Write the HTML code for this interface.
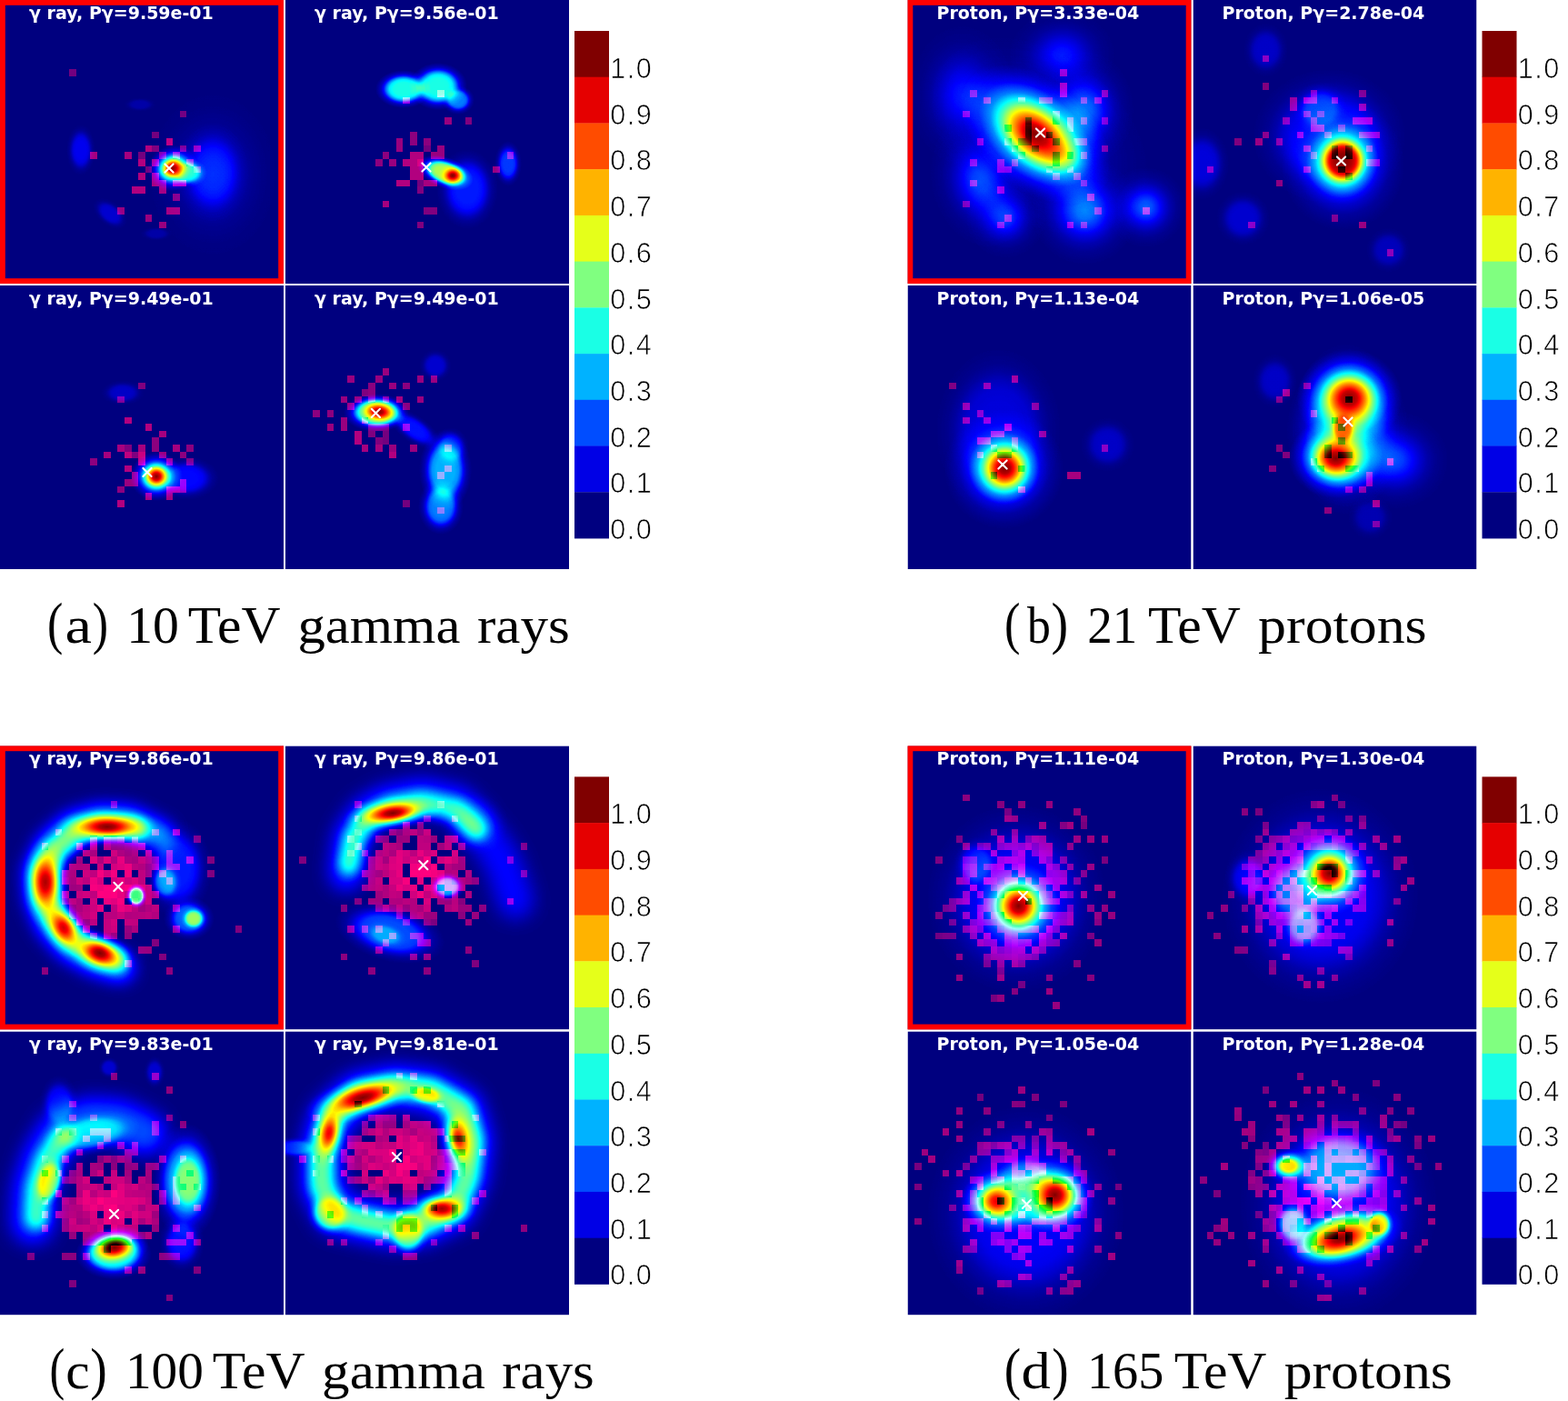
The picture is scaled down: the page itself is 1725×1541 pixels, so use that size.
<!DOCTYPE html><html><head><meta charset="utf-8"><title>figure</title><style>
html,body{margin:0;padding:0;background:#fff;}body{width:1725px;height:1541px;overflow:hidden;}
svg{display:block;}
.tt{font-family:"DejaVu Sans","Liberation Sans",sans-serif;font-weight:bold;fill:#fff;}
.cb{font-family:"Liberation Sans",sans-serif;fill:#000;stroke:#fff;stroke-width:0.7px;letter-spacing:1.5px;}
.cap{font-family:"Liberation Serif","DejaVu Serif",serif;fill:#000;}
</style></head><body>
<svg width="1725" height="1541" viewBox="0 0 1725 1541">
<defs>
<filter id="jet" filterUnits="userSpaceOnUse" x="0" y="0" width="312" height="312" color-interpolation-filters="sRGB"><feComponentTransfer><feFuncR type="table" tableValues="0 0 0 0 0 0 0 0 0 0 0 0 0 0 0 0 0 0 0 0 0 0 0 0 0 0 0 0 0 0 0 0 0 0 0 0 0 0 0 0 0 0 0 0 0 0 0 0 0 0.031 0.062 0.094 0.125 0.156 0.188 0.219 0.25 0.281 0.312 0.344 0.375 0.406 0.438 0.469 0.5 0.531 0.562 0.594 0.625 0.656 0.688 0.719 0.75 0.781 0.812 0.844 0.875 0.906 0.938 0.969 1 1 1 1 1 1 1 1 1 1 1 1 1 1 1 1 1 1 1 1 1 1 1 1 1 1 1 1 1 1 1 1 1 0.969 0.938 0.906 0.875 0.844 0.812 0.781 0.75 0.719 0.688 0.656 0.625 0.594 0.562 0.531 0.5"/><feFuncG type="table" tableValues="0 0 0 0 0 0 0 0 0 0 0 0 0 0 0 0 0 0.031 0.062 0.094 0.125 0.156 0.188 0.219 0.25 0.281 0.312 0.344 0.375 0.406 0.438 0.469 0.5 0.531 0.562 0.594 0.625 0.656 0.688 0.719 0.75 0.781 0.812 0.844 0.875 0.906 0.938 0.969 1 1 1 1 1 1 1 1 1 1 1 1 1 1 1 1 1 1 1 1 1 1 1 1 1 1 1 1 1 1 1 1 1 0.969 0.938 0.906 0.875 0.844 0.812 0.781 0.75 0.719 0.688 0.656 0.625 0.594 0.562 0.531 0.5 0.469 0.438 0.406 0.375 0.344 0.312 0.281 0.25 0.219 0.188 0.156 0.125 0.094 0.062 0.031 0 0 0 0 0 0 0 0 0 0 0 0 0 0 0 0 0"/><feFuncB type="table" tableValues="0.5 0.531 0.562 0.594 0.625 0.656 0.688 0.719 0.75 0.781 0.812 0.844 0.875 0.906 0.938 0.969 1 1 1 1 1 1 1 1 1 1 1 1 1 1 1 1 1 1 1 1 1 1 1 1 1 1 1 1 1 1 1 1 1 0.969 0.938 0.906 0.875 0.844 0.812 0.781 0.75 0.719 0.688 0.656 0.625 0.594 0.562 0.531 0.5 0.469 0.438 0.406 0.375 0.344 0.312 0.281 0.25 0.219 0.188 0.156 0.125 0.094 0.062 0.031 0 0 0 0 0 0 0 0 0 0 0 0 0 0 0 0 0 0 0 0 0 0 0 0 0 0 0 0 0 0 0 0 0 0 0 0 0 0 0 0 0 0 0 0 0 0 0 0 0"/></feComponentTransfer></filter>
<filter id="b1" filterUnits="userSpaceOnUse" x="-60" y="-60" width="432" height="432" color-interpolation-filters="sRGB"><feGaussianBlur stdDeviation="1"/></filter>
<filter id="b2" filterUnits="userSpaceOnUse" x="-60" y="-60" width="432" height="432" color-interpolation-filters="sRGB"><feGaussianBlur stdDeviation="2"/></filter>
<filter id="b3" filterUnits="userSpaceOnUse" x="-60" y="-60" width="432" height="432" color-interpolation-filters="sRGB"><feGaussianBlur stdDeviation="3"/></filter>
<filter id="b4" filterUnits="userSpaceOnUse" x="-60" y="-60" width="432" height="432" color-interpolation-filters="sRGB"><feGaussianBlur stdDeviation="4"/></filter>
<filter id="b5" filterUnits="userSpaceOnUse" x="-60" y="-60" width="432" height="432" color-interpolation-filters="sRGB"><feGaussianBlur stdDeviation="5"/></filter>
<filter id="b6" filterUnits="userSpaceOnUse" x="-60" y="-60" width="432" height="432" color-interpolation-filters="sRGB"><feGaussianBlur stdDeviation="6"/></filter>
<filter id="b7" filterUnits="userSpaceOnUse" x="-60" y="-60" width="432" height="432" color-interpolation-filters="sRGB"><feGaussianBlur stdDeviation="7"/></filter>
<filter id="b8" filterUnits="userSpaceOnUse" x="-60" y="-60" width="432" height="432" color-interpolation-filters="sRGB"><feGaussianBlur stdDeviation="8"/></filter>
<filter id="b9" filterUnits="userSpaceOnUse" x="-60" y="-60" width="432" height="432" color-interpolation-filters="sRGB"><feGaussianBlur stdDeviation="9"/></filter>
<filter id="b10" filterUnits="userSpaceOnUse" x="-60" y="-60" width="432" height="432" color-interpolation-filters="sRGB"><feGaussianBlur stdDeviation="10"/></filter>
<filter id="b11" filterUnits="userSpaceOnUse" x="-60" y="-60" width="432" height="432" color-interpolation-filters="sRGB"><feGaussianBlur stdDeviation="11"/></filter>
<filter id="b12" filterUnits="userSpaceOnUse" x="-60" y="-60" width="432" height="432" color-interpolation-filters="sRGB"><feGaussianBlur stdDeviation="12"/></filter>
<filter id="b13" filterUnits="userSpaceOnUse" x="-60" y="-60" width="432" height="432" color-interpolation-filters="sRGB"><feGaussianBlur stdDeviation="13"/></filter>
<filter id="b14" filterUnits="userSpaceOnUse" x="-60" y="-60" width="432" height="432" color-interpolation-filters="sRGB"><feGaussianBlur stdDeviation="14"/></filter>
<filter id="b15" filterUnits="userSpaceOnUse" x="-60" y="-60" width="432" height="432" color-interpolation-filters="sRGB"><feGaussianBlur stdDeviation="15"/></filter>
<filter id="b16" filterUnits="userSpaceOnUse" x="-60" y="-60" width="432" height="432" color-interpolation-filters="sRGB"><feGaussianBlur stdDeviation="16"/></filter>
<filter id="b17" filterUnits="userSpaceOnUse" x="-60" y="-60" width="432" height="432" color-interpolation-filters="sRGB"><feGaussianBlur stdDeviation="17"/></filter>
<filter id="b18" filterUnits="userSpaceOnUse" x="-60" y="-60" width="432" height="432" color-interpolation-filters="sRGB"><feGaussianBlur stdDeviation="18"/></filter>
<filter id="b19" filterUnits="userSpaceOnUse" x="-60" y="-60" width="432" height="432" color-interpolation-filters="sRGB"><feGaussianBlur stdDeviation="19"/></filter>
<filter id="b20" filterUnits="userSpaceOnUse" x="-60" y="-60" width="432" height="432" color-interpolation-filters="sRGB"><feGaussianBlur stdDeviation="20"/></filter>
<clipPath id="pc"><rect x="0" y="0" width="312" height="312"/></clipPath>
<radialGradient id="rg"><stop offset="0" stop-color="#fff" stop-opacity="1"/><stop offset="0.15" stop-color="#fff" stop-opacity="0.904"/><stop offset="0.30" stop-color="#fff" stop-opacity="0.667"/><stop offset="0.45" stop-color="#fff" stop-opacity="0.402"/><stop offset="0.60" stop-color="#fff" stop-opacity="0.198"/><stop offset="0.75" stop-color="#fff" stop-opacity="0.080"/><stop offset="0.90" stop-color="#fff" stop-opacity="0.026"/><stop offset="1" stop-color="#fff" stop-opacity="0"/></radialGradient>
<radialGradient id="rf"><stop offset="0" stop-color="#fff" stop-opacity="1"/><stop offset="0.20" stop-color="#fff" stop-opacity="1.000"/><stop offset="0.35" stop-color="#fff" stop-opacity="0.993"/><stop offset="0.50" stop-color="#fff" stop-opacity="0.891"/><stop offset="0.60" stop-color="#fff" stop-opacity="0.655"/><stop offset="0.70" stop-color="#fff" stop-opacity="0.356"/><stop offset="0.80" stop-color="#fff" stop-opacity="0.160"/><stop offset="0.90" stop-color="#fff" stop-opacity="0.069"/><stop offset="1" stop-color="#fff" stop-opacity="0"/></radialGradient>
</defs>
<g transform="translate(0 0)">
<g transform="translate(0 0)">
<g clip-path="url(#pc)"><g filter="url(#jet)"><rect width="312" height="312" fill="#000"/><ellipse cx="234" cy="190" rx="40" ry="55" fill="url(#rf)" opacity="0.09"/><ellipse cx="234" cy="192" rx="75" ry="95" fill="url(#rg)" opacity="0.09"/><ellipse cx="89" cy="165" rx="16" ry="28" fill="url(#rf)" opacity="0.11"/><ellipse cx="121" cy="235" rx="22" ry="13" fill="url(#rf)" opacity="0.08" transform="rotate(40 121 235)"/><ellipse cx="154" cy="115" rx="18" ry="8" fill="url(#rf)" opacity="0.04"/><ellipse cx="172" cy="257" rx="18" ry="8" fill="url(#rf)" opacity="0.04"/><ellipse cx="206" cy="190" rx="22" ry="16" fill="url(#rf)" opacity="0.30"/><ellipse cx="190" cy="185" rx="28" ry="25" fill="url(#rg)" opacity="1.00" transform="rotate(-20 190 185)"/></g><g style="mix-blend-mode:difference" shape-rendering="crispEdges"><rect x="76.10" y="76.10" width="7.61" height="7.61" fill="rgb(115,0,0)"/><rect x="197.85" y="121.76" width="7.61" height="7.61" fill="rgb(115,0,0)"/><rect x="167.41" y="144.59" width="7.61" height="7.61" fill="rgb(115,0,0)"/><rect x="182.63" y="152.20" width="7.61" height="7.61" fill="rgb(191,0,0)"/><rect x="159.80" y="159.80" width="7.61" height="7.61" fill="rgb(178,0,0)"/><rect x="167.41" y="159.80" width="7.61" height="7.61" fill="rgb(128,0,0)"/><rect x="197.85" y="159.80" width="7.61" height="7.61" fill="rgb(128,0,0)"/><rect x="213.07" y="159.80" width="7.61" height="7.61" fill="rgb(153,0,0)"/><rect x="98.93" y="167.41" width="7.61" height="7.61" fill="rgb(166,0,0)"/><rect x="136.98" y="167.41" width="7.61" height="7.61" fill="rgb(166,0,0)"/><rect x="152.20" y="167.41" width="7.61" height="7.61" fill="rgb(115,0,0)"/><rect x="175.02" y="167.41" width="7.61" height="7.61" fill="rgb(128,0,0)"/><rect x="190.24" y="167.41" width="7.61" height="7.61" fill="rgb(153,0,0)"/><rect x="152.20" y="175.02" width="7.61" height="7.61" fill="rgb(178,0,0)"/><rect x="167.41" y="175.02" width="7.61" height="7.61" fill="rgb(166,0,0)"/><rect x="205.46" y="175.02" width="7.61" height="7.61" fill="rgb(153,0,0)"/><rect x="159.80" y="182.63" width="7.61" height="7.61" fill="rgb(115,0,0)"/><rect x="213.07" y="182.63" width="7.61" height="7.61" fill="rgb(128,0,0)"/><rect x="152.20" y="190.24" width="7.61" height="7.61" fill="rgb(178,0,0)"/><rect x="167.41" y="190.24" width="7.61" height="7.61" fill="rgb(166,0,0)"/><rect x="167.41" y="197.85" width="7.61" height="7.61" fill="rgb(166,0,0)"/><rect x="175.02" y="197.85" width="7.61" height="7.61" fill="rgb(153,0,0)"/><rect x="190.24" y="197.85" width="7.61" height="7.61" fill="rgb(178,0,0)"/><rect x="197.85" y="197.85" width="7.61" height="7.61" fill="rgb(178,0,0)"/><rect x="144.59" y="205.46" width="7.61" height="7.61" fill="rgb(178,0,0)"/><rect x="152.20" y="205.46" width="7.61" height="7.61" fill="rgb(178,0,0)"/><rect x="175.02" y="205.46" width="7.61" height="7.61" fill="rgb(166,0,0)"/><rect x="190.24" y="213.07" width="7.61" height="7.61" fill="rgb(140,0,0)"/><rect x="129.37" y="228.29" width="7.61" height="7.61" fill="rgb(153,0,0)"/><rect x="182.63" y="228.29" width="7.61" height="7.61" fill="rgb(166,0,0)"/><rect x="190.24" y="228.29" width="7.61" height="7.61" fill="rgb(166,0,0)"/><rect x="159.80" y="235.90" width="7.61" height="7.61" fill="rgb(153,0,0)"/><rect x="175.02" y="243.51" width="7.61" height="7.61" fill="rgb(153,0,0)"/></g></g><path d="M181.4 180.4l9.2 9.2m0 -9.2l-9.2 9.2" stroke="#fff" stroke-width="2.1" stroke-linecap="round" fill="none"/><text class="tt" x="32" y="20.8" font-size="19">γ ray, Pγ=9.59e-01</text>
</g>
<g transform="translate(314 0)">
<g clip-path="url(#pc)"><g filter="url(#jet)"><rect width="312" height="312" fill="#000"/><ellipse cx="200" cy="208" rx="34" ry="44" fill="url(#rf)" opacity="0.15"/><ellipse cx="245" cy="180" rx="15" ry="25" fill="url(#rf)" opacity="0.18"/><ellipse cx="190" cy="110" rx="18" ry="16" fill="url(#rf)" opacity="0.25"/><ellipse cx="130" cy="98" rx="31" ry="21" fill="url(#rf)" opacity="0.40"/><ellipse cx="168" cy="95" rx="32" ry="26" fill="url(#rf)" opacity="0.40"/><ellipse cx="176" cy="190" rx="32" ry="17" fill="url(#rf)" opacity="0.55" transform="rotate(20 176 190)"/><ellipse cx="184" cy="193" rx="16" ry="13" fill="url(#rg)" opacity="1.00"/></g><g style="mix-blend-mode:difference" shape-rendering="crispEdges"><rect x="129.37" y="106.54" width="7.61" height="7.61" fill="rgb(153,0,0)"/><rect x="167.41" y="98.93" width="7.61" height="7.61" fill="rgb(178,0,0)"/><rect x="175.02" y="129.37" width="7.61" height="7.61" fill="rgb(153,0,0)"/><rect x="197.85" y="129.37" width="7.61" height="7.61" fill="rgb(128,0,0)"/><rect x="136.98" y="144.59" width="7.61" height="7.61" fill="rgb(140,0,0)"/><rect x="136.98" y="152.20" width="7.61" height="7.61" fill="rgb(140,0,0)"/><rect x="121.76" y="152.20" width="7.61" height="7.61" fill="rgb(153,0,0)"/><rect x="121.76" y="159.80" width="7.61" height="7.61" fill="rgb(153,0,0)"/><rect x="152.20" y="152.20" width="7.61" height="7.61" fill="rgb(140,0,0)"/><rect x="152.20" y="159.80" width="7.61" height="7.61" fill="rgb(115,0,0)"/><rect x="167.41" y="159.80" width="7.61" height="7.61" fill="rgb(153,0,0)"/><rect x="106.54" y="167.41" width="7.61" height="7.61" fill="rgb(140,0,0)"/><rect x="136.98" y="167.41" width="7.61" height="7.61" fill="rgb(178,0,0)"/><rect x="144.59" y="167.41" width="7.61" height="7.61" fill="rgb(178,0,0)"/><rect x="159.80" y="167.41" width="7.61" height="7.61" fill="rgb(153,0,0)"/><rect x="167.41" y="167.41" width="7.61" height="7.61" fill="rgb(153,0,0)"/><rect x="98.93" y="175.02" width="7.61" height="7.61" fill="rgb(140,0,0)"/><rect x="114.15" y="175.02" width="7.61" height="7.61" fill="rgb(153,0,0)"/><rect x="129.37" y="175.02" width="7.61" height="7.61" fill="rgb(178,0,0)"/><rect x="136.98" y="175.02" width="7.61" height="7.61" fill="rgb(178,0,0)"/><rect x="144.59" y="175.02" width="7.61" height="7.61" fill="rgb(217,0,0)"/><rect x="136.98" y="182.63" width="7.61" height="7.61" fill="rgb(178,0,0)"/><rect x="144.59" y="182.63" width="7.61" height="7.61" fill="rgb(178,0,0)"/><rect x="136.98" y="190.24" width="7.61" height="7.61" fill="rgb(178,0,0)"/><rect x="144.59" y="190.24" width="7.61" height="7.61" fill="rgb(178,0,0)"/><rect x="121.76" y="197.85" width="7.61" height="7.61" fill="rgb(178,0,0)"/><rect x="129.37" y="197.85" width="7.61" height="7.61" fill="rgb(178,0,0)"/><rect x="144.59" y="197.85" width="7.61" height="7.61" fill="rgb(115,0,0)"/><rect x="152.20" y="197.85" width="7.61" height="7.61" fill="rgb(166,0,0)"/><rect x="159.80" y="197.85" width="7.61" height="7.61" fill="rgb(166,0,0)"/><rect x="144.59" y="205.46" width="7.61" height="7.61" fill="rgb(128,0,0)"/><rect x="106.54" y="220.68" width="7.61" height="7.61" fill="rgb(166,0,0)"/><rect x="152.20" y="228.29" width="7.61" height="7.61" fill="rgb(128,0,0)"/><rect x="159.80" y="228.29" width="7.61" height="7.61" fill="rgb(128,0,0)"/><rect x="144.59" y="243.51" width="7.61" height="7.61" fill="rgb(128,0,0)"/><rect x="228.29" y="182.63" width="7.61" height="7.61" fill="rgb(153,0,0)"/><rect x="243.51" y="167.41" width="7.61" height="7.61" fill="rgb(140,0,0)"/></g></g><path d="M150.4 179.4l9.2 9.2m0 -9.2l-9.2 9.2" stroke="#fff" stroke-width="2.1" stroke-linecap="round" fill="none"/><text class="tt" x="32" y="20.8" font-size="19">γ ray, Pγ=9.56e-01</text>
</g>
<g transform="translate(0 314)">
<g clip-path="url(#pc)"><g filter="url(#jet)"><rect width="312" height="312" fill="#000"/><ellipse cx="135" cy="118" rx="24" ry="14" fill="url(#rf)" opacity="0.07"/><ellipse cx="205" cy="212" rx="36" ry="24" fill="url(#rf)" opacity="0.13"/><ellipse cx="172" cy="210" rx="29" ry="27" fill="url(#rg)" opacity="1.00"/></g><g style="mix-blend-mode:difference" shape-rendering="crispEdges"><rect x="152.20" y="106.54" width="7.61" height="7.61" fill="rgb(128,0,0)"/><rect x="129.37" y="121.76" width="7.61" height="7.61" fill="rgb(128,0,0)"/><rect x="136.98" y="144.59" width="7.61" height="7.61" fill="rgb(178,0,0)"/><rect x="159.80" y="152.20" width="7.61" height="7.61" fill="rgb(178,0,0)"/><rect x="175.02" y="159.80" width="7.61" height="7.61" fill="rgb(166,0,0)"/><rect x="167.41" y="167.41" width="7.61" height="7.61" fill="rgb(140,0,0)"/><rect x="167.41" y="175.02" width="7.61" height="7.61" fill="rgb(140,0,0)"/><rect x="129.37" y="175.02" width="7.61" height="7.61" fill="rgb(166,0,0)"/><rect x="136.98" y="175.02" width="7.61" height="7.61" fill="rgb(128,0,0)"/><rect x="152.20" y="175.02" width="7.61" height="7.61" fill="rgb(166,0,0)"/><rect x="190.24" y="175.02" width="7.61" height="7.61" fill="rgb(166,0,0)"/><rect x="205.46" y="175.02" width="7.61" height="7.61" fill="rgb(140,0,0)"/><rect x="114.15" y="182.63" width="7.61" height="7.61" fill="rgb(166,0,0)"/><rect x="136.98" y="182.63" width="7.61" height="7.61" fill="rgb(191,0,0)"/><rect x="144.59" y="182.63" width="7.61" height="7.61" fill="rgb(128,0,0)"/><rect x="152.20" y="182.63" width="7.61" height="7.61" fill="rgb(204,0,0)"/><rect x="175.02" y="182.63" width="7.61" height="7.61" fill="rgb(153,0,0)"/><rect x="197.85" y="182.63" width="7.61" height="7.61" fill="rgb(140,0,0)"/><rect x="98.93" y="190.24" width="7.61" height="7.61" fill="rgb(140,0,0)"/><rect x="152.20" y="190.24" width="7.61" height="7.61" fill="rgb(191,0,0)"/><rect x="182.63" y="190.24" width="7.61" height="7.61" fill="rgb(153,0,0)"/><rect x="205.46" y="190.24" width="7.61" height="7.61" fill="rgb(128,0,0)"/><rect x="136.98" y="197.85" width="7.61" height="7.61" fill="rgb(178,0,0)"/><rect x="144.59" y="205.46" width="7.61" height="7.61" fill="rgb(153,0,0)"/><rect x="136.98" y="213.07" width="7.61" height="7.61" fill="rgb(153,0,0)"/><rect x="144.59" y="213.07" width="7.61" height="7.61" fill="rgb(153,0,0)"/><rect x="197.85" y="213.07" width="7.61" height="7.61" fill="rgb(153,0,0)"/><rect x="197.85" y="220.68" width="7.61" height="7.61" fill="rgb(153,0,0)"/><rect x="182.63" y="220.68" width="7.61" height="7.61" fill="rgb(178,0,0)"/><rect x="190.24" y="220.68" width="7.61" height="7.61" fill="rgb(178,0,0)"/><rect x="129.37" y="220.68" width="7.61" height="7.61" fill="rgb(140,0,0)"/><rect x="159.80" y="228.29" width="7.61" height="7.61" fill="rgb(166,0,0)"/><rect x="182.63" y="228.29" width="7.61" height="7.61" fill="rgb(166,0,0)"/><rect x="129.37" y="235.90" width="7.61" height="7.61" fill="rgb(178,0,0)"/></g></g><path d="M157.4 200.9l9.2 9.2m0 -9.2l-9.2 9.2" stroke="#fff" stroke-width="2.1" stroke-linecap="round" fill="none"/><text class="tt" x="32" y="20.8" font-size="19">γ ray, Pγ=9.49e-01</text>
</g>
<g transform="translate(314 314)">
<g clip-path="url(#pc)"><g filter="url(#jet)"><rect width="312" height="312" fill="#000"/><ellipse cx="165" cy="88" rx="18" ry="18" fill="url(#rf)" opacity="0.08"/><ellipse cx="142" cy="158" rx="34" ry="15" fill="url(#rf)" opacity="0.14" transform="rotate(35 142 158)"/><ellipse cx="182" cy="178" rx="20" ry="22" fill="url(#rf)" opacity="0.12"/><ellipse cx="176" cy="203" rx="29" ry="45" fill="url(#rf)" opacity="0.30"/><ellipse cx="171" cy="243" rx="25" ry="31" fill="url(#rf)" opacity="0.25"/><ellipse cx="100" cy="140" rx="36" ry="21" fill="url(#rf)" opacity="0.42"/><ellipse cx="103" cy="139" rx="30" ry="18" fill="url(#rg)" opacity="1.00" transform="rotate(5 103 139)"/></g><g style="mix-blend-mode:difference" shape-rendering="crispEdges"><rect x="106.54" y="91.32" width="7.61" height="7.61" fill="rgb(153,0,0)"/><rect x="68.49" y="98.93" width="7.61" height="7.61" fill="rgb(153,0,0)"/><rect x="98.93" y="98.93" width="7.61" height="7.61" fill="rgb(153,0,0)"/><rect x="144.59" y="98.93" width="7.61" height="7.61" fill="rgb(153,0,0)"/><rect x="159.80" y="98.93" width="7.61" height="7.61" fill="rgb(153,0,0)"/><rect x="91.32" y="106.54" width="7.61" height="7.61" fill="rgb(140,0,0)"/><rect x="114.15" y="106.54" width="7.61" height="7.61" fill="rgb(153,0,0)"/><rect x="129.37" y="106.54" width="7.61" height="7.61" fill="rgb(140,0,0)"/><rect x="83.71" y="114.15" width="7.61" height="7.61" fill="rgb(128,0,0)"/><rect x="91.32" y="114.15" width="7.61" height="7.61" fill="rgb(140,0,0)"/><rect x="91.32" y="121.76" width="7.61" height="7.61" fill="rgb(140,0,0)"/><rect x="60.88" y="121.76" width="7.61" height="7.61" fill="rgb(153,0,0)"/><rect x="76.10" y="121.76" width="7.61" height="7.61" fill="rgb(153,0,0)"/><rect x="106.54" y="121.76" width="7.61" height="7.61" fill="rgb(140,0,0)"/><rect x="121.76" y="121.76" width="7.61" height="7.61" fill="rgb(166,0,0)"/><rect x="144.59" y="121.76" width="7.61" height="7.61" fill="rgb(153,0,0)"/><rect x="68.49" y="129.37" width="7.61" height="7.61" fill="rgb(153,0,0)"/><rect x="129.37" y="129.37" width="7.61" height="7.61" fill="rgb(140,0,0)"/><rect x="30.44" y="136.98" width="7.61" height="7.61" fill="rgb(140,0,0)"/><rect x="45.66" y="136.98" width="7.61" height="7.61" fill="rgb(140,0,0)"/><rect x="60.88" y="144.59" width="7.61" height="7.61" fill="rgb(153,0,0)"/><rect x="60.88" y="152.20" width="7.61" height="7.61" fill="rgb(153,0,0)"/><rect x="45.66" y="152.20" width="7.61" height="7.61" fill="rgb(153,0,0)"/><rect x="83.71" y="144.59" width="7.61" height="7.61" fill="rgb(178,0,0)"/><rect x="91.32" y="152.20" width="7.61" height="7.61" fill="rgb(128,0,0)"/><rect x="98.93" y="152.20" width="7.61" height="7.61" fill="rgb(128,0,0)"/><rect x="106.54" y="152.20" width="7.61" height="7.61" fill="rgb(128,0,0)"/><rect x="129.37" y="152.20" width="7.61" height="7.61" fill="rgb(153,0,0)"/><rect x="76.10" y="159.80" width="7.61" height="7.61" fill="rgb(178,0,0)"/><rect x="76.10" y="167.41" width="7.61" height="7.61" fill="rgb(178,0,0)"/><rect x="91.32" y="159.80" width="7.61" height="7.61" fill="rgb(128,0,0)"/><rect x="106.54" y="159.80" width="7.61" height="7.61" fill="rgb(115,0,0)"/><rect x="106.54" y="167.41" width="7.61" height="7.61" fill="rgb(115,0,0)"/><rect x="98.93" y="167.41" width="7.61" height="7.61" fill="rgb(128,0,0)"/><rect x="83.71" y="175.02" width="7.61" height="7.61" fill="rgb(166,0,0)"/><rect x="98.93" y="175.02" width="7.61" height="7.61" fill="rgb(166,0,0)"/><rect x="114.15" y="175.02" width="7.61" height="7.61" fill="rgb(153,0,0)"/><rect x="114.15" y="182.63" width="7.61" height="7.61" fill="rgb(178,0,0)"/><rect x="136.98" y="175.02" width="7.61" height="7.61" fill="rgb(153,0,0)"/><rect x="175.02" y="175.02" width="7.61" height="7.61" fill="rgb(140,0,0)"/><rect x="175.02" y="197.85" width="7.61" height="7.61" fill="rgb(153,0,0)"/><rect x="167.41" y="205.46" width="7.61" height="7.61" fill="rgb(153,0,0)"/><rect x="129.37" y="235.90" width="7.61" height="7.61" fill="rgb(115,0,0)"/><rect x="167.41" y="243.51" width="7.61" height="7.61" fill="rgb(140,0,0)"/></g></g><path d="M94.8 135.8l9.2 9.2m0 -9.2l-9.2 9.2" stroke="#fff" stroke-width="2.1" stroke-linecap="round" fill="none"/><text class="tt" x="32" y="20.8" font-size="19">γ ray, Pγ=9.49e-01</text>
</g>
<rect x="2.9" y="2.9" width="306.2" height="306.2" fill="none" stroke="#f00" stroke-width="5.8"/>
<rect x="632" y="34" width="38" height="51.1" fill="rgb(128,0,0)"/>
<rect x="632" y="84.7" width="38" height="51.1" fill="rgb(229,0,0)"/>
<rect x="632" y="135.5" width="38" height="51.1" fill="rgb(255,76,0)"/>
<rect x="632" y="186.2" width="38" height="51.1" fill="rgb(255,179,0)"/>
<rect x="632" y="236.9" width="38" height="51.1" fill="rgb(229,255,26)"/>
<rect x="632" y="287.6" width="38" height="51.1" fill="rgb(128,255,128)"/>
<rect x="632" y="338.4" width="38" height="51.1" fill="rgb(26,255,229)"/>
<rect x="632" y="389.1" width="38" height="51.1" fill="rgb(0,178,255)"/>
<rect x="632" y="439.8" width="38" height="51.1" fill="rgb(0,77,255)"/>
<rect x="632" y="490.5" width="38" height="51.1" fill="rgb(0,0,230)"/>
<rect x="632" y="541.3" width="38" height="51.1" fill="rgb(0,0,128)"/>
<text class="cb" x="671.2" y="85.8" font-size="30.6">1.0</text>
<text class="cb" x="671.2" y="136.6" font-size="30.6">0.9</text>
<text class="cb" x="671.2" y="187.3" font-size="30.6">0.8</text>
<text class="cb" x="671.2" y="238" font-size="30.6">0.7</text>
<text class="cb" x="671.2" y="288.7" font-size="30.6">0.6</text>
<text class="cb" x="671.2" y="339.5" font-size="30.6">0.5</text>
<text class="cb" x="671.2" y="390.2" font-size="30.6">0.4</text>
<text class="cb" x="671.2" y="440.9" font-size="30.6">0.3</text>
<text class="cb" x="671.2" y="491.6" font-size="30.6">0.2</text>
<text class="cb" x="671.2" y="542.4" font-size="30.6">0.1</text>
<text class="cb" x="671.2" y="593.1" font-size="30.6">0.0</text>
</g>
<text class="cap" font-size="56" transform="translate(52.01 707.40) scale(0.9286 1.12)">(</text>
<text class="cap" font-size="56" transform="translate(71.53 707.40) scale(1.1864 1.00)">a</text>
<text class="cap" font-size="56" transform="translate(101.64 707.40) scale(0.9286 1.12)">)</text>
<text class="cap" font-size="56" transform="translate(139.15 707.40) scale(1.0306 1.00)">10</text>
<text class="cap" font-size="56" transform="translate(206.74 707.40) scale(1.0638 1.00)">TeV</text>
<text class="cap" font-size="56" transform="translate(327.43 707.40) scale(1.0858 1.00)">gamma</text>
<text class="cap" font-size="56" transform="translate(524.91 707.40) scale(1.0922 1.00)">rays</text>
<g transform="translate(998.5 0)">
<g transform="translate(0 0)">
<g clip-path="url(#pc)"><g filter="url(#jet)"><rect width="312" height="312" fill="#000"/><ellipse cx="60" cy="105" rx="60" ry="80" fill="url(#rg)" opacity="0.14"/><ellipse cx="170" cy="60" rx="60" ry="50" fill="url(#rg)" opacity="0.15"/><ellipse cx="195" cy="120" rx="55" ry="65" fill="url(#rg)" opacity="0.22"/><ellipse cx="80" cy="200" rx="55" ry="75" fill="url(#rg)" opacity="0.20" transform="rotate(-15 80 200)"/><ellipse cx="108" cy="240" rx="45" ry="45" fill="url(#rg)" opacity="0.17"/><ellipse cx="195" cy="232" rx="60" ry="60" fill="url(#rg)" opacity="0.25"/><ellipse cx="262" cy="228" rx="45" ry="45" fill="url(#rg)" opacity="0.22"/><ellipse cx="145" cy="150" rx="140" ry="95" fill="url(#rg)" opacity="0.14" transform="rotate(38 145 150)"/><ellipse cx="141" cy="148" rx="96" ry="60" fill="url(#rg)" opacity="1.00" transform="rotate(40 141 148)"/><ellipse cx="168" cy="170" rx="44" ry="32" fill="url(#rg)" opacity="0.30" transform="rotate(30 168 170)"/></g><g style="mix-blend-mode:difference" shape-rendering="crispEdges"><rect x="167.41" y="76.10" width="7.61" height="7.61" fill="rgb(153,0,0)"/><rect x="167.41" y="91.32" width="7.61" height="7.61" fill="rgb(166,0,0)"/><rect x="167.41" y="98.93" width="7.61" height="7.61" fill="rgb(166,0,0)"/><rect x="68.49" y="98.93" width="7.61" height="7.61" fill="rgb(140,0,0)"/><rect x="213.07" y="98.93" width="7.61" height="7.61" fill="rgb(140,0,0)"/><rect x="83.71" y="106.54" width="7.61" height="7.61" fill="rgb(153,0,0)"/><rect x="121.76" y="106.54" width="7.61" height="7.61" fill="rgb(153,0,0)"/><rect x="144.59" y="106.54" width="7.61" height="7.61" fill="rgb(140,0,0)"/><rect x="152.20" y="106.54" width="7.61" height="7.61" fill="rgb(140,0,0)"/><rect x="190.24" y="106.54" width="7.61" height="7.61" fill="rgb(140,0,0)"/><rect x="205.46" y="106.54" width="7.61" height="7.61" fill="rgb(140,0,0)"/><rect x="60.88" y="121.76" width="7.61" height="7.61" fill="rgb(140,0,0)"/><rect x="159.80" y="121.76" width="7.61" height="7.61" fill="rgb(153,0,0)"/><rect x="159.80" y="129.37" width="7.61" height="7.61" fill="rgb(153,0,0)"/><rect x="175.02" y="129.37" width="7.61" height="7.61" fill="rgb(153,0,0)"/><rect x="175.02" y="136.98" width="7.61" height="7.61" fill="rgb(153,0,0)"/><rect x="190.24" y="129.37" width="7.61" height="7.61" fill="rgb(140,0,0)"/><rect x="213.07" y="129.37" width="7.61" height="7.61" fill="rgb(128,0,0)"/><rect x="129.37" y="129.37" width="7.61" height="7.61" fill="rgb(153,0,0)"/><rect x="106.54" y="136.98" width="7.61" height="7.61" fill="rgb(153,0,0)"/><rect x="129.37" y="136.98" width="7.61" height="7.61" fill="rgb(128,0,0)"/><rect x="129.37" y="144.59" width="7.61" height="7.61" fill="rgb(128,0,0)"/><rect x="152.20" y="144.59" width="7.61" height="7.61" fill="rgb(153,0,0)"/><rect x="76.10" y="152.20" width="7.61" height="7.61" fill="rgb(140,0,0)"/><rect x="121.76" y="152.20" width="7.61" height="7.61" fill="rgb(128,0,0)"/><rect x="129.37" y="152.20" width="7.61" height="7.61" fill="rgb(128,0,0)"/><rect x="159.80" y="152.20" width="7.61" height="7.61" fill="rgb(153,0,0)"/><rect x="106.54" y="152.20" width="7.61" height="7.61" fill="rgb(153,0,0)"/><rect x="182.63" y="152.20" width="7.61" height="7.61" fill="rgb(140,0,0)"/><rect x="190.24" y="152.20" width="7.61" height="7.61" fill="rgb(140,0,0)"/><rect x="136.98" y="159.80" width="7.61" height="7.61" fill="rgb(128,0,0)"/><rect x="114.15" y="159.80" width="7.61" height="7.61" fill="rgb(153,0,0)"/><rect x="213.07" y="159.80" width="7.61" height="7.61" fill="rgb(128,0,0)"/><rect x="159.80" y="167.41" width="7.61" height="7.61" fill="rgb(153,0,0)"/><rect x="159.80" y="175.02" width="7.61" height="7.61" fill="rgb(153,0,0)"/><rect x="175.02" y="167.41" width="7.61" height="7.61" fill="rgb(153,0,0)"/><rect x="190.24" y="167.41" width="7.61" height="7.61" fill="rgb(140,0,0)"/><rect x="121.76" y="167.41" width="7.61" height="7.61" fill="rgb(140,0,0)"/><rect x="68.49" y="175.02" width="7.61" height="7.61" fill="rgb(140,0,0)"/><rect x="98.93" y="175.02" width="7.61" height="7.61" fill="rgb(140,0,0)"/><rect x="98.93" y="182.63" width="7.61" height="7.61" fill="rgb(140,0,0)"/><rect x="114.15" y="175.02" width="7.61" height="7.61" fill="rgb(140,0,0)"/><rect x="106.54" y="182.63" width="7.61" height="7.61" fill="rgb(128,0,0)"/><rect x="152.20" y="182.63" width="7.61" height="7.61" fill="rgb(140,0,0)"/><rect x="175.02" y="182.63" width="7.61" height="7.61" fill="rgb(140,0,0)"/><rect x="159.80" y="190.24" width="7.61" height="7.61" fill="rgb(140,0,0)"/><rect x="182.63" y="190.24" width="7.61" height="7.61" fill="rgb(140,0,0)"/><rect x="190.24" y="197.85" width="7.61" height="7.61" fill="rgb(128,0,0)"/><rect x="68.49" y="197.85" width="7.61" height="7.61" fill="rgb(153,0,0)"/><rect x="98.93" y="205.46" width="7.61" height="7.61" fill="rgb(153,0,0)"/><rect x="197.85" y="213.07" width="7.61" height="7.61" fill="rgb(166,0,0)"/><rect x="60.88" y="220.68" width="7.61" height="7.61" fill="rgb(128,0,0)"/><rect x="205.46" y="228.29" width="7.61" height="7.61" fill="rgb(153,0,0)"/><rect x="258.73" y="228.29" width="7.61" height="7.61" fill="rgb(178,0,0)"/><rect x="106.54" y="235.90" width="7.61" height="7.61" fill="rgb(153,0,0)"/><rect x="98.93" y="243.51" width="7.61" height="7.61" fill="rgb(140,0,0)"/><rect x="175.02" y="243.51" width="7.61" height="7.61" fill="rgb(153,0,0)"/><rect x="190.24" y="243.51" width="7.61" height="7.61" fill="rgb(140,0,0)"/></g></g><path d="M141.4 141.4l9.2 9.2m0 -9.2l-9.2 9.2" stroke="#fff" stroke-width="2.1" stroke-linecap="round" fill="none"/><text class="tt" x="32" y="20.8" font-size="19">Proton, Pγ=3.33e-04</text>
</g>
<g transform="translate(314 0)">
<g clip-path="url(#pc)"><g filter="url(#jet)"><rect width="312" height="312" fill="#000"/><ellipse cx="150" cy="150" rx="85" ry="75" fill="url(#rf)" opacity="0.12"/><ellipse cx="10" cy="180" rx="30" ry="40" fill="url(#rf)" opacity="0.09"/><ellipse cx="80" cy="55" rx="25" ry="30" fill="url(#rf)" opacity="0.07"/><ellipse cx="55" cy="240" rx="30" ry="30" fill="url(#rf)" opacity="0.08"/><ellipse cx="215" cy="275" rx="25" ry="25" fill="url(#rf)" opacity="0.06"/><ellipse cx="140" cy="120" rx="30" ry="30" fill="url(#rf)" opacity="0.10"/><ellipse cx="165" cy="182" rx="68" ry="72" fill="url(#rg)" opacity="0.38"/><ellipse cx="165" cy="177" rx="27" ry="27" fill="url(#rf)" opacity="0.72"/><ellipse cx="164" cy="176" rx="40" ry="42" fill="url(#rg)" opacity="1.00"/></g><g style="mix-blend-mode:difference" shape-rendering="crispEdges"><rect x="76.10" y="60.88" width="7.61" height="7.61" fill="rgb(140,0,0)"/><rect x="76.10" y="91.32" width="7.61" height="7.61" fill="rgb(128,0,0)"/><rect x="129.37" y="98.93" width="7.61" height="7.61" fill="rgb(128,0,0)"/><rect x="182.63" y="98.93" width="7.61" height="7.61" fill="rgb(128,0,0)"/><rect x="106.54" y="106.54" width="7.61" height="7.61" fill="rgb(153,0,0)"/><rect x="106.54" y="114.15" width="7.61" height="7.61" fill="rgb(153,0,0)"/><rect x="121.76" y="106.54" width="7.61" height="7.61" fill="rgb(166,0,0)"/><rect x="129.37" y="106.54" width="7.61" height="7.61" fill="rgb(166,0,0)"/><rect x="152.20" y="106.54" width="7.61" height="7.61" fill="rgb(140,0,0)"/><rect x="182.63" y="114.15" width="7.61" height="7.61" fill="rgb(153,0,0)"/><rect x="121.76" y="121.76" width="7.61" height="7.61" fill="rgb(140,0,0)"/><rect x="136.98" y="121.76" width="7.61" height="7.61" fill="rgb(128,0,0)"/><rect x="98.93" y="129.37" width="7.61" height="7.61" fill="rgb(140,0,0)"/><rect x="129.37" y="129.37" width="7.61" height="7.61" fill="rgb(140,0,0)"/><rect x="175.02" y="129.37" width="7.61" height="7.61" fill="rgb(166,0,0)"/><rect x="182.63" y="129.37" width="7.61" height="7.61" fill="rgb(166,0,0)"/><rect x="190.24" y="129.37" width="7.61" height="7.61" fill="rgb(166,0,0)"/><rect x="129.37" y="136.98" width="7.61" height="7.61" fill="rgb(166,0,0)"/><rect x="136.98" y="136.98" width="7.61" height="7.61" fill="rgb(166,0,0)"/><rect x="159.80" y="136.98" width="7.61" height="7.61" fill="rgb(128,0,0)"/><rect x="76.10" y="144.59" width="7.61" height="7.61" fill="rgb(140,0,0)"/><rect x="114.15" y="144.59" width="7.61" height="7.61" fill="rgb(153,0,0)"/><rect x="144.59" y="144.59" width="7.61" height="7.61" fill="rgb(140,0,0)"/><rect x="182.63" y="144.59" width="7.61" height="7.61" fill="rgb(153,0,0)"/><rect x="190.24" y="144.59" width="7.61" height="7.61" fill="rgb(153,0,0)"/><rect x="197.85" y="144.59" width="7.61" height="7.61" fill="rgb(153,0,0)"/><rect x="45.66" y="152.20" width="7.61" height="7.61" fill="rgb(128,0,0)"/><rect x="68.49" y="152.20" width="7.61" height="7.61" fill="rgb(153,0,0)"/><rect x="91.32" y="152.20" width="7.61" height="7.61" fill="rgb(140,0,0)"/><rect x="121.76" y="159.80" width="7.61" height="7.61" fill="rgb(153,0,0)"/><rect x="190.24" y="159.80" width="7.61" height="7.61" fill="rgb(140,0,0)"/><rect x="152.20" y="159.80" width="7.61" height="7.61" fill="rgb(128,0,0)"/><rect x="152.20" y="167.41" width="7.61" height="7.61" fill="rgb(128,0,0)"/><rect x="167.41" y="159.80" width="7.61" height="7.61" fill="rgb(128,0,0)"/><rect x="167.41" y="167.41" width="7.61" height="7.61" fill="rgb(128,0,0)"/><rect x="129.37" y="167.41" width="7.61" height="7.61" fill="rgb(128,0,0)"/><rect x="190.24" y="175.02" width="7.61" height="7.61" fill="rgb(140,0,0)"/><rect x="197.85" y="175.02" width="7.61" height="7.61" fill="rgb(140,0,0)"/><rect x="15.22" y="182.63" width="7.61" height="7.61" fill="rgb(140,0,0)"/><rect x="121.76" y="182.63" width="7.61" height="7.61" fill="rgb(153,0,0)"/><rect x="159.80" y="182.63" width="7.61" height="7.61" fill="rgb(128,0,0)"/><rect x="167.41" y="190.24" width="7.61" height="7.61" fill="rgb(128,0,0)"/><rect x="91.32" y="197.85" width="7.61" height="7.61" fill="rgb(140,0,0)"/><rect x="152.20" y="235.90" width="7.61" height="7.61" fill="rgb(128,0,0)"/><rect x="182.63" y="243.51" width="7.61" height="7.61" fill="rgb(153,0,0)"/><rect x="60.88" y="243.51" width="7.61" height="7.61" fill="rgb(140,0,0)"/><rect x="213.07" y="273.95" width="7.61" height="7.61" fill="rgb(140,0,0)"/></g></g><path d="M158.4 172.4l9.2 9.2m0 -9.2l-9.2 9.2" stroke="#fff" stroke-width="2.1" stroke-linecap="round" fill="none"/><text class="tt" x="32" y="20.8" font-size="19">Proton, Pγ=2.78e-04</text>
</g>
<g transform="translate(0 314)">
<g clip-path="url(#pc)"><g filter="url(#jet)"><rect width="312" height="312" fill="#000"/><ellipse cx="100" cy="160" rx="70" ry="92" fill="url(#rf)" opacity="0.09"/><ellipse cx="220" cy="175" rx="30" ry="30" fill="url(#rf)" opacity="0.07"/><ellipse cx="106" cy="202" rx="66" ry="66" fill="url(#rg)" opacity="0.45"/><ellipse cx="107" cy="201" rx="40" ry="40" fill="url(#rg)" opacity="1.00"/></g><g style="mix-blend-mode:difference" shape-rendering="crispEdges"><rect x="114.15" y="98.93" width="7.61" height="7.61" fill="rgb(166,0,0)"/><rect x="45.66" y="106.54" width="7.61" height="7.61" fill="rgb(128,0,0)"/><rect x="83.71" y="106.54" width="7.61" height="7.61" fill="rgb(153,0,0)"/><rect x="60.88" y="129.37" width="7.61" height="7.61" fill="rgb(153,0,0)"/><rect x="136.98" y="129.37" width="7.61" height="7.61" fill="rgb(140,0,0)"/><rect x="76.10" y="136.98" width="7.61" height="7.61" fill="rgb(140,0,0)"/><rect x="60.88" y="144.59" width="7.61" height="7.61" fill="rgb(153,0,0)"/><rect x="83.71" y="144.59" width="7.61" height="7.61" fill="rgb(153,0,0)"/><rect x="106.54" y="152.20" width="7.61" height="7.61" fill="rgb(178,0,0)"/><rect x="91.32" y="159.80" width="7.61" height="7.61" fill="rgb(166,0,0)"/><rect x="98.93" y="159.80" width="7.61" height="7.61" fill="rgb(166,0,0)"/><rect x="144.59" y="159.80" width="7.61" height="7.61" fill="rgb(153,0,0)"/><rect x="76.10" y="167.41" width="7.61" height="7.61" fill="rgb(166,0,0)"/><rect x="83.71" y="167.41" width="7.61" height="7.61" fill="rgb(166,0,0)"/><rect x="114.15" y="167.41" width="7.61" height="7.61" fill="rgb(153,0,0)"/><rect x="91.32" y="175.02" width="7.61" height="7.61" fill="rgb(153,0,0)"/><rect x="114.15" y="175.02" width="7.61" height="7.61" fill="rgb(153,0,0)"/><rect x="76.10" y="182.63" width="7.61" height="7.61" fill="rgb(153,0,0)"/><rect x="98.93" y="182.63" width="7.61" height="7.61" fill="rgb(153,0,0)"/><rect x="106.54" y="182.63" width="7.61" height="7.61" fill="rgb(153,0,0)"/><rect x="121.76" y="197.85" width="7.61" height="7.61" fill="rgb(153,0,0)"/><rect x="91.32" y="205.46" width="7.61" height="7.61" fill="rgb(153,0,0)"/><rect x="121.76" y="220.68" width="7.61" height="7.61" fill="rgb(178,0,0)"/><rect x="175.02" y="205.46" width="7.61" height="7.61" fill="rgb(166,0,0)"/><rect x="182.63" y="205.46" width="7.61" height="7.61" fill="rgb(166,0,0)"/><rect x="213.07" y="175.02" width="7.61" height="7.61" fill="rgb(140,0,0)"/></g></g><path d="M99.9 192.4l9.2 9.2m0 -9.2l-9.2 9.2" stroke="#fff" stroke-width="2.1" stroke-linecap="round" fill="none"/><text class="tt" x="32" y="20.8" font-size="19">Proton, Pγ=1.13e-04</text>
</g>
<g transform="translate(314 314)">
<g clip-path="url(#pc)"><g filter="url(#jet)"><rect width="312" height="312" fill="#000"/><ellipse cx="170" cy="160" rx="68" ry="85" fill="url(#rf)" opacity="0.12"/><ellipse cx="90" cy="105" rx="25" ry="30" fill="url(#rf)" opacity="0.07"/><ellipse cx="195" cy="255" rx="25" ry="25" fill="url(#rf)" opacity="0.05"/><ellipse cx="222" cy="192" rx="60" ry="55" fill="url(#rg)" opacity="0.20"/><ellipse cx="168" cy="158" rx="60" ry="95" fill="url(#rg)" opacity="0.35"/><ellipse cx="165" cy="157" rx="16" ry="22" fill="url(#rf)" opacity="0.50"/><ellipse cx="172" cy="124" rx="58" ry="54" fill="url(#rg)" opacity="1.00"/><ellipse cx="157" cy="190" rx="52" ry="44" fill="url(#rg)" opacity="1.00"/></g><g style="mix-blend-mode:difference" shape-rendering="crispEdges"><rect x="121.76" y="106.54" width="7.61" height="7.61" fill="rgb(140,0,0)"/><rect x="98.93" y="114.15" width="7.61" height="7.61" fill="rgb(166,0,0)"/><rect x="91.32" y="121.76" width="7.61" height="7.61" fill="rgb(128,0,0)"/><rect x="167.41" y="121.76" width="7.61" height="7.61" fill="rgb(128,0,0)"/><rect x="129.37" y="136.98" width="7.61" height="7.61" fill="rgb(153,0,0)"/><rect x="152.20" y="144.59" width="7.61" height="7.61" fill="rgb(153,0,0)"/><rect x="159.80" y="152.20" width="7.61" height="7.61" fill="rgb(153,0,0)"/><rect x="159.80" y="167.41" width="7.61" height="7.61" fill="rgb(153,0,0)"/><rect x="91.32" y="175.02" width="7.61" height="7.61" fill="rgb(128,0,0)"/><rect x="98.93" y="182.63" width="7.61" height="7.61" fill="rgb(128,0,0)"/><rect x="144.59" y="175.02" width="7.61" height="7.61" fill="rgb(153,0,0)"/><rect x="159.80" y="182.63" width="7.61" height="7.61" fill="rgb(153,0,0)"/><rect x="167.41" y="182.63" width="7.61" height="7.61" fill="rgb(153,0,0)"/><rect x="144.59" y="182.63" width="7.61" height="7.61" fill="rgb(153,0,0)"/><rect x="129.37" y="190.24" width="7.61" height="7.61" fill="rgb(153,0,0)"/><rect x="83.71" y="197.85" width="7.61" height="7.61" fill="rgb(128,0,0)"/><rect x="136.98" y="197.85" width="7.61" height="7.61" fill="rgb(153,0,0)"/><rect x="167.41" y="197.85" width="7.61" height="7.61" fill="rgb(153,0,0)"/><rect x="175.02" y="197.85" width="7.61" height="7.61" fill="rgb(153,0,0)"/><rect x="213.07" y="190.24" width="7.61" height="7.61" fill="rgb(191,0,0)"/><rect x="190.24" y="205.46" width="7.61" height="7.61" fill="rgb(153,0,0)"/><rect x="190.24" y="213.07" width="7.61" height="7.61" fill="rgb(153,0,0)"/><rect x="167.41" y="220.68" width="7.61" height="7.61" fill="rgb(140,0,0)"/><rect x="182.63" y="220.68" width="7.61" height="7.61" fill="rgb(140,0,0)"/><rect x="197.85" y="235.90" width="7.61" height="7.61" fill="rgb(166,0,0)"/><rect x="144.59" y="243.51" width="7.61" height="7.61" fill="rgb(140,0,0)"/><rect x="197.85" y="258.73" width="7.61" height="7.61" fill="rgb(128,0,0)"/></g></g><path d="M165.9 145.4l9.2 9.2m0 -9.2l-9.2 9.2" stroke="#fff" stroke-width="2.1" stroke-linecap="round" fill="none"/><text class="tt" x="32" y="20.8" font-size="19">Proton, Pγ=1.06e-05</text>
</g>
<rect x="2.9" y="2.9" width="306.2" height="306.2" fill="none" stroke="#f00" stroke-width="5.8"/>
<rect x="632" y="34" width="38" height="51.1" fill="rgb(128,0,0)"/>
<rect x="632" y="84.7" width="38" height="51.1" fill="rgb(229,0,0)"/>
<rect x="632" y="135.5" width="38" height="51.1" fill="rgb(255,76,0)"/>
<rect x="632" y="186.2" width="38" height="51.1" fill="rgb(255,179,0)"/>
<rect x="632" y="236.9" width="38" height="51.1" fill="rgb(229,255,26)"/>
<rect x="632" y="287.6" width="38" height="51.1" fill="rgb(128,255,128)"/>
<rect x="632" y="338.4" width="38" height="51.1" fill="rgb(26,255,229)"/>
<rect x="632" y="389.1" width="38" height="51.1" fill="rgb(0,178,255)"/>
<rect x="632" y="439.8" width="38" height="51.1" fill="rgb(0,77,255)"/>
<rect x="632" y="490.5" width="38" height="51.1" fill="rgb(0,0,230)"/>
<rect x="632" y="541.3" width="38" height="51.1" fill="rgb(0,0,128)"/>
<text class="cb" x="671.2" y="85.8" font-size="30.6">1.0</text>
<text class="cb" x="671.2" y="136.6" font-size="30.6">0.9</text>
<text class="cb" x="671.2" y="187.3" font-size="30.6">0.8</text>
<text class="cb" x="671.2" y="238" font-size="30.6">0.7</text>
<text class="cb" x="671.2" y="288.7" font-size="30.6">0.6</text>
<text class="cb" x="671.2" y="339.5" font-size="30.6">0.5</text>
<text class="cb" x="671.2" y="390.2" font-size="30.6">0.4</text>
<text class="cb" x="671.2" y="440.9" font-size="30.6">0.3</text>
<text class="cb" x="671.2" y="491.6" font-size="30.6">0.2</text>
<text class="cb" x="671.2" y="542.4" font-size="30.6">0.1</text>
<text class="cb" x="671.2" y="593.1" font-size="30.6">0.0</text>
</g>
<text class="cap" font-size="56" transform="translate(1104.99 707.00) scale(0.9357 1.12)">(</text>
<text class="cap" font-size="56" transform="translate(1130.00 707.00) scale(0.9231 1.00)">b</text>
<text class="cap" font-size="56" transform="translate(1156.60 707.00) scale(1.0000 1.12)">)</text>
<text class="cap" font-size="56" transform="translate(1196.24 707.00) scale(0.9824 1.00)">21</text>
<text class="cap" font-size="56" transform="translate(1263.03 707.00) scale(1.0660 1.00)">TeV</text>
<text class="cap" font-size="56" transform="translate(1384.10 707.00) scale(1.1048 1.00)">protons</text>
<g transform="translate(0 820.4)">
<g transform="translate(0 0)">
<g clip-path="url(#pc)"><g filter="url(#jet)"><rect width="312" height="312" fill="#000"/><path d="M175,98 L142,82 L110,80 L80,88 L55,110 L42,138 L44,168 L55,196 L76,220 L104,236 L132,244" fill="none" stroke="#fff" stroke-opacity="0.30" stroke-width="30" stroke-linecap="round" stroke-linejoin="round" filter="url(#b9)"/><ellipse cx="195" cy="135" rx="38" ry="55" fill="url(#rf)" opacity="0.15"/><ellipse cx="182" cy="150" rx="18" ry="22" fill="url(#rf)" opacity="0.18"/><ellipse cx="208" cy="190" rx="28" ry="24" fill="url(#rf)" opacity="0.22"/><path d="M150,92 L142,90 L110,88 L85,96 L62,115 L50,140 L52,165 L62,190 L80,212 L105,226 L128,234" fill="none" stroke="#fff" stroke-opacity="0.34" stroke-width="24" stroke-linecap="round" stroke-linejoin="round" filter="url(#b6)"/><ellipse cx="118" cy="89" rx="58" ry="20" fill="url(#rg)" opacity="1.00"/><ellipse cx="50" cy="150" rx="28" ry="52" fill="url(#rg)" opacity="0.92"/><ellipse cx="70" cy="200" rx="24" ry="36" fill="url(#rg)" opacity="0.85" transform="rotate(-30 70 200)"/><ellipse cx="110" cy="228" rx="38" ry="24" fill="url(#rg)" opacity="1.00" transform="rotate(20 110 228)"/><ellipse cx="150" cy="165" rx="12" ry="14" fill="url(#rf)" opacity="0.50"/><ellipse cx="213" cy="190" rx="14" ry="13" fill="url(#rf)" opacity="0.40"/></g><g style="mix-blend-mode:difference" shape-rendering="crispEdges"><rect x="98.93" y="98.93" width="7.61" height="7.61" fill="rgb(166,0,0)"/><rect x="114.15" y="98.93" width="7.61" height="7.61" fill="rgb(168,0,0)"/><rect x="121.76" y="98.93" width="7.61" height="7.61" fill="rgb(148,0,0)"/><rect x="129.37" y="98.93" width="7.61" height="7.61" fill="rgb(173,0,0)"/><rect x="144.59" y="98.93" width="7.61" height="7.61" fill="rgb(148,0,0)"/><rect x="83.71" y="106.54" width="7.61" height="7.61" fill="rgb(178,0,0)"/><rect x="98.93" y="106.54" width="7.61" height="7.61" fill="rgb(201,0,0)"/><rect x="114.15" y="106.54" width="7.61" height="7.61" fill="rgb(186,0,0)"/><rect x="121.76" y="106.54" width="7.61" height="7.61" fill="rgb(150,0,0)"/><rect x="129.37" y="106.54" width="7.61" height="7.61" fill="rgb(153,0,0)"/><rect x="136.98" y="106.54" width="7.61" height="7.61" fill="rgb(161,0,0)"/><rect x="144.59" y="106.54" width="7.61" height="7.61" fill="rgb(168,0,0)"/><rect x="152.20" y="106.54" width="7.61" height="7.61" fill="rgb(184,0,0)"/><rect x="91.32" y="114.15" width="7.61" height="7.61" fill="rgb(186,0,0)"/><rect x="98.93" y="114.15" width="7.61" height="7.61" fill="rgb(171,0,0)"/><rect x="121.76" y="114.15" width="7.61" height="7.61" fill="rgb(207,0,0)"/><rect x="129.37" y="114.15" width="7.61" height="7.61" fill="rgb(173,0,0)"/><rect x="136.98" y="114.15" width="7.61" height="7.61" fill="rgb(161,0,0)"/><rect x="144.59" y="114.15" width="7.61" height="7.61" fill="rgb(173,0,0)"/><rect x="159.80" y="114.15" width="7.61" height="7.61" fill="rgb(191,0,0)"/><rect x="83.71" y="121.76" width="7.61" height="7.61" fill="rgb(158,0,0)"/><rect x="98.93" y="121.76" width="7.61" height="7.61" fill="rgb(224,0,0)"/><rect x="106.54" y="121.76" width="7.61" height="7.61" fill="rgb(173,0,0)"/><rect x="114.15" y="121.76" width="7.61" height="7.61" fill="rgb(222,0,0)"/><rect x="121.76" y="121.76" width="7.61" height="7.61" fill="rgb(181,0,0)"/><rect x="129.37" y="121.76" width="7.61" height="7.61" fill="rgb(232,0,0)"/><rect x="136.98" y="121.76" width="7.61" height="7.61" fill="rgb(173,0,0)"/><rect x="144.59" y="121.76" width="7.61" height="7.61" fill="rgb(166,0,0)"/><rect x="152.20" y="121.76" width="7.61" height="7.61" fill="rgb(199,0,0)"/><rect x="159.80" y="121.76" width="7.61" height="7.61" fill="rgb(176,0,0)"/><rect x="167.41" y="121.76" width="7.61" height="7.61" fill="rgb(143,0,0)"/><rect x="76.10" y="129.37" width="7.61" height="7.61" fill="rgb(181,0,0)"/><rect x="83.71" y="129.37" width="7.61" height="7.61" fill="rgb(178,0,0)"/><rect x="91.32" y="129.37" width="7.61" height="7.61" fill="rgb(181,0,0)"/><rect x="106.54" y="129.37" width="7.61" height="7.61" fill="rgb(199,0,0)"/><rect x="121.76" y="129.37" width="7.61" height="7.61" fill="rgb(212,0,0)"/><rect x="129.37" y="129.37" width="7.61" height="7.61" fill="rgb(224,0,0)"/><rect x="136.98" y="129.37" width="7.61" height="7.61" fill="rgb(237,0,0)"/><rect x="144.59" y="129.37" width="7.61" height="7.61" fill="rgb(186,0,0)"/><rect x="152.20" y="129.37" width="7.61" height="7.61" fill="rgb(178,0,0)"/><rect x="159.80" y="129.37" width="7.61" height="7.61" fill="rgb(153,0,0)"/><rect x="167.41" y="129.37" width="7.61" height="7.61" fill="rgb(173,0,0)"/><rect x="68.49" y="136.98" width="7.61" height="7.61" fill="rgb(171,0,0)"/><rect x="76.10" y="136.98" width="7.61" height="7.61" fill="rgb(173,0,0)"/><rect x="91.32" y="136.98" width="7.61" height="7.61" fill="rgb(204,0,0)"/><rect x="98.93" y="136.98" width="7.61" height="7.61" fill="rgb(191,0,0)"/><rect x="106.54" y="136.98" width="7.61" height="7.61" fill="rgb(247,0,0)"/><rect x="114.15" y="136.98" width="7.61" height="7.61" fill="rgb(212,0,0)"/><rect x="121.76" y="136.98" width="7.61" height="7.61" fill="rgb(245,0,0)"/><rect x="136.98" y="136.98" width="7.61" height="7.61" fill="rgb(245,0,0)"/><rect x="152.20" y="136.98" width="7.61" height="7.61" fill="rgb(191,0,0)"/><rect x="159.80" y="136.98" width="7.61" height="7.61" fill="rgb(156,0,0)"/><rect x="175.02" y="136.98" width="7.61" height="7.61" fill="rgb(173,0,0)"/><rect x="68.49" y="144.59" width="7.61" height="7.61" fill="rgb(186,0,0)"/><rect x="76.10" y="144.59" width="7.61" height="7.61" fill="rgb(168,0,0)"/><rect x="83.71" y="144.59" width="7.61" height="7.61" fill="rgb(207,0,0)"/><rect x="91.32" y="144.59" width="7.61" height="7.61" fill="rgb(189,0,0)"/><rect x="98.93" y="144.59" width="7.61" height="7.61" fill="rgb(240,0,0)"/><rect x="106.54" y="144.59" width="7.61" height="7.61" fill="rgb(214,0,0)"/><rect x="121.76" y="144.59" width="7.61" height="7.61" fill="rgb(212,0,0)"/><rect x="129.37" y="144.59" width="7.61" height="7.61" fill="rgb(232,0,0)"/><rect x="136.98" y="144.59" width="7.61" height="7.61" fill="rgb(204,0,0)"/><rect x="144.59" y="144.59" width="7.61" height="7.61" fill="rgb(217,0,0)"/><rect x="152.20" y="144.59" width="7.61" height="7.61" fill="rgb(191,0,0)"/><rect x="76.10" y="152.20" width="7.61" height="7.61" fill="rgb(158,0,0)"/><rect x="83.71" y="152.20" width="7.61" height="7.61" fill="rgb(163,0,0)"/><rect x="98.93" y="152.20" width="7.61" height="7.61" fill="rgb(247,0,0)"/><rect x="106.54" y="152.20" width="7.61" height="7.61" fill="rgb(240,0,0)"/><rect x="114.15" y="152.20" width="7.61" height="7.61" fill="rgb(255,0,0)"/><rect x="121.76" y="152.20" width="7.61" height="7.61" fill="rgb(255,0,0)"/><rect x="129.37" y="152.20" width="7.61" height="7.61" fill="rgb(242,0,0)"/><rect x="136.98" y="152.20" width="7.61" height="7.61" fill="rgb(252,0,0)"/><rect x="144.59" y="152.20" width="7.61" height="7.61" fill="rgb(227,0,0)"/><rect x="152.20" y="152.20" width="7.61" height="7.61" fill="rgb(227,0,0)"/><rect x="159.80" y="152.20" width="7.61" height="7.61" fill="rgb(199,0,0)"/><rect x="68.49" y="159.80" width="7.61" height="7.61" fill="rgb(186,0,0)"/><rect x="83.71" y="159.80" width="7.61" height="7.61" fill="rgb(201,0,0)"/><rect x="91.32" y="159.80" width="7.61" height="7.61" fill="rgb(209,0,0)"/><rect x="98.93" y="159.80" width="7.61" height="7.61" fill="rgb(191,0,0)"/><rect x="106.54" y="159.80" width="7.61" height="7.61" fill="rgb(255,0,0)"/><rect x="114.15" y="159.80" width="7.61" height="7.61" fill="rgb(252,0,0)"/><rect x="121.76" y="159.80" width="7.61" height="7.61" fill="rgb(255,0,0)"/><rect x="129.37" y="159.80" width="7.61" height="7.61" fill="rgb(232,0,0)"/><rect x="136.98" y="159.80" width="7.61" height="7.61" fill="rgb(199,0,0)"/><rect x="144.59" y="159.80" width="7.61" height="7.61" fill="rgb(184,0,0)"/><rect x="152.20" y="159.80" width="7.61" height="7.61" fill="rgb(199,0,0)"/><rect x="159.80" y="159.80" width="7.61" height="7.61" fill="rgb(199,0,0)"/><rect x="167.41" y="159.80" width="7.61" height="7.61" fill="rgb(181,0,0)"/><rect x="68.49" y="167.41" width="7.61" height="7.61" fill="rgb(135,0,0)"/><rect x="76.10" y="167.41" width="7.61" height="7.61" fill="rgb(189,0,0)"/><rect x="83.71" y="167.41" width="7.61" height="7.61" fill="rgb(168,0,0)"/><rect x="98.93" y="167.41" width="7.61" height="7.61" fill="rgb(209,0,0)"/><rect x="114.15" y="167.41" width="7.61" height="7.61" fill="rgb(237,0,0)"/><rect x="121.76" y="167.41" width="7.61" height="7.61" fill="rgb(227,0,0)"/><rect x="129.37" y="167.41" width="7.61" height="7.61" fill="rgb(250,0,0)"/><rect x="144.59" y="167.41" width="7.61" height="7.61" fill="rgb(212,0,0)"/><rect x="152.20" y="167.41" width="7.61" height="7.61" fill="rgb(173,0,0)"/><rect x="159.80" y="167.41" width="7.61" height="7.61" fill="rgb(204,0,0)"/><rect x="76.10" y="175.02" width="7.61" height="7.61" fill="rgb(153,0,0)"/><rect x="83.71" y="175.02" width="7.61" height="7.61" fill="rgb(171,0,0)"/><rect x="91.32" y="175.02" width="7.61" height="7.61" fill="rgb(189,0,0)"/><rect x="98.93" y="175.02" width="7.61" height="7.61" fill="rgb(204,0,0)"/><rect x="106.54" y="175.02" width="7.61" height="7.61" fill="rgb(232,0,0)"/><rect x="121.76" y="175.02" width="7.61" height="7.61" fill="rgb(191,0,0)"/><rect x="129.37" y="175.02" width="7.61" height="7.61" fill="rgb(237,0,0)"/><rect x="136.98" y="175.02" width="7.61" height="7.61" fill="rgb(222,0,0)"/><rect x="144.59" y="175.02" width="7.61" height="7.61" fill="rgb(189,0,0)"/><rect x="152.20" y="175.02" width="7.61" height="7.61" fill="rgb(161,0,0)"/><rect x="159.80" y="175.02" width="7.61" height="7.61" fill="rgb(176,0,0)"/><rect x="167.41" y="175.02" width="7.61" height="7.61" fill="rgb(189,0,0)"/><rect x="76.10" y="182.63" width="7.61" height="7.61" fill="rgb(143,0,0)"/><rect x="83.71" y="182.63" width="7.61" height="7.61" fill="rgb(184,0,0)"/><rect x="91.32" y="182.63" width="7.61" height="7.61" fill="rgb(194,0,0)"/><rect x="98.93" y="182.63" width="7.61" height="7.61" fill="rgb(212,0,0)"/><rect x="114.15" y="182.63" width="7.61" height="7.61" fill="rgb(186,0,0)"/><rect x="121.76" y="182.63" width="7.61" height="7.61" fill="rgb(186,0,0)"/><rect x="129.37" y="182.63" width="7.61" height="7.61" fill="rgb(201,0,0)"/><rect x="136.98" y="182.63" width="7.61" height="7.61" fill="rgb(178,0,0)"/><rect x="144.59" y="182.63" width="7.61" height="7.61" fill="rgb(181,0,0)"/><rect x="152.20" y="182.63" width="7.61" height="7.61" fill="rgb(184,0,0)"/><rect x="159.80" y="182.63" width="7.61" height="7.61" fill="rgb(189,0,0)"/><rect x="167.41" y="182.63" width="7.61" height="7.61" fill="rgb(178,0,0)"/><rect x="83.71" y="190.24" width="7.61" height="7.61" fill="rgb(194,0,0)"/><rect x="91.32" y="190.24" width="7.61" height="7.61" fill="rgb(153,0,0)"/><rect x="98.93" y="190.24" width="7.61" height="7.61" fill="rgb(191,0,0)"/><rect x="114.15" y="190.24" width="7.61" height="7.61" fill="rgb(196,0,0)"/><rect x="121.76" y="190.24" width="7.61" height="7.61" fill="rgb(212,0,0)"/><rect x="136.98" y="190.24" width="7.61" height="7.61" fill="rgb(196,0,0)"/><rect x="144.59" y="190.24" width="7.61" height="7.61" fill="rgb(194,0,0)"/><rect x="91.32" y="197.85" width="7.61" height="7.61" fill="rgb(191,0,0)"/><rect x="114.15" y="197.85" width="7.61" height="7.61" fill="rgb(196,0,0)"/><rect x="121.76" y="197.85" width="7.61" height="7.61" fill="rgb(207,0,0)"/><rect x="136.98" y="197.85" width="7.61" height="7.61" fill="rgb(150,0,0)"/><rect x="144.59" y="197.85" width="7.61" height="7.61" fill="rgb(173,0,0)"/><rect x="98.93" y="205.46" width="7.61" height="7.61" fill="rgb(133,0,0)"/><rect x="114.15" y="205.46" width="7.61" height="7.61" fill="rgb(186,0,0)"/><rect x="121.76" y="205.46" width="7.61" height="7.61" fill="rgb(158,0,0)"/><rect x="136.98" y="205.46" width="7.61" height="7.61" fill="rgb(143,0,0)"/><rect x="121.76" y="60.88" width="7.61" height="7.61" fill="rgb(128,0,0)"/><rect x="60.88" y="91.32" width="7.61" height="7.61" fill="rgb(153,0,0)"/><rect x="45.66" y="106.54" width="7.61" height="7.61" fill="rgb(153,0,0)"/><rect x="167.41" y="91.32" width="7.61" height="7.61" fill="rgb(153,0,0)"/><rect x="190.24" y="91.32" width="7.61" height="7.61" fill="rgb(166,0,0)"/><rect x="213.07" y="98.93" width="7.61" height="7.61" fill="rgb(128,0,0)"/><rect x="205.46" y="121.76" width="7.61" height="7.61" fill="rgb(166,0,0)"/><rect x="228.29" y="121.76" width="7.61" height="7.61" fill="rgb(128,0,0)"/><rect x="228.29" y="136.98" width="7.61" height="7.61" fill="rgb(128,0,0)"/><rect x="182.63" y="114.15" width="7.61" height="7.61" fill="rgb(153,0,0)"/><rect x="182.63" y="121.76" width="7.61" height="7.61" fill="rgb(153,0,0)"/><rect x="182.63" y="129.37" width="7.61" height="7.61" fill="rgb(153,0,0)"/><rect x="190.24" y="129.37" width="7.61" height="7.61" fill="rgb(153,0,0)"/><rect x="182.63" y="144.59" width="7.61" height="7.61" fill="rgb(153,0,0)"/><rect x="258.73" y="197.85" width="7.61" height="7.61" fill="rgb(128,0,0)"/><rect x="190.24" y="175.02" width="7.61" height="7.61" fill="rgb(153,0,0)"/><rect x="190.24" y="197.85" width="7.61" height="7.61" fill="rgb(153,0,0)"/><rect x="167.41" y="213.07" width="7.61" height="7.61" fill="rgb(128,0,0)"/><rect x="152.20" y="220.68" width="7.61" height="7.61" fill="rgb(153,0,0)"/><rect x="159.80" y="220.68" width="7.61" height="7.61" fill="rgb(153,0,0)"/><rect x="175.02" y="228.29" width="7.61" height="7.61" fill="rgb(128,0,0)"/><rect x="136.98" y="235.90" width="7.61" height="7.61" fill="rgb(153,0,0)"/><rect x="182.63" y="243.51" width="7.61" height="7.61" fill="rgb(140,0,0)"/><rect x="45.66" y="243.51" width="7.61" height="7.61" fill="rgb(140,0,0)"/></g></g><path d="M125.4 150.4l9.2 9.2m0 -9.2l-9.2 9.2" stroke="#fff" stroke-width="2.1" stroke-linecap="round" fill="none"/><text class="tt" x="32" y="20.8" font-size="19">γ ray, Pγ=9.86e-01</text>
</g>
<g transform="translate(314 0)">
<g clip-path="url(#pc)"><g filter="url(#jet)"><rect width="312" height="312" fill="#000"/><path d="M67,140 L72,100 L88,76 L112,62 L150,55 L190,64 L210,85" fill="none" stroke="#fff" stroke-opacity="0.20" stroke-width="36" stroke-linecap="round" stroke-linejoin="round" filter="url(#b10)"/><path d="M205,85 L225,105 L240,130 L253,170" fill="none" stroke="#fff" stroke-opacity="0.13" stroke-width="40" stroke-linecap="round" stroke-linejoin="round" filter="url(#b10)"/><ellipse cx="115" cy="205" rx="62" ry="32" fill="url(#rf)" opacity="0.20" transform="rotate(15 115 205)"/><ellipse cx="110" cy="208" rx="24" ry="14" fill="url(#rf)" opacity="0.12" transform="rotate(15 110 208)"/><ellipse cx="178" cy="155" rx="20" ry="16" fill="url(#rf)" opacity="0.30"/><path d="M70,130 L76,100 L92,80 L115,68 L150,62 L188,70 L210,92" fill="none" stroke="#fff" stroke-opacity="0.30" stroke-width="22" stroke-linecap="round" stroke-linejoin="round" filter="url(#b6)"/><ellipse cx="118" cy="74" rx="56" ry="20" fill="url(#rg)" opacity="1.00" transform="rotate(-8 118 74)"/></g><g style="mix-blend-mode:difference" shape-rendering="crispEdges"><rect x="129.37" y="83.71" width="7.61" height="7.61" fill="rgb(166,0,0)"/><rect x="144.59" y="83.71" width="7.61" height="7.61" fill="rgb(140,0,0)"/><rect x="114.15" y="91.32" width="7.61" height="7.61" fill="rgb(158,0,0)"/><rect x="121.76" y="91.32" width="7.61" height="7.61" fill="rgb(133,0,0)"/><rect x="129.37" y="91.32" width="7.61" height="7.61" fill="rgb(173,0,0)"/><rect x="136.98" y="91.32" width="7.61" height="7.61" fill="rgb(189,0,0)"/><rect x="144.59" y="91.32" width="7.61" height="7.61" fill="rgb(156,0,0)"/><rect x="152.20" y="91.32" width="7.61" height="7.61" fill="rgb(201,0,0)"/><rect x="98.93" y="98.93" width="7.61" height="7.61" fill="rgb(145,0,0)"/><rect x="106.54" y="98.93" width="7.61" height="7.61" fill="rgb(140,0,0)"/><rect x="121.76" y="98.93" width="7.61" height="7.61" fill="rgb(156,0,0)"/><rect x="129.37" y="98.93" width="7.61" height="7.61" fill="rgb(158,0,0)"/><rect x="144.59" y="98.93" width="7.61" height="7.61" fill="rgb(189,0,0)"/><rect x="152.20" y="98.93" width="7.61" height="7.61" fill="rgb(184,0,0)"/><rect x="159.80" y="98.93" width="7.61" height="7.61" fill="rgb(153,0,0)"/><rect x="175.02" y="98.93" width="7.61" height="7.61" fill="rgb(189,0,0)"/><rect x="182.63" y="98.93" width="7.61" height="7.61" fill="rgb(191,0,0)"/><rect x="106.54" y="106.54" width="7.61" height="7.61" fill="rgb(189,0,0)"/><rect x="114.15" y="106.54" width="7.61" height="7.61" fill="rgb(181,0,0)"/><rect x="121.76" y="106.54" width="7.61" height="7.61" fill="rgb(171,0,0)"/><rect x="144.59" y="106.54" width="7.61" height="7.61" fill="rgb(191,0,0)"/><rect x="152.20" y="106.54" width="7.61" height="7.61" fill="rgb(191,0,0)"/><rect x="167.41" y="106.54" width="7.61" height="7.61" fill="rgb(161,0,0)"/><rect x="175.02" y="106.54" width="7.61" height="7.61" fill="rgb(194,0,0)"/><rect x="190.24" y="106.54" width="7.61" height="7.61" fill="rgb(163,0,0)"/><rect x="98.93" y="114.15" width="7.61" height="7.61" fill="rgb(178,0,0)"/><rect x="106.54" y="114.15" width="7.61" height="7.61" fill="rgb(189,0,0)"/><rect x="114.15" y="114.15" width="7.61" height="7.61" fill="rgb(171,0,0)"/><rect x="121.76" y="114.15" width="7.61" height="7.61" fill="rgb(227,0,0)"/><rect x="129.37" y="114.15" width="7.61" height="7.61" fill="rgb(212,0,0)"/><rect x="136.98" y="114.15" width="7.61" height="7.61" fill="rgb(186,0,0)"/><rect x="144.59" y="114.15" width="7.61" height="7.61" fill="rgb(232,0,0)"/><rect x="152.20" y="114.15" width="7.61" height="7.61" fill="rgb(204,0,0)"/><rect x="159.80" y="114.15" width="7.61" height="7.61" fill="rgb(217,0,0)"/><rect x="182.63" y="114.15" width="7.61" height="7.61" fill="rgb(212,0,0)"/><rect x="91.32" y="121.76" width="7.61" height="7.61" fill="rgb(161,0,0)"/><rect x="98.93" y="121.76" width="7.61" height="7.61" fill="rgb(201,0,0)"/><rect x="106.54" y="121.76" width="7.61" height="7.61" fill="rgb(163,0,0)"/><rect x="114.15" y="121.76" width="7.61" height="7.61" fill="rgb(217,0,0)"/><rect x="121.76" y="121.76" width="7.61" height="7.61" fill="rgb(230,0,0)"/><rect x="129.37" y="121.76" width="7.61" height="7.61" fill="rgb(204,0,0)"/><rect x="136.98" y="121.76" width="7.61" height="7.61" fill="rgb(219,0,0)"/><rect x="144.59" y="121.76" width="7.61" height="7.61" fill="rgb(201,0,0)"/><rect x="152.20" y="121.76" width="7.61" height="7.61" fill="rgb(250,0,0)"/><rect x="167.41" y="121.76" width="7.61" height="7.61" fill="rgb(209,0,0)"/><rect x="175.02" y="121.76" width="7.61" height="7.61" fill="rgb(227,0,0)"/><rect x="182.63" y="121.76" width="7.61" height="7.61" fill="rgb(204,0,0)"/><rect x="190.24" y="121.76" width="7.61" height="7.61" fill="rgb(161,0,0)"/><rect x="91.32" y="129.37" width="7.61" height="7.61" fill="rgb(166,0,0)"/><rect x="98.93" y="129.37" width="7.61" height="7.61" fill="rgb(204,0,0)"/><rect x="106.54" y="129.37" width="7.61" height="7.61" fill="rgb(196,0,0)"/><rect x="114.15" y="129.37" width="7.61" height="7.61" fill="rgb(222,0,0)"/><rect x="121.76" y="129.37" width="7.61" height="7.61" fill="rgb(227,0,0)"/><rect x="136.98" y="129.37" width="7.61" height="7.61" fill="rgb(242,0,0)"/><rect x="144.59" y="129.37" width="7.61" height="7.61" fill="rgb(255,0,0)"/><rect x="152.20" y="129.37" width="7.61" height="7.61" fill="rgb(222,0,0)"/><rect x="159.80" y="129.37" width="7.61" height="7.61" fill="rgb(255,0,0)"/><rect x="175.02" y="129.37" width="7.61" height="7.61" fill="rgb(181,0,0)"/><rect x="182.63" y="129.37" width="7.61" height="7.61" fill="rgb(166,0,0)"/><rect x="190.24" y="129.37" width="7.61" height="7.61" fill="rgb(161,0,0)"/><rect x="83.71" y="136.98" width="7.61" height="7.61" fill="rgb(163,0,0)"/><rect x="91.32" y="136.98" width="7.61" height="7.61" fill="rgb(171,0,0)"/><rect x="98.93" y="136.98" width="7.61" height="7.61" fill="rgb(163,0,0)"/><rect x="106.54" y="136.98" width="7.61" height="7.61" fill="rgb(189,0,0)"/><rect x="114.15" y="136.98" width="7.61" height="7.61" fill="rgb(212,0,0)"/><rect x="121.76" y="136.98" width="7.61" height="7.61" fill="rgb(232,0,0)"/><rect x="136.98" y="136.98" width="7.61" height="7.61" fill="rgb(255,0,0)"/><rect x="144.59" y="136.98" width="7.61" height="7.61" fill="rgb(252,0,0)"/><rect x="152.20" y="136.98" width="7.61" height="7.61" fill="rgb(255,0,0)"/><rect x="159.80" y="136.98" width="7.61" height="7.61" fill="rgb(245,0,0)"/><rect x="167.41" y="136.98" width="7.61" height="7.61" fill="rgb(232,0,0)"/><rect x="175.02" y="136.98" width="7.61" height="7.61" fill="rgb(178,0,0)"/><rect x="182.63" y="136.98" width="7.61" height="7.61" fill="rgb(184,0,0)"/><rect x="197.85" y="136.98" width="7.61" height="7.61" fill="rgb(173,0,0)"/><rect x="91.32" y="144.59" width="7.61" height="7.61" fill="rgb(176,0,0)"/><rect x="98.93" y="144.59" width="7.61" height="7.61" fill="rgb(196,0,0)"/><rect x="114.15" y="144.59" width="7.61" height="7.61" fill="rgb(217,0,0)"/><rect x="121.76" y="144.59" width="7.61" height="7.61" fill="rgb(219,0,0)"/><rect x="129.37" y="144.59" width="7.61" height="7.61" fill="rgb(247,0,0)"/><rect x="144.59" y="144.59" width="7.61" height="7.61" fill="rgb(230,0,0)"/><rect x="159.80" y="144.59" width="7.61" height="7.61" fill="rgb(201,0,0)"/><rect x="167.41" y="144.59" width="7.61" height="7.61" fill="rgb(237,0,0)"/><rect x="175.02" y="144.59" width="7.61" height="7.61" fill="rgb(201,0,0)"/><rect x="182.63" y="144.59" width="7.61" height="7.61" fill="rgb(166,0,0)"/><rect x="190.24" y="144.59" width="7.61" height="7.61" fill="rgb(178,0,0)"/><rect x="197.85" y="144.59" width="7.61" height="7.61" fill="rgb(163,0,0)"/><rect x="205.46" y="144.59" width="7.61" height="7.61" fill="rgb(143,0,0)"/><rect x="83.71" y="152.20" width="7.61" height="7.61" fill="rgb(153,0,0)"/><rect x="91.32" y="152.20" width="7.61" height="7.61" fill="rgb(181,0,0)"/><rect x="98.93" y="152.20" width="7.61" height="7.61" fill="rgb(191,0,0)"/><rect x="106.54" y="152.20" width="7.61" height="7.61" fill="rgb(173,0,0)"/><rect x="114.15" y="152.20" width="7.61" height="7.61" fill="rgb(199,0,0)"/><rect x="121.76" y="152.20" width="7.61" height="7.61" fill="rgb(237,0,0)"/><rect x="129.37" y="152.20" width="7.61" height="7.61" fill="rgb(217,0,0)"/><rect x="136.98" y="152.20" width="7.61" height="7.61" fill="rgb(237,0,0)"/><rect x="152.20" y="152.20" width="7.61" height="7.61" fill="rgb(232,0,0)"/><rect x="159.80" y="152.20" width="7.61" height="7.61" fill="rgb(230,0,0)"/><rect x="175.02" y="152.20" width="7.61" height="7.61" fill="rgb(212,0,0)"/><rect x="182.63" y="152.20" width="7.61" height="7.61" fill="rgb(214,0,0)"/><rect x="190.24" y="152.20" width="7.61" height="7.61" fill="rgb(186,0,0)"/><rect x="98.93" y="159.80" width="7.61" height="7.61" fill="rgb(161,0,0)"/><rect x="106.54" y="159.80" width="7.61" height="7.61" fill="rgb(176,0,0)"/><rect x="114.15" y="159.80" width="7.61" height="7.61" fill="rgb(194,0,0)"/><rect x="121.76" y="159.80" width="7.61" height="7.61" fill="rgb(189,0,0)"/><rect x="136.98" y="159.80" width="7.61" height="7.61" fill="rgb(209,0,0)"/><rect x="144.59" y="159.80" width="7.61" height="7.61" fill="rgb(242,0,0)"/><rect x="152.20" y="159.80" width="7.61" height="7.61" fill="rgb(194,0,0)"/><rect x="159.80" y="159.80" width="7.61" height="7.61" fill="rgb(217,0,0)"/><rect x="167.41" y="159.80" width="7.61" height="7.61" fill="rgb(186,0,0)"/><rect x="182.63" y="159.80" width="7.61" height="7.61" fill="rgb(168,0,0)"/><rect x="197.85" y="159.80" width="7.61" height="7.61" fill="rgb(173,0,0)"/><rect x="91.32" y="167.41" width="7.61" height="7.61" fill="rgb(161,0,0)"/><rect x="98.93" y="167.41" width="7.61" height="7.61" fill="rgb(158,0,0)"/><rect x="114.15" y="167.41" width="7.61" height="7.61" fill="rgb(178,0,0)"/><rect x="121.76" y="167.41" width="7.61" height="7.61" fill="rgb(176,0,0)"/><rect x="129.37" y="167.41" width="7.61" height="7.61" fill="rgb(186,0,0)"/><rect x="136.98" y="167.41" width="7.61" height="7.61" fill="rgb(178,0,0)"/><rect x="152.20" y="167.41" width="7.61" height="7.61" fill="rgb(217,0,0)"/><rect x="167.41" y="167.41" width="7.61" height="7.61" fill="rgb(158,0,0)"/><rect x="175.02" y="167.41" width="7.61" height="7.61" fill="rgb(153,0,0)"/><rect x="182.63" y="167.41" width="7.61" height="7.61" fill="rgb(186,0,0)"/><rect x="190.24" y="167.41" width="7.61" height="7.61" fill="rgb(135,0,0)"/><rect x="98.93" y="175.02" width="7.61" height="7.61" fill="rgb(143,0,0)"/><rect x="106.54" y="175.02" width="7.61" height="7.61" fill="rgb(189,0,0)"/><rect x="114.15" y="175.02" width="7.61" height="7.61" fill="rgb(148,0,0)"/><rect x="121.76" y="175.02" width="7.61" height="7.61" fill="rgb(196,0,0)"/><rect x="129.37" y="175.02" width="7.61" height="7.61" fill="rgb(153,0,0)"/><rect x="136.98" y="175.02" width="7.61" height="7.61" fill="rgb(178,0,0)"/><rect x="144.59" y="175.02" width="7.61" height="7.61" fill="rgb(168,0,0)"/><rect x="152.20" y="175.02" width="7.61" height="7.61" fill="rgb(204,0,0)"/><rect x="175.02" y="175.02" width="7.61" height="7.61" fill="rgb(176,0,0)"/><rect x="182.63" y="175.02" width="7.61" height="7.61" fill="rgb(189,0,0)"/><rect x="121.76" y="182.63" width="7.61" height="7.61" fill="rgb(138,0,0)"/><rect x="136.98" y="182.63" width="7.61" height="7.61" fill="rgb(178,0,0)"/><rect x="144.59" y="182.63" width="7.61" height="7.61" fill="rgb(189,0,0)"/><rect x="152.20" y="182.63" width="7.61" height="7.61" fill="rgb(156,0,0)"/><rect x="159.80" y="182.63" width="7.61" height="7.61" fill="rgb(156,0,0)"/><rect x="129.37" y="190.24" width="7.61" height="7.61" fill="rgb(128,0,0)"/><rect x="152.20" y="190.24" width="7.61" height="7.61" fill="rgb(143,0,0)"/><rect x="159.80" y="190.24" width="7.61" height="7.61" fill="rgb(125,0,0)"/><rect x="76.10" y="60.88" width="7.61" height="7.61" fill="rgb(140,0,0)"/><rect x="76.10" y="76.10" width="7.61" height="7.61" fill="rgb(140,0,0)"/><rect x="76.10" y="91.32" width="7.61" height="7.61" fill="rgb(140,0,0)"/><rect x="68.49" y="98.93" width="7.61" height="7.61" fill="rgb(153,0,0)"/><rect x="76.10" y="106.54" width="7.61" height="7.61" fill="rgb(153,0,0)"/><rect x="68.49" y="114.15" width="7.61" height="7.61" fill="rgb(153,0,0)"/><rect x="83.71" y="114.15" width="7.61" height="7.61" fill="rgb(140,0,0)"/><rect x="167.41" y="60.88" width="7.61" height="7.61" fill="rgb(153,0,0)"/><rect x="182.63" y="76.10" width="7.61" height="7.61" fill="rgb(153,0,0)"/><rect x="152.20" y="76.10" width="7.61" height="7.61" fill="rgb(128,0,0)"/><rect x="15.22" y="121.76" width="7.61" height="7.61" fill="rgb(128,0,0)"/><rect x="258.73" y="106.54" width="7.61" height="7.61" fill="rgb(128,0,0)"/><rect x="243.51" y="121.76" width="7.61" height="7.61" fill="rgb(128,0,0)"/><rect x="258.73" y="136.98" width="7.61" height="7.61" fill="rgb(128,0,0)"/><rect x="243.51" y="167.41" width="7.61" height="7.61" fill="rgb(153,0,0)"/><rect x="76.10" y="167.41" width="7.61" height="7.61" fill="rgb(128,0,0)"/><rect x="60.88" y="175.02" width="7.61" height="7.61" fill="rgb(128,0,0)"/><rect x="68.49" y="197.85" width="7.61" height="7.61" fill="rgb(153,0,0)"/><rect x="83.71" y="197.85" width="7.61" height="7.61" fill="rgb(153,0,0)"/><rect x="98.93" y="197.85" width="7.61" height="7.61" fill="rgb(153,0,0)"/><rect x="114.15" y="205.46" width="7.61" height="7.61" fill="rgb(153,0,0)"/><rect x="106.54" y="213.07" width="7.61" height="7.61" fill="rgb(153,0,0)"/><rect x="98.93" y="220.68" width="7.61" height="7.61" fill="rgb(153,0,0)"/><rect x="136.98" y="205.46" width="7.61" height="7.61" fill="rgb(153,0,0)"/><rect x="144.59" y="205.46" width="7.61" height="7.61" fill="rgb(153,0,0)"/><rect x="144.59" y="213.07" width="7.61" height="7.61" fill="rgb(153,0,0)"/><rect x="152.20" y="213.07" width="7.61" height="7.61" fill="rgb(153,0,0)"/><rect x="60.88" y="228.29" width="7.61" height="7.61" fill="rgb(140,0,0)"/><rect x="136.98" y="228.29" width="7.61" height="7.61" fill="rgb(153,0,0)"/><rect x="152.20" y="228.29" width="7.61" height="7.61" fill="rgb(153,0,0)"/><rect x="91.32" y="243.51" width="7.61" height="7.61" fill="rgb(140,0,0)"/><rect x="152.20" y="243.51" width="7.61" height="7.61" fill="rgb(140,0,0)"/><rect x="197.85" y="220.68" width="7.61" height="7.61" fill="rgb(140,0,0)"/><rect x="205.46" y="235.90" width="7.61" height="7.61" fill="rgb(128,0,0)"/><rect x="190.24" y="175.02" width="7.61" height="7.61" fill="rgb(153,0,0)"/><rect x="197.85" y="175.02" width="7.61" height="7.61" fill="rgb(153,0,0)"/><rect x="205.46" y="182.63" width="7.61" height="7.61" fill="rgb(153,0,0)"/><rect x="213.07" y="175.02" width="7.61" height="7.61" fill="rgb(140,0,0)"/><rect x="197.85" y="190.24" width="7.61" height="7.61" fill="rgb(153,0,0)"/><rect x="190.24" y="182.63" width="7.61" height="7.61" fill="rgb(140,0,0)"/></g></g><path d="M147.2 126.6l9.2 9.2m0 -9.2l-9.2 9.2" stroke="#fff" stroke-width="2.1" stroke-linecap="round" fill="none"/><text class="tt" x="32" y="20.8" font-size="19">γ ray, Pγ=9.86e-01</text>
</g>
<g transform="translate(0 314)">
<g clip-path="url(#pc)"><g filter="url(#jet)"><rect width="312" height="312" fill="#000"/><ellipse cx="120" cy="40" rx="12" ry="12" fill="url(#rf)" opacity="0.08"/><ellipse cx="170" cy="45" rx="12" ry="18" fill="url(#rf)" opacity="0.08"/><path d="M36,210 L38,172 L48,140 L66,110 L98,96 L130,98 L160,112" fill="none" stroke="#fff" stroke-opacity="0.20" stroke-width="46" stroke-linecap="round" stroke-linejoin="round" filter="url(#b10)"/><ellipse cx="65" cy="80" rx="22" ry="32" fill="url(#rf)" opacity="0.12"/><ellipse cx="100" cy="112" rx="55" ry="24" fill="url(#rf)" opacity="0.22" transform="rotate(-10 100 112)"/><ellipse cx="205" cy="165" rx="38" ry="64" fill="url(#rf)" opacity="0.28"/><ellipse cx="200" cy="232" rx="25" ry="32" fill="url(#rf)" opacity="0.14"/><path d="M40,205 L42,172 L52,142 L70,115" fill="none" stroke="#fff" stroke-opacity="0.30" stroke-width="24" stroke-linecap="round" stroke-linejoin="round" filter="url(#b6)"/><ellipse cx="54" cy="165" rx="18" ry="30" fill="url(#rf)" opacity="0.38" transform="rotate(15 54 165)"/><ellipse cx="207" cy="165" rx="22" ry="38" fill="url(#rf)" opacity="0.32"/><ellipse cx="125" cy="245" rx="42" ry="28" fill="url(#rf)" opacity="0.35"/><ellipse cx="126" cy="238" rx="38" ry="24" fill="url(#rg)" opacity="1.00" transform="rotate(-10 126 238)"/></g><g style="mix-blend-mode:difference" shape-rendering="crispEdges"><rect x="106.54" y="136.98" width="7.61" height="7.61" fill="rgb(130,0,0)"/><rect x="114.15" y="136.98" width="7.61" height="7.61" fill="rgb(166,0,0)"/><rect x="121.76" y="136.98" width="7.61" height="7.61" fill="rgb(133,0,0)"/><rect x="129.37" y="136.98" width="7.61" height="7.61" fill="rgb(171,0,0)"/><rect x="83.71" y="144.59" width="7.61" height="7.61" fill="rgb(168,0,0)"/><rect x="98.93" y="144.59" width="7.61" height="7.61" fill="rgb(168,0,0)"/><rect x="106.54" y="144.59" width="7.61" height="7.61" fill="rgb(163,0,0)"/><rect x="121.76" y="144.59" width="7.61" height="7.61" fill="rgb(140,0,0)"/><rect x="136.98" y="144.59" width="7.61" height="7.61" fill="rgb(145,0,0)"/><rect x="144.59" y="144.59" width="7.61" height="7.61" fill="rgb(150,0,0)"/><rect x="76.10" y="152.20" width="7.61" height="7.61" fill="rgb(138,0,0)"/><rect x="83.71" y="152.20" width="7.61" height="7.61" fill="rgb(168,0,0)"/><rect x="98.93" y="152.20" width="7.61" height="7.61" fill="rgb(171,0,0)"/><rect x="106.54" y="152.20" width="7.61" height="7.61" fill="rgb(204,0,0)"/><rect x="121.76" y="152.20" width="7.61" height="7.61" fill="rgb(199,0,0)"/><rect x="136.98" y="152.20" width="7.61" height="7.61" fill="rgb(161,0,0)"/><rect x="159.80" y="152.20" width="7.61" height="7.61" fill="rgb(166,0,0)"/><rect x="68.49" y="159.80" width="7.61" height="7.61" fill="rgb(128,0,0)"/><rect x="76.10" y="159.80" width="7.61" height="7.61" fill="rgb(156,0,0)"/><rect x="83.71" y="159.80" width="7.61" height="7.61" fill="rgb(184,0,0)"/><rect x="91.32" y="159.80" width="7.61" height="7.61" fill="rgb(212,0,0)"/><rect x="114.15" y="159.80" width="7.61" height="7.61" fill="rgb(189,0,0)"/><rect x="121.76" y="159.80" width="7.61" height="7.61" fill="rgb(207,0,0)"/><rect x="129.37" y="159.80" width="7.61" height="7.61" fill="rgb(207,0,0)"/><rect x="136.98" y="159.80" width="7.61" height="7.61" fill="rgb(173,0,0)"/><rect x="152.20" y="159.80" width="7.61" height="7.61" fill="rgb(189,0,0)"/><rect x="159.80" y="159.80" width="7.61" height="7.61" fill="rgb(161,0,0)"/><rect x="83.71" y="167.41" width="7.61" height="7.61" fill="rgb(184,0,0)"/><rect x="91.32" y="167.41" width="7.61" height="7.61" fill="rgb(191,0,0)"/><rect x="98.93" y="167.41" width="7.61" height="7.61" fill="rgb(207,0,0)"/><rect x="106.54" y="167.41" width="7.61" height="7.61" fill="rgb(186,0,0)"/><rect x="121.76" y="167.41" width="7.61" height="7.61" fill="rgb(196,0,0)"/><rect x="129.37" y="167.41" width="7.61" height="7.61" fill="rgb(224,0,0)"/><rect x="136.98" y="167.41" width="7.61" height="7.61" fill="rgb(201,0,0)"/><rect x="144.59" y="167.41" width="7.61" height="7.61" fill="rgb(212,0,0)"/><rect x="152.20" y="167.41" width="7.61" height="7.61" fill="rgb(178,0,0)"/><rect x="159.80" y="167.41" width="7.61" height="7.61" fill="rgb(184,0,0)"/><rect x="167.41" y="167.41" width="7.61" height="7.61" fill="rgb(140,0,0)"/><rect x="60.88" y="175.02" width="7.61" height="7.61" fill="rgb(171,0,0)"/><rect x="83.71" y="175.02" width="7.61" height="7.61" fill="rgb(178,0,0)"/><rect x="91.32" y="175.02" width="7.61" height="7.61" fill="rgb(235,0,0)"/><rect x="98.93" y="175.02" width="7.61" height="7.61" fill="rgb(184,0,0)"/><rect x="106.54" y="175.02" width="7.61" height="7.61" fill="rgb(209,0,0)"/><rect x="114.15" y="175.02" width="7.61" height="7.61" fill="rgb(201,0,0)"/><rect x="121.76" y="175.02" width="7.61" height="7.61" fill="rgb(252,0,0)"/><rect x="129.37" y="175.02" width="7.61" height="7.61" fill="rgb(230,0,0)"/><rect x="136.98" y="175.02" width="7.61" height="7.61" fill="rgb(196,0,0)"/><rect x="144.59" y="175.02" width="7.61" height="7.61" fill="rgb(191,0,0)"/><rect x="152.20" y="175.02" width="7.61" height="7.61" fill="rgb(189,0,0)"/><rect x="159.80" y="175.02" width="7.61" height="7.61" fill="rgb(181,0,0)"/><rect x="175.02" y="175.02" width="7.61" height="7.61" fill="rgb(158,0,0)"/><rect x="68.49" y="182.63" width="7.61" height="7.61" fill="rgb(184,0,0)"/><rect x="76.10" y="182.63" width="7.61" height="7.61" fill="rgb(161,0,0)"/><rect x="83.71" y="182.63" width="7.61" height="7.61" fill="rgb(214,0,0)"/><rect x="91.32" y="182.63" width="7.61" height="7.61" fill="rgb(237,0,0)"/><rect x="98.93" y="182.63" width="7.61" height="7.61" fill="rgb(227,0,0)"/><rect x="106.54" y="182.63" width="7.61" height="7.61" fill="rgb(255,0,0)"/><rect x="114.15" y="182.63" width="7.61" height="7.61" fill="rgb(237,0,0)"/><rect x="121.76" y="182.63" width="7.61" height="7.61" fill="rgb(235,0,0)"/><rect x="129.37" y="182.63" width="7.61" height="7.61" fill="rgb(230,0,0)"/><rect x="136.98" y="182.63" width="7.61" height="7.61" fill="rgb(224,0,0)"/><rect x="144.59" y="182.63" width="7.61" height="7.61" fill="rgb(227,0,0)"/><rect x="152.20" y="182.63" width="7.61" height="7.61" fill="rgb(217,0,0)"/><rect x="159.80" y="182.63" width="7.61" height="7.61" fill="rgb(191,0,0)"/><rect x="175.02" y="182.63" width="7.61" height="7.61" fill="rgb(140,0,0)"/><rect x="68.49" y="190.24" width="7.61" height="7.61" fill="rgb(166,0,0)"/><rect x="76.10" y="190.24" width="7.61" height="7.61" fill="rgb(178,0,0)"/><rect x="83.71" y="190.24" width="7.61" height="7.61" fill="rgb(181,0,0)"/><rect x="91.32" y="190.24" width="7.61" height="7.61" fill="rgb(222,0,0)"/><rect x="98.93" y="190.24" width="7.61" height="7.61" fill="rgb(240,0,0)"/><rect x="106.54" y="190.24" width="7.61" height="7.61" fill="rgb(219,0,0)"/><rect x="114.15" y="190.24" width="7.61" height="7.61" fill="rgb(245,0,0)"/><rect x="121.76" y="190.24" width="7.61" height="7.61" fill="rgb(255,0,0)"/><rect x="129.37" y="190.24" width="7.61" height="7.61" fill="rgb(217,0,0)"/><rect x="136.98" y="190.24" width="7.61" height="7.61" fill="rgb(222,0,0)"/><rect x="144.59" y="190.24" width="7.61" height="7.61" fill="rgb(209,0,0)"/><rect x="152.20" y="190.24" width="7.61" height="7.61" fill="rgb(166,0,0)"/><rect x="159.80" y="190.24" width="7.61" height="7.61" fill="rgb(201,0,0)"/><rect x="167.41" y="190.24" width="7.61" height="7.61" fill="rgb(196,0,0)"/><rect x="60.88" y="197.85" width="7.61" height="7.61" fill="rgb(173,0,0)"/><rect x="68.49" y="197.85" width="7.61" height="7.61" fill="rgb(176,0,0)"/><rect x="76.10" y="197.85" width="7.61" height="7.61" fill="rgb(184,0,0)"/><rect x="83.71" y="197.85" width="7.61" height="7.61" fill="rgb(171,0,0)"/><rect x="91.32" y="197.85" width="7.61" height="7.61" fill="rgb(186,0,0)"/><rect x="98.93" y="197.85" width="7.61" height="7.61" fill="rgb(219,0,0)"/><rect x="114.15" y="197.85" width="7.61" height="7.61" fill="rgb(237,0,0)"/><rect x="121.76" y="197.85" width="7.61" height="7.61" fill="rgb(222,0,0)"/><rect x="129.37" y="197.85" width="7.61" height="7.61" fill="rgb(240,0,0)"/><rect x="136.98" y="197.85" width="7.61" height="7.61" fill="rgb(201,0,0)"/><rect x="144.59" y="197.85" width="7.61" height="7.61" fill="rgb(227,0,0)"/><rect x="152.20" y="197.85" width="7.61" height="7.61" fill="rgb(207,0,0)"/><rect x="159.80" y="197.85" width="7.61" height="7.61" fill="rgb(209,0,0)"/><rect x="167.41" y="197.85" width="7.61" height="7.61" fill="rgb(158,0,0)"/><rect x="68.49" y="205.46" width="7.61" height="7.61" fill="rgb(150,0,0)"/><rect x="76.10" y="205.46" width="7.61" height="7.61" fill="rgb(207,0,0)"/><rect x="83.71" y="205.46" width="7.61" height="7.61" fill="rgb(161,0,0)"/><rect x="91.32" y="205.46" width="7.61" height="7.61" fill="rgb(171,0,0)"/><rect x="98.93" y="205.46" width="7.61" height="7.61" fill="rgb(212,0,0)"/><rect x="106.54" y="205.46" width="7.61" height="7.61" fill="rgb(194,0,0)"/><rect x="114.15" y="205.46" width="7.61" height="7.61" fill="rgb(240,0,0)"/><rect x="121.76" y="205.46" width="7.61" height="7.61" fill="rgb(219,0,0)"/><rect x="129.37" y="205.46" width="7.61" height="7.61" fill="rgb(227,0,0)"/><rect x="144.59" y="205.46" width="7.61" height="7.61" fill="rgb(212,0,0)"/><rect x="152.20" y="205.46" width="7.61" height="7.61" fill="rgb(168,0,0)"/><rect x="159.80" y="205.46" width="7.61" height="7.61" fill="rgb(199,0,0)"/><rect x="167.41" y="205.46" width="7.61" height="7.61" fill="rgb(171,0,0)"/><rect x="68.49" y="213.07" width="7.61" height="7.61" fill="rgb(153,0,0)"/><rect x="76.10" y="213.07" width="7.61" height="7.61" fill="rgb(196,0,0)"/><rect x="83.71" y="213.07" width="7.61" height="7.61" fill="rgb(201,0,0)"/><rect x="91.32" y="213.07" width="7.61" height="7.61" fill="rgb(204,0,0)"/><rect x="98.93" y="213.07" width="7.61" height="7.61" fill="rgb(191,0,0)"/><rect x="106.54" y="213.07" width="7.61" height="7.61" fill="rgb(217,0,0)"/><rect x="121.76" y="213.07" width="7.61" height="7.61" fill="rgb(232,0,0)"/><rect x="129.37" y="213.07" width="7.61" height="7.61" fill="rgb(207,0,0)"/><rect x="136.98" y="213.07" width="7.61" height="7.61" fill="rgb(194,0,0)"/><rect x="144.59" y="213.07" width="7.61" height="7.61" fill="rgb(194,0,0)"/><rect x="167.41" y="213.07" width="7.61" height="7.61" fill="rgb(150,0,0)"/><rect x="76.10" y="220.68" width="7.61" height="7.61" fill="rgb(150,0,0)"/><rect x="91.32" y="220.68" width="7.61" height="7.61" fill="rgb(166,0,0)"/><rect x="98.93" y="220.68" width="7.61" height="7.61" fill="rgb(181,0,0)"/><rect x="106.54" y="220.68" width="7.61" height="7.61" fill="rgb(178,0,0)"/><rect x="114.15" y="220.68" width="7.61" height="7.61" fill="rgb(173,0,0)"/><rect x="121.76" y="220.68" width="7.61" height="7.61" fill="rgb(217,0,0)"/><rect x="129.37" y="220.68" width="7.61" height="7.61" fill="rgb(204,0,0)"/><rect x="136.98" y="220.68" width="7.61" height="7.61" fill="rgb(201,0,0)"/><rect x="144.59" y="220.68" width="7.61" height="7.61" fill="rgb(194,0,0)"/><rect x="152.20" y="220.68" width="7.61" height="7.61" fill="rgb(143,0,0)"/><rect x="159.80" y="220.68" width="7.61" height="7.61" fill="rgb(178,0,0)"/><rect x="91.32" y="228.29" width="7.61" height="7.61" fill="rgb(156,0,0)"/><rect x="98.93" y="228.29" width="7.61" height="7.61" fill="rgb(168,0,0)"/><rect x="106.54" y="228.29" width="7.61" height="7.61" fill="rgb(181,0,0)"/><rect x="114.15" y="228.29" width="7.61" height="7.61" fill="rgb(196,0,0)"/><rect x="121.76" y="228.29" width="7.61" height="7.61" fill="rgb(194,0,0)"/><rect x="129.37" y="228.29" width="7.61" height="7.61" fill="rgb(186,0,0)"/><rect x="136.98" y="228.29" width="7.61" height="7.61" fill="rgb(191,0,0)"/><rect x="114.15" y="235.90" width="7.61" height="7.61" fill="rgb(163,0,0)"/><rect x="121.76" y="45.66" width="7.61" height="7.61" fill="rgb(140,0,0)"/><rect x="167.41" y="45.66" width="7.61" height="7.61" fill="rgb(153,0,0)"/><rect x="182.63" y="60.88" width="7.61" height="7.61" fill="rgb(140,0,0)"/><rect x="76.10" y="76.10" width="7.61" height="7.61" fill="rgb(140,0,0)"/><rect x="76.10" y="91.32" width="7.61" height="7.61" fill="rgb(140,0,0)"/><rect x="98.93" y="91.32" width="7.61" height="7.61" fill="rgb(128,0,0)"/><rect x="182.63" y="91.32" width="7.61" height="7.61" fill="rgb(128,0,0)"/><rect x="197.85" y="98.93" width="7.61" height="7.61" fill="rgb(140,0,0)"/><rect x="167.41" y="98.93" width="7.61" height="7.61" fill="rgb(153,0,0)"/><rect x="167.41" y="106.54" width="7.61" height="7.61" fill="rgb(153,0,0)"/><rect x="60.88" y="106.54" width="7.61" height="7.61" fill="rgb(153,0,0)"/><rect x="76.10" y="106.54" width="7.61" height="7.61" fill="rgb(153,0,0)"/><rect x="98.93" y="106.54" width="7.61" height="7.61" fill="rgb(153,0,0)"/><rect x="106.54" y="106.54" width="7.61" height="7.61" fill="rgb(153,0,0)"/><rect x="114.15" y="106.54" width="7.61" height="7.61" fill="rgb(153,0,0)"/><rect x="91.32" y="114.15" width="7.61" height="7.61" fill="rgb(153,0,0)"/><rect x="114.15" y="114.15" width="7.61" height="7.61" fill="rgb(153,0,0)"/><rect x="106.54" y="121.76" width="7.61" height="7.61" fill="rgb(153,0,0)"/><rect x="129.37" y="121.76" width="7.61" height="7.61" fill="rgb(153,0,0)"/><rect x="144.59" y="121.76" width="7.61" height="7.61" fill="rgb(153,0,0)"/><rect x="144.59" y="129.37" width="7.61" height="7.61" fill="rgb(153,0,0)"/><rect x="83.71" y="129.37" width="7.61" height="7.61" fill="rgb(153,0,0)"/><rect x="136.98" y="129.37" width="7.61" height="7.61" fill="rgb(153,0,0)"/><rect x="136.98" y="136.98" width="7.61" height="7.61" fill="rgb(153,0,0)"/><rect x="45.66" y="136.98" width="7.61" height="7.61" fill="rgb(153,0,0)"/><rect x="68.49" y="136.98" width="7.61" height="7.61" fill="rgb(153,0,0)"/><rect x="175.02" y="136.98" width="7.61" height="7.61" fill="rgb(153,0,0)"/><rect x="197.85" y="136.98" width="7.61" height="7.61" fill="rgb(153,0,0)"/><rect x="159.80" y="144.59" width="7.61" height="7.61" fill="rgb(153,0,0)"/><rect x="167.41" y="144.59" width="7.61" height="7.61" fill="rgb(153,0,0)"/><rect x="45.66" y="152.20" width="7.61" height="7.61" fill="rgb(153,0,0)"/><rect x="60.88" y="152.20" width="7.61" height="7.61" fill="rgb(153,0,0)"/><rect x="205.46" y="152.20" width="7.61" height="7.61" fill="rgb(153,0,0)"/><rect x="197.85" y="167.41" width="7.61" height="7.61" fill="rgb(153,0,0)"/><rect x="213.07" y="167.41" width="7.61" height="7.61" fill="rgb(153,0,0)"/><rect x="190.24" y="159.80" width="7.61" height="7.61" fill="rgb(153,0,0)"/><rect x="190.24" y="167.41" width="7.61" height="7.61" fill="rgb(153,0,0)"/><rect x="190.24" y="175.02" width="7.61" height="7.61" fill="rgb(153,0,0)"/><rect x="190.24" y="182.63" width="7.61" height="7.61" fill="rgb(153,0,0)"/><rect x="45.66" y="182.63" width="7.61" height="7.61" fill="rgb(153,0,0)"/><rect x="45.66" y="197.85" width="7.61" height="7.61" fill="rgb(153,0,0)"/><rect x="213.07" y="190.24" width="7.61" height="7.61" fill="rgb(153,0,0)"/><rect x="45.66" y="213.07" width="7.61" height="7.61" fill="rgb(153,0,0)"/><rect x="190.24" y="213.07" width="7.61" height="7.61" fill="rgb(153,0,0)"/><rect x="205.46" y="220.68" width="7.61" height="7.61" fill="rgb(153,0,0)"/><rect x="182.63" y="228.29" width="7.61" height="7.61" fill="rgb(153,0,0)"/><rect x="190.24" y="228.29" width="7.61" height="7.61" fill="rgb(153,0,0)"/><rect x="197.85" y="228.29" width="7.61" height="7.61" fill="rgb(153,0,0)"/><rect x="213.07" y="228.29" width="7.61" height="7.61" fill="rgb(153,0,0)"/><rect x="175.02" y="243.51" width="7.61" height="7.61" fill="rgb(140,0,0)"/><rect x="182.63" y="243.51" width="7.61" height="7.61" fill="rgb(140,0,0)"/><rect x="190.24" y="243.51" width="7.61" height="7.61" fill="rgb(140,0,0)"/><rect x="30.44" y="243.51" width="7.61" height="7.61" fill="rgb(128,0,0)"/><rect x="68.49" y="243.51" width="7.61" height="7.61" fill="rgb(140,0,0)"/><rect x="76.10" y="243.51" width="7.61" height="7.61" fill="rgb(140,0,0)"/><rect x="91.32" y="243.51" width="7.61" height="7.61" fill="rgb(153,0,0)"/><rect x="136.98" y="258.73" width="7.61" height="7.61" fill="rgb(153,0,0)"/><rect x="152.20" y="258.73" width="7.61" height="7.61" fill="rgb(153,0,0)"/><rect x="213.07" y="258.73" width="7.61" height="7.61" fill="rgb(128,0,0)"/><rect x="76.10" y="273.95" width="7.61" height="7.61" fill="rgb(128,0,0)"/><rect x="182.63" y="289.17" width="7.61" height="7.61" fill="rgb(128,0,0)"/></g></g><path d="M120.9 196.4l9.2 9.2m0 -9.2l-9.2 9.2" stroke="#fff" stroke-width="2.1" stroke-linecap="round" fill="none"/><text class="tt" x="32" y="20.8" font-size="19">γ ray, Pγ=9.83e-01</text>
</g>
<g transform="translate(314 314)">
<g clip-path="url(#pc)"><g filter="url(#jet)"><rect width="312" height="312" fill="#000"/><path d="M120,60 L160,65 L195,85 L205,120 L200,160 L185,195 L150,212 L120,215 L85,208 L55,200 L40,170 L40,130 L50,95 L80,68 Z" fill="none" stroke="#fff" stroke-opacity="0.22" stroke-width="44" stroke-linecap="round" stroke-linejoin="round" filter="url(#b10)"/><ellipse cx="10" cy="128" rx="30" ry="12" fill="url(#rf)" opacity="0.15"/><path d="M120,60 L160,65 L195,85 L205,120 L200,160 L185,195 L150,212 L120,215 L85,208 L55,200 L40,170 L40,130 L50,95 L80,68 Z" fill="none" stroke="#fff" stroke-opacity="0.33" stroke-width="24" stroke-linecap="round" stroke-linejoin="round" filter="url(#b6)"/><ellipse cx="85" cy="73" rx="66" ry="24" fill="url(#rg)" opacity="1.00" transform="rotate(-15 85 73)"/><ellipse cx="48" cy="112" rx="20" ry="40" fill="url(#rg)" opacity="0.80" transform="rotate(10 48 112)"/><ellipse cx="49" cy="200" rx="26" ry="26" fill="url(#rf)" opacity="0.35"/><ellipse cx="135" cy="220" rx="24" ry="30" fill="url(#rf)" opacity="0.38"/><ellipse cx="172" cy="195" rx="40" ry="22" fill="url(#rg)" opacity="0.95"/><ellipse cx="190" cy="118" rx="24" ry="46" fill="url(#rg)" opacity="0.82" transform="rotate(-10 190 118)"/><ellipse cx="155" cy="70" rx="22" ry="12" fill="url(#rf)" opacity="0.35" transform="rotate(10 155 70)"/></g><g style="mix-blend-mode:difference" shape-rendering="crispEdges"><rect x="91.32" y="91.32" width="7.61" height="7.61" fill="rgb(138,0,0)"/><rect x="98.93" y="91.32" width="7.61" height="7.61" fill="rgb(184,0,0)"/><rect x="106.54" y="91.32" width="7.61" height="7.61" fill="rgb(173,0,0)"/><rect x="114.15" y="91.32" width="7.61" height="7.61" fill="rgb(158,0,0)"/><rect x="129.37" y="91.32" width="7.61" height="7.61" fill="rgb(181,0,0)"/><rect x="83.71" y="98.93" width="7.61" height="7.61" fill="rgb(138,0,0)"/><rect x="98.93" y="98.93" width="7.61" height="7.61" fill="rgb(181,0,0)"/><rect x="106.54" y="98.93" width="7.61" height="7.61" fill="rgb(150,0,0)"/><rect x="114.15" y="98.93" width="7.61" height="7.61" fill="rgb(150,0,0)"/><rect x="129.37" y="98.93" width="7.61" height="7.61" fill="rgb(163,0,0)"/><rect x="136.98" y="98.93" width="7.61" height="7.61" fill="rgb(191,0,0)"/><rect x="144.59" y="98.93" width="7.61" height="7.61" fill="rgb(184,0,0)"/><rect x="152.20" y="98.93" width="7.61" height="7.61" fill="rgb(191,0,0)"/><rect x="83.71" y="106.54" width="7.61" height="7.61" fill="rgb(161,0,0)"/><rect x="91.32" y="106.54" width="7.61" height="7.61" fill="rgb(186,0,0)"/><rect x="98.93" y="106.54" width="7.61" height="7.61" fill="rgb(209,0,0)"/><rect x="106.54" y="106.54" width="7.61" height="7.61" fill="rgb(178,0,0)"/><rect x="114.15" y="106.54" width="7.61" height="7.61" fill="rgb(204,0,0)"/><rect x="121.76" y="106.54" width="7.61" height="7.61" fill="rgb(207,0,0)"/><rect x="129.37" y="106.54" width="7.61" height="7.61" fill="rgb(189,0,0)"/><rect x="136.98" y="106.54" width="7.61" height="7.61" fill="rgb(168,0,0)"/><rect x="144.59" y="106.54" width="7.61" height="7.61" fill="rgb(199,0,0)"/><rect x="152.20" y="106.54" width="7.61" height="7.61" fill="rgb(194,0,0)"/><rect x="159.80" y="106.54" width="7.61" height="7.61" fill="rgb(194,0,0)"/><rect x="68.49" y="114.15" width="7.61" height="7.61" fill="rgb(138,0,0)"/><rect x="76.10" y="114.15" width="7.61" height="7.61" fill="rgb(143,0,0)"/><rect x="98.93" y="114.15" width="7.61" height="7.61" fill="rgb(173,0,0)"/><rect x="106.54" y="114.15" width="7.61" height="7.61" fill="rgb(181,0,0)"/><rect x="121.76" y="114.15" width="7.61" height="7.61" fill="rgb(227,0,0)"/><rect x="129.37" y="114.15" width="7.61" height="7.61" fill="rgb(204,0,0)"/><rect x="136.98" y="114.15" width="7.61" height="7.61" fill="rgb(232,0,0)"/><rect x="144.59" y="114.15" width="7.61" height="7.61" fill="rgb(194,0,0)"/><rect x="152.20" y="114.15" width="7.61" height="7.61" fill="rgb(201,0,0)"/><rect x="159.80" y="114.15" width="7.61" height="7.61" fill="rgb(178,0,0)"/><rect x="175.02" y="114.15" width="7.61" height="7.61" fill="rgb(143,0,0)"/><rect x="68.49" y="121.76" width="7.61" height="7.61" fill="rgb(191,0,0)"/><rect x="76.10" y="121.76" width="7.61" height="7.61" fill="rgb(204,0,0)"/><rect x="83.71" y="121.76" width="7.61" height="7.61" fill="rgb(212,0,0)"/><rect x="91.32" y="121.76" width="7.61" height="7.61" fill="rgb(214,0,0)"/><rect x="98.93" y="121.76" width="7.61" height="7.61" fill="rgb(189,0,0)"/><rect x="106.54" y="121.76" width="7.61" height="7.61" fill="rgb(199,0,0)"/><rect x="114.15" y="121.76" width="7.61" height="7.61" fill="rgb(196,0,0)"/><rect x="121.76" y="121.76" width="7.61" height="7.61" fill="rgb(230,0,0)"/><rect x="129.37" y="121.76" width="7.61" height="7.61" fill="rgb(214,0,0)"/><rect x="136.98" y="121.76" width="7.61" height="7.61" fill="rgb(227,0,0)"/><rect x="144.59" y="121.76" width="7.61" height="7.61" fill="rgb(240,0,0)"/><rect x="152.20" y="121.76" width="7.61" height="7.61" fill="rgb(212,0,0)"/><rect x="159.80" y="121.76" width="7.61" height="7.61" fill="rgb(189,0,0)"/><rect x="60.88" y="129.37" width="7.61" height="7.61" fill="rgb(163,0,0)"/><rect x="76.10" y="129.37" width="7.61" height="7.61" fill="rgb(184,0,0)"/><rect x="83.71" y="129.37" width="7.61" height="7.61" fill="rgb(173,0,0)"/><rect x="91.32" y="129.37" width="7.61" height="7.61" fill="rgb(222,0,0)"/><rect x="98.93" y="129.37" width="7.61" height="7.61" fill="rgb(217,0,0)"/><rect x="106.54" y="129.37" width="7.61" height="7.61" fill="rgb(219,0,0)"/><rect x="114.15" y="129.37" width="7.61" height="7.61" fill="rgb(255,0,0)"/><rect x="129.37" y="129.37" width="7.61" height="7.61" fill="rgb(214,0,0)"/><rect x="136.98" y="129.37" width="7.61" height="7.61" fill="rgb(235,0,0)"/><rect x="144.59" y="129.37" width="7.61" height="7.61" fill="rgb(240,0,0)"/><rect x="152.20" y="129.37" width="7.61" height="7.61" fill="rgb(212,0,0)"/><rect x="159.80" y="129.37" width="7.61" height="7.61" fill="rgb(212,0,0)"/><rect x="167.41" y="129.37" width="7.61" height="7.61" fill="rgb(166,0,0)"/><rect x="175.02" y="129.37" width="7.61" height="7.61" fill="rgb(176,0,0)"/><rect x="182.63" y="129.37" width="7.61" height="7.61" fill="rgb(138,0,0)"/><rect x="60.88" y="136.98" width="7.61" height="7.61" fill="rgb(133,0,0)"/><rect x="68.49" y="136.98" width="7.61" height="7.61" fill="rgb(199,0,0)"/><rect x="76.10" y="136.98" width="7.61" height="7.61" fill="rgb(156,0,0)"/><rect x="83.71" y="136.98" width="7.61" height="7.61" fill="rgb(209,0,0)"/><rect x="91.32" y="136.98" width="7.61" height="7.61" fill="rgb(178,0,0)"/><rect x="98.93" y="136.98" width="7.61" height="7.61" fill="rgb(201,0,0)"/><rect x="106.54" y="136.98" width="7.61" height="7.61" fill="rgb(219,0,0)"/><rect x="114.15" y="136.98" width="7.61" height="7.61" fill="rgb(222,0,0)"/><rect x="129.37" y="136.98" width="7.61" height="7.61" fill="rgb(255,0,0)"/><rect x="136.98" y="136.98" width="7.61" height="7.61" fill="rgb(209,0,0)"/><rect x="144.59" y="136.98" width="7.61" height="7.61" fill="rgb(222,0,0)"/><rect x="152.20" y="136.98" width="7.61" height="7.61" fill="rgb(227,0,0)"/><rect x="159.80" y="136.98" width="7.61" height="7.61" fill="rgb(166,0,0)"/><rect x="167.41" y="136.98" width="7.61" height="7.61" fill="rgb(196,0,0)"/><rect x="175.02" y="136.98" width="7.61" height="7.61" fill="rgb(153,0,0)"/><rect x="182.63" y="136.98" width="7.61" height="7.61" fill="rgb(163,0,0)"/><rect x="68.49" y="144.59" width="7.61" height="7.61" fill="rgb(173,0,0)"/><rect x="76.10" y="144.59" width="7.61" height="7.61" fill="rgb(163,0,0)"/><rect x="83.71" y="144.59" width="7.61" height="7.61" fill="rgb(191,0,0)"/><rect x="91.32" y="144.59" width="7.61" height="7.61" fill="rgb(222,0,0)"/><rect x="98.93" y="144.59" width="7.61" height="7.61" fill="rgb(212,0,0)"/><rect x="106.54" y="144.59" width="7.61" height="7.61" fill="rgb(201,0,0)"/><rect x="114.15" y="144.59" width="7.61" height="7.61" fill="rgb(209,0,0)"/><rect x="121.76" y="144.59" width="7.61" height="7.61" fill="rgb(255,0,0)"/><rect x="129.37" y="144.59" width="7.61" height="7.61" fill="rgb(250,0,0)"/><rect x="136.98" y="144.59" width="7.61" height="7.61" fill="rgb(245,0,0)"/><rect x="144.59" y="144.59" width="7.61" height="7.61" fill="rgb(207,0,0)"/><rect x="152.20" y="144.59" width="7.61" height="7.61" fill="rgb(227,0,0)"/><rect x="159.80" y="144.59" width="7.61" height="7.61" fill="rgb(171,0,0)"/><rect x="167.41" y="144.59" width="7.61" height="7.61" fill="rgb(201,0,0)"/><rect x="175.02" y="144.59" width="7.61" height="7.61" fill="rgb(194,0,0)"/><rect x="182.63" y="144.59" width="7.61" height="7.61" fill="rgb(178,0,0)"/><rect x="60.88" y="152.20" width="7.61" height="7.61" fill="rgb(178,0,0)"/><rect x="83.71" y="152.20" width="7.61" height="7.61" fill="rgb(212,0,0)"/><rect x="106.54" y="152.20" width="7.61" height="7.61" fill="rgb(237,0,0)"/><rect x="114.15" y="152.20" width="7.61" height="7.61" fill="rgb(212,0,0)"/><rect x="121.76" y="152.20" width="7.61" height="7.61" fill="rgb(247,0,0)"/><rect x="129.37" y="152.20" width="7.61" height="7.61" fill="rgb(222,0,0)"/><rect x="144.59" y="152.20" width="7.61" height="7.61" fill="rgb(191,0,0)"/><rect x="152.20" y="152.20" width="7.61" height="7.61" fill="rgb(199,0,0)"/><rect x="159.80" y="152.20" width="7.61" height="7.61" fill="rgb(199,0,0)"/><rect x="175.02" y="152.20" width="7.61" height="7.61" fill="rgb(184,0,0)"/><rect x="68.49" y="159.80" width="7.61" height="7.61" fill="rgb(140,0,0)"/><rect x="76.10" y="159.80" width="7.61" height="7.61" fill="rgb(156,0,0)"/><rect x="83.71" y="159.80" width="7.61" height="7.61" fill="rgb(201,0,0)"/><rect x="91.32" y="159.80" width="7.61" height="7.61" fill="rgb(163,0,0)"/><rect x="98.93" y="159.80" width="7.61" height="7.61" fill="rgb(227,0,0)"/><rect x="106.54" y="159.80" width="7.61" height="7.61" fill="rgb(196,0,0)"/><rect x="114.15" y="159.80" width="7.61" height="7.61" fill="rgb(222,0,0)"/><rect x="121.76" y="159.80" width="7.61" height="7.61" fill="rgb(217,0,0)"/><rect x="129.37" y="159.80" width="7.61" height="7.61" fill="rgb(232,0,0)"/><rect x="136.98" y="159.80" width="7.61" height="7.61" fill="rgb(230,0,0)"/><rect x="144.59" y="159.80" width="7.61" height="7.61" fill="rgb(204,0,0)"/><rect x="152.20" y="159.80" width="7.61" height="7.61" fill="rgb(168,0,0)"/><rect x="159.80" y="159.80" width="7.61" height="7.61" fill="rgb(171,0,0)"/><rect x="167.41" y="159.80" width="7.61" height="7.61" fill="rgb(163,0,0)"/><rect x="175.02" y="159.80" width="7.61" height="7.61" fill="rgb(163,0,0)"/><rect x="91.32" y="167.41" width="7.61" height="7.61" fill="rgb(207,0,0)"/><rect x="98.93" y="167.41" width="7.61" height="7.61" fill="rgb(191,0,0)"/><rect x="106.54" y="167.41" width="7.61" height="7.61" fill="rgb(163,0,0)"/><rect x="129.37" y="167.41" width="7.61" height="7.61" fill="rgb(204,0,0)"/><rect x="136.98" y="167.41" width="7.61" height="7.61" fill="rgb(217,0,0)"/><rect x="152.20" y="167.41" width="7.61" height="7.61" fill="rgb(148,0,0)"/><rect x="83.71" y="175.02" width="7.61" height="7.61" fill="rgb(153,0,0)"/><rect x="91.32" y="175.02" width="7.61" height="7.61" fill="rgb(135,0,0)"/><rect x="98.93" y="175.02" width="7.61" height="7.61" fill="rgb(176,0,0)"/><rect x="106.54" y="175.02" width="7.61" height="7.61" fill="rgb(199,0,0)"/><rect x="129.37" y="175.02" width="7.61" height="7.61" fill="rgb(168,0,0)"/><rect x="136.98" y="175.02" width="7.61" height="7.61" fill="rgb(166,0,0)"/><rect x="106.54" y="182.63" width="7.61" height="7.61" fill="rgb(171,0,0)"/><rect x="114.15" y="182.63" width="7.61" height="7.61" fill="rgb(143,0,0)"/><rect x="129.37" y="182.63" width="7.61" height="7.61" fill="rgb(148,0,0)"/><rect x="136.98" y="182.63" width="7.61" height="7.61" fill="rgb(135,0,0)"/><rect x="121.76" y="45.66" width="7.61" height="7.61" fill="rgb(153,0,0)"/><rect x="136.98" y="45.66" width="7.61" height="7.61" fill="rgb(153,0,0)"/><rect x="136.98" y="60.88" width="7.61" height="7.61" fill="rgb(153,0,0)"/><rect x="152.20" y="60.88" width="7.61" height="7.61" fill="rgb(153,0,0)"/><rect x="106.54" y="60.88" width="7.61" height="7.61" fill="rgb(153,0,0)"/><rect x="167.41" y="76.10" width="7.61" height="7.61" fill="rgb(153,0,0)"/><rect x="76.10" y="76.10" width="7.61" height="7.61" fill="rgb(140,0,0)"/><rect x="30.44" y="91.32" width="7.61" height="7.61" fill="rgb(140,0,0)"/><rect x="30.44" y="106.54" width="7.61" height="7.61" fill="rgb(153,0,0)"/><rect x="205.46" y="91.32" width="7.61" height="7.61" fill="rgb(153,0,0)"/><rect x="182.63" y="98.93" width="7.61" height="7.61" fill="rgb(153,0,0)"/><rect x="167.41" y="106.54" width="7.61" height="7.61" fill="rgb(153,0,0)"/><rect x="182.63" y="114.15" width="7.61" height="7.61" fill="rgb(153,0,0)"/><rect x="190.24" y="114.15" width="7.61" height="7.61" fill="rgb(153,0,0)"/><rect x="190.24" y="129.37" width="7.61" height="7.61" fill="rgb(153,0,0)"/><rect x="213.07" y="129.37" width="7.61" height="7.61" fill="rgb(153,0,0)"/><rect x="15.22" y="136.98" width="7.61" height="7.61" fill="rgb(153,0,0)"/><rect x="30.44" y="136.98" width="7.61" height="7.61" fill="rgb(153,0,0)"/><rect x="45.66" y="136.98" width="7.61" height="7.61" fill="rgb(153,0,0)"/><rect x="30.44" y="152.20" width="7.61" height="7.61" fill="rgb(153,0,0)"/><rect x="190.24" y="144.59" width="7.61" height="7.61" fill="rgb(153,0,0)"/><rect x="190.24" y="152.20" width="7.61" height="7.61" fill="rgb(153,0,0)"/><rect x="175.02" y="167.41" width="7.61" height="7.61" fill="rgb(153,0,0)"/><rect x="175.02" y="175.02" width="7.61" height="7.61" fill="rgb(153,0,0)"/><rect x="213.07" y="175.02" width="7.61" height="7.61" fill="rgb(153,0,0)"/><rect x="205.46" y="182.63" width="7.61" height="7.61" fill="rgb(153,0,0)"/><rect x="60.88" y="182.63" width="7.61" height="7.61" fill="rgb(153,0,0)"/><rect x="76.10" y="182.63" width="7.61" height="7.61" fill="rgb(153,0,0)"/><rect x="83.71" y="190.24" width="7.61" height="7.61" fill="rgb(153,0,0)"/><rect x="83.71" y="197.85" width="7.61" height="7.61" fill="rgb(153,0,0)"/><rect x="98.93" y="197.85" width="7.61" height="7.61" fill="rgb(153,0,0)"/><rect x="45.66" y="197.85" width="7.61" height="7.61" fill="rgb(153,0,0)"/><rect x="182.63" y="190.24" width="7.61" height="7.61" fill="rgb(153,0,0)"/><rect x="182.63" y="197.85" width="7.61" height="7.61" fill="rgb(153,0,0)"/><rect x="159.80" y="190.24" width="7.61" height="7.61" fill="rgb(153,0,0)"/><rect x="121.76" y="197.85" width="7.61" height="7.61" fill="rgb(153,0,0)"/><rect x="121.76" y="205.46" width="7.61" height="7.61" fill="rgb(153,0,0)"/><rect x="129.37" y="205.46" width="7.61" height="7.61" fill="rgb(153,0,0)"/><rect x="136.98" y="205.46" width="7.61" height="7.61" fill="rgb(153,0,0)"/><rect x="121.76" y="213.07" width="7.61" height="7.61" fill="rgb(153,0,0)"/><rect x="136.98" y="213.07" width="7.61" height="7.61" fill="rgb(153,0,0)"/><rect x="106.54" y="213.07" width="7.61" height="7.61" fill="rgb(153,0,0)"/><rect x="106.54" y="220.68" width="7.61" height="7.61" fill="rgb(153,0,0)"/><rect x="175.02" y="213.07" width="7.61" height="7.61" fill="rgb(153,0,0)"/><rect x="190.24" y="213.07" width="7.61" height="7.61" fill="rgb(153,0,0)"/><rect x="205.46" y="220.68" width="7.61" height="7.61" fill="rgb(140,0,0)"/><rect x="258.73" y="213.07" width="7.61" height="7.61" fill="rgb(140,0,0)"/><rect x="45.66" y="228.29" width="7.61" height="7.61" fill="rgb(140,0,0)"/><rect x="60.88" y="228.29" width="7.61" height="7.61" fill="rgb(140,0,0)"/><rect x="98.93" y="228.29" width="7.61" height="7.61" fill="rgb(140,0,0)"/><rect x="159.80" y="228.29" width="7.61" height="7.61" fill="rgb(128,0,0)"/><rect x="114.15" y="235.90" width="7.61" height="7.61" fill="rgb(140,0,0)"/><rect x="129.37" y="243.51" width="7.61" height="7.61" fill="rgb(153,0,0)"/><rect x="136.98" y="243.51" width="7.61" height="7.61" fill="rgb(153,0,0)"/></g></g><path d="M117.9 133.7l9.2 9.2m0 -9.2l-9.2 9.2" stroke="#fff" stroke-width="2.1" stroke-linecap="round" fill="none"/><text class="tt" x="32" y="20.8" font-size="19">γ ray, Pγ=9.81e-01</text>
</g>
<rect x="2.9" y="2.9" width="306.2" height="306.2" fill="none" stroke="#f00" stroke-width="5.8"/>
<rect x="632" y="34" width="38" height="51.1" fill="rgb(128,0,0)"/>
<rect x="632" y="84.7" width="38" height="51.1" fill="rgb(229,0,0)"/>
<rect x="632" y="135.5" width="38" height="51.1" fill="rgb(255,76,0)"/>
<rect x="632" y="186.2" width="38" height="51.1" fill="rgb(255,179,0)"/>
<rect x="632" y="236.9" width="38" height="51.1" fill="rgb(229,255,26)"/>
<rect x="632" y="287.6" width="38" height="51.1" fill="rgb(128,255,128)"/>
<rect x="632" y="338.4" width="38" height="51.1" fill="rgb(26,255,229)"/>
<rect x="632" y="389.1" width="38" height="51.1" fill="rgb(0,178,255)"/>
<rect x="632" y="439.8" width="38" height="51.1" fill="rgb(0,77,255)"/>
<rect x="632" y="490.5" width="38" height="51.1" fill="rgb(0,0,230)"/>
<rect x="632" y="541.3" width="38" height="51.1" fill="rgb(0,0,128)"/>
<text class="cb" x="671.2" y="85.8" font-size="30.6">1.0</text>
<text class="cb" x="671.2" y="136.6" font-size="30.6">0.9</text>
<text class="cb" x="671.2" y="187.3" font-size="30.6">0.8</text>
<text class="cb" x="671.2" y="238" font-size="30.6">0.7</text>
<text class="cb" x="671.2" y="288.7" font-size="30.6">0.6</text>
<text class="cb" x="671.2" y="339.5" font-size="30.6">0.5</text>
<text class="cb" x="671.2" y="390.2" font-size="30.6">0.4</text>
<text class="cb" x="671.2" y="440.9" font-size="30.6">0.3</text>
<text class="cb" x="671.2" y="491.6" font-size="30.6">0.2</text>
<text class="cb" x="671.2" y="542.4" font-size="30.6">0.1</text>
<text class="cb" x="671.2" y="593.1" font-size="30.6">0.0</text>
</g>
<text class="cap" font-size="56" transform="translate(54.40 1527.10) scale(0.9000 1.12)">(</text>
<text class="cap" font-size="56" transform="translate(72.18 1527.10) scale(1.0619 1.00)">c</text>
<text class="cap" font-size="56" transform="translate(99.21 1527.10) scale(0.9929 1.12)">)</text>
<text class="cap" font-size="56" transform="translate(137.88 1527.10) scale(1.0234 1.00)">100</text>
<text class="cap" font-size="56" transform="translate(233.73 1527.10) scale(1.0660 1.00)">TeV</text>
<text class="cap" font-size="56" transform="translate(354.12 1527.10) scale(1.0907 1.00)">gamma</text>
<text class="cap" font-size="56" transform="translate(552.31 1527.10) scale(1.0878 1.00)">rays</text>
<g transform="translate(998.5 820.4)">
<g transform="translate(0 0)">
<g clip-path="url(#pc)"><g filter="url(#jet)"><rect width="312" height="312" fill="#000"/><ellipse cx="120" cy="168" rx="100" ry="105" fill="url(#rf)" opacity="0.12"/><ellipse cx="75" cy="130" rx="25" ry="30" fill="url(#rf)" opacity="0.10"/><ellipse cx="122" cy="176" rx="48" ry="48" fill="url(#rg)" opacity="1.00"/></g><g style="mix-blend-mode:difference" shape-rendering="crispEdges"><rect x="60.88" y="53.27" width="7.61" height="7.61" fill="rgb(140,0,0)"/><rect x="98.93" y="60.88" width="7.61" height="7.61" fill="rgb(135,0,0)"/><rect x="121.76" y="60.88" width="7.61" height="7.61" fill="rgb(143,0,0)"/><rect x="152.20" y="60.88" width="7.61" height="7.61" fill="rgb(148,0,0)"/><rect x="106.54" y="68.49" width="7.61" height="7.61" fill="rgb(120,0,0)"/><rect x="182.63" y="68.49" width="7.61" height="7.61" fill="rgb(143,0,0)"/><rect x="106.54" y="76.10" width="7.61" height="7.61" fill="rgb(163,0,0)"/><rect x="114.15" y="76.10" width="7.61" height="7.61" fill="rgb(150,0,0)"/><rect x="190.24" y="76.10" width="7.61" height="7.61" fill="rgb(130,0,0)"/><rect x="144.59" y="83.71" width="7.61" height="7.61" fill="rgb(158,0,0)"/><rect x="167.41" y="83.71" width="7.61" height="7.61" fill="rgb(133,0,0)"/><rect x="175.02" y="83.71" width="7.61" height="7.61" fill="rgb(163,0,0)"/><rect x="190.24" y="83.71" width="7.61" height="7.61" fill="rgb(117,0,0)"/><rect x="91.32" y="91.32" width="7.61" height="7.61" fill="rgb(138,0,0)"/><rect x="114.15" y="91.32" width="7.61" height="7.61" fill="rgb(145,0,0)"/><rect x="53.27" y="98.93" width="7.61" height="7.61" fill="rgb(120,0,0)"/><rect x="98.93" y="98.93" width="7.61" height="7.61" fill="rgb(171,0,0)"/><rect x="114.15" y="98.93" width="7.61" height="7.61" fill="rgb(163,0,0)"/><rect x="129.37" y="98.93" width="7.61" height="7.61" fill="rgb(122,0,0)"/><rect x="136.98" y="98.93" width="7.61" height="7.61" fill="rgb(171,0,0)"/><rect x="144.59" y="98.93" width="7.61" height="7.61" fill="rgb(158,0,0)"/><rect x="182.63" y="98.93" width="7.61" height="7.61" fill="rgb(156,0,0)"/><rect x="197.85" y="98.93" width="7.61" height="7.61" fill="rgb(158,0,0)"/><rect x="213.07" y="98.93" width="7.61" height="7.61" fill="rgb(156,0,0)"/><rect x="60.88" y="106.54" width="7.61" height="7.61" fill="rgb(150,0,0)"/><rect x="76.10" y="106.54" width="7.61" height="7.61" fill="rgb(112,0,0)"/><rect x="83.71" y="106.54" width="7.61" height="7.61" fill="rgb(138,0,0)"/><rect x="98.93" y="106.54" width="7.61" height="7.61" fill="rgb(133,0,0)"/><rect x="106.54" y="106.54" width="7.61" height="7.61" fill="rgb(150,0,0)"/><rect x="114.15" y="106.54" width="7.61" height="7.61" fill="rgb(156,0,0)"/><rect x="121.76" y="106.54" width="7.61" height="7.61" fill="rgb(143,0,0)"/><rect x="129.37" y="106.54" width="7.61" height="7.61" fill="rgb(176,0,0)"/><rect x="136.98" y="106.54" width="7.61" height="7.61" fill="rgb(128,0,0)"/><rect x="144.59" y="106.54" width="7.61" height="7.61" fill="rgb(161,0,0)"/><rect x="152.20" y="106.54" width="7.61" height="7.61" fill="rgb(166,0,0)"/><rect x="175.02" y="106.54" width="7.61" height="7.61" fill="rgb(140,0,0)"/><rect x="91.32" y="114.15" width="7.61" height="7.61" fill="rgb(168,0,0)"/><rect x="114.15" y="114.15" width="7.61" height="7.61" fill="rgb(135,0,0)"/><rect x="121.76" y="114.15" width="7.61" height="7.61" fill="rgb(176,0,0)"/><rect x="136.98" y="114.15" width="7.61" height="7.61" fill="rgb(130,0,0)"/><rect x="144.59" y="114.15" width="7.61" height="7.61" fill="rgb(176,0,0)"/><rect x="152.20" y="114.15" width="7.61" height="7.61" fill="rgb(173,0,0)"/><rect x="30.44" y="121.76" width="7.61" height="7.61" fill="rgb(125,0,0)"/><rect x="60.88" y="121.76" width="7.61" height="7.61" fill="rgb(115,0,0)"/><rect x="68.49" y="121.76" width="7.61" height="7.61" fill="rgb(122,0,0)"/><rect x="98.93" y="121.76" width="7.61" height="7.61" fill="rgb(156,0,0)"/><rect x="106.54" y="121.76" width="7.61" height="7.61" fill="rgb(173,0,0)"/><rect x="114.15" y="121.76" width="7.61" height="7.61" fill="rgb(181,0,0)"/><rect x="121.76" y="121.76" width="7.61" height="7.61" fill="rgb(168,0,0)"/><rect x="144.59" y="121.76" width="7.61" height="7.61" fill="rgb(171,0,0)"/><rect x="152.20" y="121.76" width="7.61" height="7.61" fill="rgb(125,0,0)"/><rect x="167.41" y="121.76" width="7.61" height="7.61" fill="rgb(130,0,0)"/><rect x="213.07" y="121.76" width="7.61" height="7.61" fill="rgb(122,0,0)"/><rect x="60.88" y="129.37" width="7.61" height="7.61" fill="rgb(148,0,0)"/><rect x="68.49" y="129.37" width="7.61" height="7.61" fill="rgb(168,0,0)"/><rect x="83.71" y="129.37" width="7.61" height="7.61" fill="rgb(133,0,0)"/><rect x="91.32" y="129.37" width="7.61" height="7.61" fill="rgb(163,0,0)"/><rect x="98.93" y="129.37" width="7.61" height="7.61" fill="rgb(181,0,0)"/><rect x="114.15" y="129.37" width="7.61" height="7.61" fill="rgb(161,0,0)"/><rect x="121.76" y="129.37" width="7.61" height="7.61" fill="rgb(196,0,0)"/><rect x="152.20" y="129.37" width="7.61" height="7.61" fill="rgb(171,0,0)"/><rect x="159.80" y="129.37" width="7.61" height="7.61" fill="rgb(130,0,0)"/><rect x="175.02" y="129.37" width="7.61" height="7.61" fill="rgb(140,0,0)"/><rect x="197.85" y="129.37" width="7.61" height="7.61" fill="rgb(153,0,0)"/><rect x="60.88" y="136.98" width="7.61" height="7.61" fill="rgb(125,0,0)"/><rect x="68.49" y="136.98" width="7.61" height="7.61" fill="rgb(168,0,0)"/><rect x="91.32" y="136.98" width="7.61" height="7.61" fill="rgb(156,0,0)"/><rect x="98.93" y="136.98" width="7.61" height="7.61" fill="rgb(158,0,0)"/><rect x="106.54" y="136.98" width="7.61" height="7.61" fill="rgb(158,0,0)"/><rect x="121.76" y="136.98" width="7.61" height="7.61" fill="rgb(207,0,0)"/><rect x="152.20" y="136.98" width="7.61" height="7.61" fill="rgb(145,0,0)"/><rect x="159.80" y="136.98" width="7.61" height="7.61" fill="rgb(150,0,0)"/><rect x="167.41" y="136.98" width="7.61" height="7.61" fill="rgb(150,0,0)"/><rect x="190.24" y="136.98" width="7.61" height="7.61" fill="rgb(133,0,0)"/><rect x="53.27" y="144.59" width="7.61" height="7.61" fill="rgb(156,0,0)"/><rect x="60.88" y="144.59" width="7.61" height="7.61" fill="rgb(145,0,0)"/><rect x="83.71" y="144.59" width="7.61" height="7.61" fill="rgb(189,0,0)"/><rect x="91.32" y="144.59" width="7.61" height="7.61" fill="rgb(184,0,0)"/><rect x="98.93" y="144.59" width="7.61" height="7.61" fill="rgb(150,0,0)"/><rect x="106.54" y="144.59" width="7.61" height="7.61" fill="rgb(209,0,0)"/><rect x="114.15" y="144.59" width="7.61" height="7.61" fill="rgb(212,0,0)"/><rect x="129.37" y="144.59" width="7.61" height="7.61" fill="rgb(178,0,0)"/><rect x="144.59" y="144.59" width="7.61" height="7.61" fill="rgb(176,0,0)"/><rect x="152.20" y="144.59" width="7.61" height="7.61" fill="rgb(178,0,0)"/><rect x="159.80" y="144.59" width="7.61" height="7.61" fill="rgb(163,0,0)"/><rect x="167.41" y="144.59" width="7.61" height="7.61" fill="rgb(171,0,0)"/><rect x="182.63" y="144.59" width="7.61" height="7.61" fill="rgb(125,0,0)"/><rect x="68.49" y="152.20" width="7.61" height="7.61" fill="rgb(176,0,0)"/><rect x="91.32" y="152.20" width="7.61" height="7.61" fill="rgb(145,0,0)"/><rect x="98.93" y="152.20" width="7.61" height="7.61" fill="rgb(194,0,0)"/><rect x="106.54" y="152.20" width="7.61" height="7.61" fill="rgb(176,0,0)"/><rect x="114.15" y="152.20" width="7.61" height="7.61" fill="rgb(186,0,0)"/><rect x="121.76" y="152.20" width="7.61" height="7.61" fill="rgb(168,0,0)"/><rect x="129.37" y="152.20" width="7.61" height="7.61" fill="rgb(163,0,0)"/><rect x="136.98" y="152.20" width="7.61" height="7.61" fill="rgb(168,0,0)"/><rect x="144.59" y="152.20" width="7.61" height="7.61" fill="rgb(150,0,0)"/><rect x="159.80" y="152.20" width="7.61" height="7.61" fill="rgb(158,0,0)"/><rect x="205.46" y="152.20" width="7.61" height="7.61" fill="rgb(156,0,0)"/><rect x="60.88" y="159.80" width="7.61" height="7.61" fill="rgb(150,0,0)"/><rect x="76.10" y="159.80" width="7.61" height="7.61" fill="rgb(148,0,0)"/><rect x="98.93" y="159.80" width="7.61" height="7.61" fill="rgb(161,0,0)"/><rect x="144.59" y="159.80" width="7.61" height="7.61" fill="rgb(186,0,0)"/><rect x="152.20" y="159.80" width="7.61" height="7.61" fill="rgb(145,0,0)"/><rect x="167.41" y="159.80" width="7.61" height="7.61" fill="rgb(173,0,0)"/><rect x="175.02" y="159.80" width="7.61" height="7.61" fill="rgb(125,0,0)"/><rect x="190.24" y="159.80" width="7.61" height="7.61" fill="rgb(163,0,0)"/><rect x="220.68" y="159.80" width="7.61" height="7.61" fill="rgb(153,0,0)"/><rect x="45.66" y="167.41" width="7.61" height="7.61" fill="rgb(122,0,0)"/><rect x="53.27" y="167.41" width="7.61" height="7.61" fill="rgb(150,0,0)"/><rect x="60.88" y="167.41" width="7.61" height="7.61" fill="rgb(163,0,0)"/><rect x="83.71" y="167.41" width="7.61" height="7.61" fill="rgb(161,0,0)"/><rect x="91.32" y="167.41" width="7.61" height="7.61" fill="rgb(150,0,0)"/><rect x="129.37" y="167.41" width="7.61" height="7.61" fill="rgb(176,0,0)"/><rect x="144.59" y="167.41" width="7.61" height="7.61" fill="rgb(181,0,0)"/><rect x="152.20" y="167.41" width="7.61" height="7.61" fill="rgb(178,0,0)"/><rect x="159.80" y="167.41" width="7.61" height="7.61" fill="rgb(156,0,0)"/><rect x="38.05" y="175.02" width="7.61" height="7.61" fill="rgb(117,0,0)"/><rect x="45.66" y="175.02" width="7.61" height="7.61" fill="rgb(128,0,0)"/><rect x="76.10" y="175.02" width="7.61" height="7.61" fill="rgb(143,0,0)"/><rect x="83.71" y="175.02" width="7.61" height="7.61" fill="rgb(171,0,0)"/><rect x="91.32" y="175.02" width="7.61" height="7.61" fill="rgb(145,0,0)"/><rect x="175.02" y="175.02" width="7.61" height="7.61" fill="rgb(120,0,0)"/><rect x="197.85" y="175.02" width="7.61" height="7.61" fill="rgb(143,0,0)"/><rect x="213.07" y="175.02" width="7.61" height="7.61" fill="rgb(145,0,0)"/><rect x="30.44" y="182.63" width="7.61" height="7.61" fill="rgb(125,0,0)"/><rect x="60.88" y="182.63" width="7.61" height="7.61" fill="rgb(153,0,0)"/><rect x="76.10" y="182.63" width="7.61" height="7.61" fill="rgb(161,0,0)"/><rect x="91.32" y="182.63" width="7.61" height="7.61" fill="rgb(184,0,0)"/><rect x="98.93" y="182.63" width="7.61" height="7.61" fill="rgb(171,0,0)"/><rect x="144.59" y="182.63" width="7.61" height="7.61" fill="rgb(186,0,0)"/><rect x="152.20" y="182.63" width="7.61" height="7.61" fill="rgb(181,0,0)"/><rect x="159.80" y="182.63" width="7.61" height="7.61" fill="rgb(138,0,0)"/><rect x="167.41" y="182.63" width="7.61" height="7.61" fill="rgb(135,0,0)"/><rect x="175.02" y="182.63" width="7.61" height="7.61" fill="rgb(163,0,0)"/><rect x="205.46" y="182.63" width="7.61" height="7.61" fill="rgb(153,0,0)"/><rect x="220.68" y="182.63" width="7.61" height="7.61" fill="rgb(150,0,0)"/><rect x="45.66" y="190.24" width="7.61" height="7.61" fill="rgb(117,0,0)"/><rect x="68.49" y="190.24" width="7.61" height="7.61" fill="rgb(128,0,0)"/><rect x="76.10" y="190.24" width="7.61" height="7.61" fill="rgb(150,0,0)"/><rect x="83.71" y="190.24" width="7.61" height="7.61" fill="rgb(133,0,0)"/><rect x="91.32" y="190.24" width="7.61" height="7.61" fill="rgb(143,0,0)"/><rect x="98.93" y="190.24" width="7.61" height="7.61" fill="rgb(178,0,0)"/><rect x="106.54" y="190.24" width="7.61" height="7.61" fill="rgb(176,0,0)"/><rect x="159.80" y="190.24" width="7.61" height="7.61" fill="rgb(156,0,0)"/><rect x="167.41" y="190.24" width="7.61" height="7.61" fill="rgb(145,0,0)"/><rect x="175.02" y="190.24" width="7.61" height="7.61" fill="rgb(168,0,0)"/><rect x="205.46" y="190.24" width="7.61" height="7.61" fill="rgb(135,0,0)"/><rect x="60.88" y="197.85" width="7.61" height="7.61" fill="rgb(140,0,0)"/><rect x="68.49" y="197.85" width="7.61" height="7.61" fill="rgb(168,0,0)"/><rect x="76.10" y="197.85" width="7.61" height="7.61" fill="rgb(125,0,0)"/><rect x="98.93" y="197.85" width="7.61" height="7.61" fill="rgb(143,0,0)"/><rect x="106.54" y="197.85" width="7.61" height="7.61" fill="rgb(168,0,0)"/><rect x="114.15" y="197.85" width="7.61" height="7.61" fill="rgb(156,0,0)"/><rect x="121.76" y="197.85" width="7.61" height="7.61" fill="rgb(153,0,0)"/><rect x="129.37" y="197.85" width="7.61" height="7.61" fill="rgb(153,0,0)"/><rect x="136.98" y="197.85" width="7.61" height="7.61" fill="rgb(171,0,0)"/><rect x="152.20" y="197.85" width="7.61" height="7.61" fill="rgb(178,0,0)"/><rect x="159.80" y="197.85" width="7.61" height="7.61" fill="rgb(125,0,0)"/><rect x="30.44" y="205.46" width="7.61" height="7.61" fill="rgb(115,0,0)"/><rect x="38.05" y="205.46" width="7.61" height="7.61" fill="rgb(122,0,0)"/><rect x="45.66" y="205.46" width="7.61" height="7.61" fill="rgb(120,0,0)"/><rect x="68.49" y="205.46" width="7.61" height="7.61" fill="rgb(143,0,0)"/><rect x="83.71" y="205.46" width="7.61" height="7.61" fill="rgb(176,0,0)"/><rect x="106.54" y="205.46" width="7.61" height="7.61" fill="rgb(171,0,0)"/><rect x="114.15" y="205.46" width="7.61" height="7.61" fill="rgb(161,0,0)"/><rect x="144.59" y="205.46" width="7.61" height="7.61" fill="rgb(184,0,0)"/><rect x="152.20" y="205.46" width="7.61" height="7.61" fill="rgb(133,0,0)"/><rect x="167.41" y="205.46" width="7.61" height="7.61" fill="rgb(168,0,0)"/><rect x="197.85" y="205.46" width="7.61" height="7.61" fill="rgb(122,0,0)"/><rect x="76.10" y="213.07" width="7.61" height="7.61" fill="rgb(163,0,0)"/><rect x="83.71" y="213.07" width="7.61" height="7.61" fill="rgb(140,0,0)"/><rect x="91.32" y="213.07" width="7.61" height="7.61" fill="rgb(145,0,0)"/><rect x="106.54" y="213.07" width="7.61" height="7.61" fill="rgb(156,0,0)"/><rect x="114.15" y="213.07" width="7.61" height="7.61" fill="rgb(178,0,0)"/><rect x="121.76" y="213.07" width="7.61" height="7.61" fill="rgb(153,0,0)"/><rect x="129.37" y="213.07" width="7.61" height="7.61" fill="rgb(163,0,0)"/><rect x="144.59" y="213.07" width="7.61" height="7.61" fill="rgb(166,0,0)"/><rect x="152.20" y="213.07" width="7.61" height="7.61" fill="rgb(130,0,0)"/><rect x="159.80" y="213.07" width="7.61" height="7.61" fill="rgb(128,0,0)"/><rect x="205.46" y="213.07" width="7.61" height="7.61" fill="rgb(148,0,0)"/><rect x="91.32" y="220.68" width="7.61" height="7.61" fill="rgb(171,0,0)"/><rect x="98.93" y="220.68" width="7.61" height="7.61" fill="rgb(130,0,0)"/><rect x="106.54" y="220.68" width="7.61" height="7.61" fill="rgb(150,0,0)"/><rect x="114.15" y="220.68" width="7.61" height="7.61" fill="rgb(168,0,0)"/><rect x="121.76" y="220.68" width="7.61" height="7.61" fill="rgb(173,0,0)"/><rect x="136.98" y="220.68" width="7.61" height="7.61" fill="rgb(176,0,0)"/><rect x="144.59" y="220.68" width="7.61" height="7.61" fill="rgb(133,0,0)"/><rect x="53.27" y="228.29" width="7.61" height="7.61" fill="rgb(143,0,0)"/><rect x="83.71" y="228.29" width="7.61" height="7.61" fill="rgb(133,0,0)"/><rect x="91.32" y="228.29" width="7.61" height="7.61" fill="rgb(158,0,0)"/><rect x="98.93" y="228.29" width="7.61" height="7.61" fill="rgb(158,0,0)"/><rect x="106.54" y="228.29" width="7.61" height="7.61" fill="rgb(163,0,0)"/><rect x="114.15" y="228.29" width="7.61" height="7.61" fill="rgb(173,0,0)"/><rect x="121.76" y="228.29" width="7.61" height="7.61" fill="rgb(158,0,0)"/><rect x="129.37" y="228.29" width="7.61" height="7.61" fill="rgb(145,0,0)"/><rect x="136.98" y="228.29" width="7.61" height="7.61" fill="rgb(125,0,0)"/><rect x="83.71" y="235.90" width="7.61" height="7.61" fill="rgb(122,0,0)"/><rect x="98.93" y="235.90" width="7.61" height="7.61" fill="rgb(153,0,0)"/><rect x="114.15" y="235.90" width="7.61" height="7.61" fill="rgb(168,0,0)"/><rect x="121.76" y="235.90" width="7.61" height="7.61" fill="rgb(135,0,0)"/><rect x="182.63" y="235.90" width="7.61" height="7.61" fill="rgb(130,0,0)"/><rect x="98.93" y="243.51" width="7.61" height="7.61" fill="rgb(125,0,0)"/><rect x="53.27" y="251.12" width="7.61" height="7.61" fill="rgb(148,0,0)"/><rect x="98.93" y="251.12" width="7.61" height="7.61" fill="rgb(163,0,0)"/><rect x="152.20" y="251.12" width="7.61" height="7.61" fill="rgb(138,0,0)"/><rect x="197.85" y="251.12" width="7.61" height="7.61" fill="rgb(135,0,0)"/><rect x="121.76" y="258.73" width="7.61" height="7.61" fill="rgb(117,0,0)"/><rect x="114.15" y="266.34" width="7.61" height="7.61" fill="rgb(133,0,0)"/><rect x="152.20" y="266.34" width="7.61" height="7.61" fill="rgb(156,0,0)"/><rect x="91.32" y="273.95" width="7.61" height="7.61" fill="rgb(120,0,0)"/><rect x="98.93" y="273.95" width="7.61" height="7.61" fill="rgb(148,0,0)"/><rect x="159.80" y="281.56" width="7.61" height="7.61" fill="rgb(153,0,0)"/></g></g><path d="M122.4 160.4l9.2 9.2m0 -9.2l-9.2 9.2" stroke="#fff" stroke-width="2.1" stroke-linecap="round" fill="none"/><text class="tt" x="32" y="20.8" font-size="19">Proton, Pγ=1.11e-04</text>
</g>
<g transform="translate(314 0)">
<g clip-path="url(#pc)"><g filter="url(#jet)"><rect width="312" height="312" fill="#000"/><ellipse cx="140" cy="165" rx="110" ry="120" fill="url(#rf)" opacity="0.12"/><ellipse cx="60" cy="145" rx="25" ry="30" fill="url(#rf)" opacity="0.10"/><ellipse cx="122" cy="198" rx="25" ry="28" fill="url(#rf)" opacity="0.18"/><ellipse cx="115" cy="160" rx="40" ry="40" fill="url(#rf)" opacity="0.15"/><ellipse cx="150" cy="140" rx="46" ry="46" fill="url(#rg)" opacity="1.00"/></g><g style="mix-blend-mode:difference" shape-rendering="crispEdges"><rect x="152.20" y="53.27" width="7.61" height="7.61" fill="rgb(130,0,0)"/><rect x="129.37" y="60.88" width="7.61" height="7.61" fill="rgb(133,0,0)"/><rect x="136.98" y="60.88" width="7.61" height="7.61" fill="rgb(158,0,0)"/><rect x="159.80" y="60.88" width="7.61" height="7.61" fill="rgb(117,0,0)"/><rect x="53.27" y="68.49" width="7.61" height="7.61" fill="rgb(135,0,0)"/><rect x="68.49" y="68.49" width="7.61" height="7.61" fill="rgb(120,0,0)"/><rect x="136.98" y="76.10" width="7.61" height="7.61" fill="rgb(122,0,0)"/><rect x="167.41" y="76.10" width="7.61" height="7.61" fill="rgb(122,0,0)"/><rect x="182.63" y="76.10" width="7.61" height="7.61" fill="rgb(120,0,0)"/><rect x="76.10" y="83.71" width="7.61" height="7.61" fill="rgb(122,0,0)"/><rect x="114.15" y="83.71" width="7.61" height="7.61" fill="rgb(145,0,0)"/><rect x="121.76" y="83.71" width="7.61" height="7.61" fill="rgb(138,0,0)"/><rect x="182.63" y="83.71" width="7.61" height="7.61" fill="rgb(148,0,0)"/><rect x="76.10" y="91.32" width="7.61" height="7.61" fill="rgb(156,0,0)"/><rect x="106.54" y="91.32" width="7.61" height="7.61" fill="rgb(150,0,0)"/><rect x="114.15" y="91.32" width="7.61" height="7.61" fill="rgb(148,0,0)"/><rect x="121.76" y="91.32" width="7.61" height="7.61" fill="rgb(130,0,0)"/><rect x="129.37" y="91.32" width="7.61" height="7.61" fill="rgb(161,0,0)"/><rect x="136.98" y="91.32" width="7.61" height="7.61" fill="rgb(128,0,0)"/><rect x="144.59" y="91.32" width="7.61" height="7.61" fill="rgb(153,0,0)"/><rect x="152.20" y="91.32" width="7.61" height="7.61" fill="rgb(122,0,0)"/><rect x="167.41" y="91.32" width="7.61" height="7.61" fill="rgb(143,0,0)"/><rect x="68.49" y="98.93" width="7.61" height="7.61" fill="rgb(122,0,0)"/><rect x="83.71" y="98.93" width="7.61" height="7.61" fill="rgb(135,0,0)"/><rect x="91.32" y="98.93" width="7.61" height="7.61" fill="rgb(143,0,0)"/><rect x="98.93" y="98.93" width="7.61" height="7.61" fill="rgb(168,0,0)"/><rect x="106.54" y="98.93" width="7.61" height="7.61" fill="rgb(122,0,0)"/><rect x="114.15" y="98.93" width="7.61" height="7.61" fill="rgb(130,0,0)"/><rect x="121.76" y="98.93" width="7.61" height="7.61" fill="rgb(158,0,0)"/><rect x="129.37" y="98.93" width="7.61" height="7.61" fill="rgb(176,0,0)"/><rect x="136.98" y="98.93" width="7.61" height="7.61" fill="rgb(173,0,0)"/><rect x="152.20" y="98.93" width="7.61" height="7.61" fill="rgb(161,0,0)"/><rect x="159.80" y="98.93" width="7.61" height="7.61" fill="rgb(163,0,0)"/><rect x="197.85" y="98.93" width="7.61" height="7.61" fill="rgb(156,0,0)"/><rect x="220.68" y="98.93" width="7.61" height="7.61" fill="rgb(163,0,0)"/><rect x="76.10" y="106.54" width="7.61" height="7.61" fill="rgb(143,0,0)"/><rect x="83.71" y="106.54" width="7.61" height="7.61" fill="rgb(163,0,0)"/><rect x="98.93" y="106.54" width="7.61" height="7.61" fill="rgb(140,0,0)"/><rect x="106.54" y="106.54" width="7.61" height="7.61" fill="rgb(166,0,0)"/><rect x="121.76" y="106.54" width="7.61" height="7.61" fill="rgb(178,0,0)"/><rect x="129.37" y="106.54" width="7.61" height="7.61" fill="rgb(133,0,0)"/><rect x="136.98" y="106.54" width="7.61" height="7.61" fill="rgb(148,0,0)"/><rect x="144.59" y="106.54" width="7.61" height="7.61" fill="rgb(140,0,0)"/><rect x="152.20" y="106.54" width="7.61" height="7.61" fill="rgb(168,0,0)"/><rect x="159.80" y="106.54" width="7.61" height="7.61" fill="rgb(128,0,0)"/><rect x="167.41" y="106.54" width="7.61" height="7.61" fill="rgb(120,0,0)"/><rect x="182.63" y="106.54" width="7.61" height="7.61" fill="rgb(143,0,0)"/><rect x="205.46" y="106.54" width="7.61" height="7.61" fill="rgb(153,0,0)"/><rect x="68.49" y="114.15" width="7.61" height="7.61" fill="rgb(125,0,0)"/><rect x="76.10" y="114.15" width="7.61" height="7.61" fill="rgb(168,0,0)"/><rect x="83.71" y="114.15" width="7.61" height="7.61" fill="rgb(161,0,0)"/><rect x="91.32" y="114.15" width="7.61" height="7.61" fill="rgb(143,0,0)"/><rect x="98.93" y="114.15" width="7.61" height="7.61" fill="rgb(181,0,0)"/><rect x="106.54" y="114.15" width="7.61" height="7.61" fill="rgb(161,0,0)"/><rect x="114.15" y="114.15" width="7.61" height="7.61" fill="rgb(168,0,0)"/><rect x="167.41" y="114.15" width="7.61" height="7.61" fill="rgb(122,0,0)"/><rect x="175.02" y="114.15" width="7.61" height="7.61" fill="rgb(122,0,0)"/><rect x="60.88" y="121.76" width="7.61" height="7.61" fill="rgb(128,0,0)"/><rect x="68.49" y="121.76" width="7.61" height="7.61" fill="rgb(122,0,0)"/><rect x="76.10" y="121.76" width="7.61" height="7.61" fill="rgb(148,0,0)"/><rect x="91.32" y="121.76" width="7.61" height="7.61" fill="rgb(150,0,0)"/><rect x="106.54" y="121.76" width="7.61" height="7.61" fill="rgb(184,0,0)"/><rect x="114.15" y="121.76" width="7.61" height="7.61" fill="rgb(204,0,0)"/><rect x="167.41" y="121.76" width="7.61" height="7.61" fill="rgb(166,0,0)"/><rect x="190.24" y="121.76" width="7.61" height="7.61" fill="rgb(138,0,0)"/><rect x="220.68" y="121.76" width="7.61" height="7.61" fill="rgb(138,0,0)"/><rect x="228.29" y="121.76" width="7.61" height="7.61" fill="rgb(163,0,0)"/><rect x="53.27" y="129.37" width="7.61" height="7.61" fill="rgb(115,0,0)"/><rect x="60.88" y="129.37" width="7.61" height="7.61" fill="rgb(158,0,0)"/><rect x="68.49" y="129.37" width="7.61" height="7.61" fill="rgb(143,0,0)"/><rect x="83.71" y="129.37" width="7.61" height="7.61" fill="rgb(178,0,0)"/><rect x="91.32" y="129.37" width="7.61" height="7.61" fill="rgb(171,0,0)"/><rect x="98.93" y="129.37" width="7.61" height="7.61" fill="rgb(163,0,0)"/><rect x="106.54" y="129.37" width="7.61" height="7.61" fill="rgb(176,0,0)"/><rect x="114.15" y="129.37" width="7.61" height="7.61" fill="rgb(163,0,0)"/><rect x="136.98" y="129.37" width="7.61" height="7.61" fill="rgb(209,0,0)"/><rect x="144.59" y="129.37" width="7.61" height="7.61" fill="rgb(201,0,0)"/><rect x="152.20" y="129.37" width="7.61" height="7.61" fill="rgb(178,0,0)"/><rect x="220.68" y="129.37" width="7.61" height="7.61" fill="rgb(143,0,0)"/><rect x="60.88" y="136.98" width="7.61" height="7.61" fill="rgb(128,0,0)"/><rect x="76.10" y="136.98" width="7.61" height="7.61" fill="rgb(189,0,0)"/><rect x="83.71" y="136.98" width="7.61" height="7.61" fill="rgb(161,0,0)"/><rect x="91.32" y="136.98" width="7.61" height="7.61" fill="rgb(201,0,0)"/><rect x="98.93" y="136.98" width="7.61" height="7.61" fill="rgb(163,0,0)"/><rect x="114.15" y="136.98" width="7.61" height="7.61" fill="rgb(189,0,0)"/><rect x="121.76" y="136.98" width="7.61" height="7.61" fill="rgb(219,0,0)"/><rect x="152.20" y="136.98" width="7.61" height="7.61" fill="rgb(158,0,0)"/><rect x="167.41" y="136.98" width="7.61" height="7.61" fill="rgb(140,0,0)"/><rect x="175.02" y="136.98" width="7.61" height="7.61" fill="rgb(166,0,0)"/><rect x="182.63" y="136.98" width="7.61" height="7.61" fill="rgb(168,0,0)"/><rect x="197.85" y="136.98" width="7.61" height="7.61" fill="rgb(145,0,0)"/><rect x="53.27" y="144.59" width="7.61" height="7.61" fill="rgb(163,0,0)"/><rect x="60.88" y="144.59" width="7.61" height="7.61" fill="rgb(171,0,0)"/><rect x="68.49" y="144.59" width="7.61" height="7.61" fill="rgb(128,0,0)"/><rect x="83.71" y="144.59" width="7.61" height="7.61" fill="rgb(191,0,0)"/><rect x="91.32" y="144.59" width="7.61" height="7.61" fill="rgb(186,0,0)"/><rect x="106.54" y="144.59" width="7.61" height="7.61" fill="rgb(214,0,0)"/><rect x="129.37" y="144.59" width="7.61" height="7.61" fill="rgb(184,0,0)"/><rect x="167.41" y="144.59" width="7.61" height="7.61" fill="rgb(163,0,0)"/><rect x="235.90" y="144.59" width="7.61" height="7.61" fill="rgb(156,0,0)"/><rect x="60.88" y="152.20" width="7.61" height="7.61" fill="rgb(173,0,0)"/><rect x="68.49" y="152.20" width="7.61" height="7.61" fill="rgb(176,0,0)"/><rect x="76.10" y="152.20" width="7.61" height="7.61" fill="rgb(163,0,0)"/><rect x="83.71" y="152.20" width="7.61" height="7.61" fill="rgb(166,0,0)"/><rect x="98.93" y="152.20" width="7.61" height="7.61" fill="rgb(184,0,0)"/><rect x="106.54" y="152.20" width="7.61" height="7.61" fill="rgb(176,0,0)"/><rect x="114.15" y="152.20" width="7.61" height="7.61" fill="rgb(194,0,0)"/><rect x="136.98" y="152.20" width="7.61" height="7.61" fill="rgb(222,0,0)"/><rect x="144.59" y="152.20" width="7.61" height="7.61" fill="rgb(184,0,0)"/><rect x="182.63" y="152.20" width="7.61" height="7.61" fill="rgb(161,0,0)"/><rect x="228.29" y="152.20" width="7.61" height="7.61" fill="rgb(156,0,0)"/><rect x="38.05" y="159.80" width="7.61" height="7.61" fill="rgb(128,0,0)"/><rect x="60.88" y="159.80" width="7.61" height="7.61" fill="rgb(168,0,0)"/><rect x="76.10" y="159.80" width="7.61" height="7.61" fill="rgb(143,0,0)"/><rect x="91.32" y="159.80" width="7.61" height="7.61" fill="rgb(173,0,0)"/><rect x="106.54" y="159.80" width="7.61" height="7.61" fill="rgb(196,0,0)"/><rect x="114.15" y="159.80" width="7.61" height="7.61" fill="rgb(214,0,0)"/><rect x="136.98" y="159.80" width="7.61" height="7.61" fill="rgb(201,0,0)"/><rect x="144.59" y="159.80" width="7.61" height="7.61" fill="rgb(214,0,0)"/><rect x="152.20" y="159.80" width="7.61" height="7.61" fill="rgb(181,0,0)"/><rect x="159.80" y="159.80" width="7.61" height="7.61" fill="rgb(173,0,0)"/><rect x="167.41" y="159.80" width="7.61" height="7.61" fill="rgb(138,0,0)"/><rect x="175.02" y="159.80" width="7.61" height="7.61" fill="rgb(166,0,0)"/><rect x="182.63" y="159.80" width="7.61" height="7.61" fill="rgb(125,0,0)"/><rect x="60.88" y="167.41" width="7.61" height="7.61" fill="rgb(133,0,0)"/><rect x="76.10" y="167.41" width="7.61" height="7.61" fill="rgb(166,0,0)"/><rect x="83.71" y="167.41" width="7.61" height="7.61" fill="rgb(196,0,0)"/><rect x="91.32" y="167.41" width="7.61" height="7.61" fill="rgb(153,0,0)"/><rect x="98.93" y="167.41" width="7.61" height="7.61" fill="rgb(161,0,0)"/><rect x="106.54" y="167.41" width="7.61" height="7.61" fill="rgb(201,0,0)"/><rect x="114.15" y="167.41" width="7.61" height="7.61" fill="rgb(209,0,0)"/><rect x="129.37" y="167.41" width="7.61" height="7.61" fill="rgb(196,0,0)"/><rect x="167.41" y="167.41" width="7.61" height="7.61" fill="rgb(168,0,0)"/><rect x="182.63" y="167.41" width="7.61" height="7.61" fill="rgb(133,0,0)"/><rect x="220.68" y="167.41" width="7.61" height="7.61" fill="rgb(128,0,0)"/><rect x="30.44" y="175.02" width="7.61" height="7.61" fill="rgb(143,0,0)"/><rect x="53.27" y="175.02" width="7.61" height="7.61" fill="rgb(122,0,0)"/><rect x="68.49" y="175.02" width="7.61" height="7.61" fill="rgb(171,0,0)"/><rect x="83.71" y="175.02" width="7.61" height="7.61" fill="rgb(171,0,0)"/><rect x="106.54" y="175.02" width="7.61" height="7.61" fill="rgb(178,0,0)"/><rect x="114.15" y="175.02" width="7.61" height="7.61" fill="rgb(199,0,0)"/><rect x="121.76" y="175.02" width="7.61" height="7.61" fill="rgb(204,0,0)"/><rect x="129.37" y="175.02" width="7.61" height="7.61" fill="rgb(207,0,0)"/><rect x="136.98" y="175.02" width="7.61" height="7.61" fill="rgb(158,0,0)"/><rect x="144.59" y="175.02" width="7.61" height="7.61" fill="rgb(166,0,0)"/><rect x="152.20" y="175.02" width="7.61" height="7.61" fill="rgb(189,0,0)"/><rect x="175.02" y="175.02" width="7.61" height="7.61" fill="rgb(143,0,0)"/><rect x="182.63" y="175.02" width="7.61" height="7.61" fill="rgb(140,0,0)"/><rect x="15.22" y="182.63" width="7.61" height="7.61" fill="rgb(133,0,0)"/><rect x="68.49" y="182.63" width="7.61" height="7.61" fill="rgb(153,0,0)"/><rect x="76.10" y="182.63" width="7.61" height="7.61" fill="rgb(171,0,0)"/><rect x="83.71" y="182.63" width="7.61" height="7.61" fill="rgb(138,0,0)"/><rect x="91.32" y="182.63" width="7.61" height="7.61" fill="rgb(184,0,0)"/><rect x="98.93" y="182.63" width="7.61" height="7.61" fill="rgb(166,0,0)"/><rect x="106.54" y="182.63" width="7.61" height="7.61" fill="rgb(186,0,0)"/><rect x="114.15" y="182.63" width="7.61" height="7.61" fill="rgb(199,0,0)"/><rect x="129.37" y="182.63" width="7.61" height="7.61" fill="rgb(168,0,0)"/><rect x="144.59" y="182.63" width="7.61" height="7.61" fill="rgb(161,0,0)"/><rect x="68.49" y="190.24" width="7.61" height="7.61" fill="rgb(117,0,0)"/><rect x="83.71" y="190.24" width="7.61" height="7.61" fill="rgb(150,0,0)"/><rect x="91.32" y="190.24" width="7.61" height="7.61" fill="rgb(138,0,0)"/><rect x="98.93" y="190.24" width="7.61" height="7.61" fill="rgb(138,0,0)"/><rect x="106.54" y="190.24" width="7.61" height="7.61" fill="rgb(173,0,0)"/><rect x="114.15" y="190.24" width="7.61" height="7.61" fill="rgb(166,0,0)"/><rect x="121.76" y="190.24" width="7.61" height="7.61" fill="rgb(181,0,0)"/><rect x="129.37" y="190.24" width="7.61" height="7.61" fill="rgb(184,0,0)"/><rect x="136.98" y="190.24" width="7.61" height="7.61" fill="rgb(145,0,0)"/><rect x="152.20" y="190.24" width="7.61" height="7.61" fill="rgb(161,0,0)"/><rect x="167.41" y="190.24" width="7.61" height="7.61" fill="rgb(120,0,0)"/><rect x="213.07" y="190.24" width="7.61" height="7.61" fill="rgb(161,0,0)"/><rect x="53.27" y="197.85" width="7.61" height="7.61" fill="rgb(163,0,0)"/><rect x="68.49" y="197.85" width="7.61" height="7.61" fill="rgb(166,0,0)"/><rect x="91.32" y="197.85" width="7.61" height="7.61" fill="rgb(166,0,0)"/><rect x="106.54" y="197.85" width="7.61" height="7.61" fill="rgb(145,0,0)"/><rect x="121.76" y="197.85" width="7.61" height="7.61" fill="rgb(163,0,0)"/><rect x="129.37" y="197.85" width="7.61" height="7.61" fill="rgb(186,0,0)"/><rect x="144.59" y="197.85" width="7.61" height="7.61" fill="rgb(145,0,0)"/><rect x="22.83" y="205.46" width="7.61" height="7.61" fill="rgb(135,0,0)"/><rect x="91.32" y="205.46" width="7.61" height="7.61" fill="rgb(130,0,0)"/><rect x="106.54" y="205.46" width="7.61" height="7.61" fill="rgb(143,0,0)"/><rect x="114.15" y="205.46" width="7.61" height="7.61" fill="rgb(171,0,0)"/><rect x="121.76" y="205.46" width="7.61" height="7.61" fill="rgb(178,0,0)"/><rect x="129.37" y="205.46" width="7.61" height="7.61" fill="rgb(153,0,0)"/><rect x="136.98" y="205.46" width="7.61" height="7.61" fill="rgb(176,0,0)"/><rect x="144.59" y="205.46" width="7.61" height="7.61" fill="rgb(153,0,0)"/><rect x="152.20" y="205.46" width="7.61" height="7.61" fill="rgb(145,0,0)"/><rect x="159.80" y="205.46" width="7.61" height="7.61" fill="rgb(115,0,0)"/><rect x="83.71" y="213.07" width="7.61" height="7.61" fill="rgb(140,0,0)"/><rect x="106.54" y="213.07" width="7.61" height="7.61" fill="rgb(143,0,0)"/><rect x="114.15" y="213.07" width="7.61" height="7.61" fill="rgb(135,0,0)"/><rect x="129.37" y="213.07" width="7.61" height="7.61" fill="rgb(133,0,0)"/><rect x="136.98" y="213.07" width="7.61" height="7.61" fill="rgb(122,0,0)"/><rect x="144.59" y="213.07" width="7.61" height="7.61" fill="rgb(117,0,0)"/><rect x="213.07" y="213.07" width="7.61" height="7.61" fill="rgb(148,0,0)"/><rect x="45.66" y="220.68" width="7.61" height="7.61" fill="rgb(130,0,0)"/><rect x="53.27" y="220.68" width="7.61" height="7.61" fill="rgb(130,0,0)"/><rect x="159.80" y="220.68" width="7.61" height="7.61" fill="rgb(150,0,0)"/><rect x="167.41" y="220.68" width="7.61" height="7.61" fill="rgb(148,0,0)"/><rect x="98.93" y="228.29" width="7.61" height="7.61" fill="rgb(163,0,0)"/><rect x="167.41" y="228.29" width="7.61" height="7.61" fill="rgb(120,0,0)"/><rect x="83.71" y="235.90" width="7.61" height="7.61" fill="rgb(120,0,0)"/><rect x="83.71" y="243.51" width="7.61" height="7.61" fill="rgb(133,0,0)"/><rect x="136.98" y="243.51" width="7.61" height="7.61" fill="rgb(133,0,0)"/><rect x="114.15" y="251.12" width="7.61" height="7.61" fill="rgb(138,0,0)"/><rect x="152.20" y="251.12" width="7.61" height="7.61" fill="rgb(138,0,0)"/><rect x="121.76" y="258.73" width="7.61" height="7.61" fill="rgb(161,0,0)"/><rect x="136.98" y="258.73" width="7.61" height="7.61" fill="rgb(163,0,0)"/></g></g><path d="M126.4 154.4l9.2 9.2m0 -9.2l-9.2 9.2" stroke="#fff" stroke-width="2.1" stroke-linecap="round" fill="none"/><text class="tt" x="32" y="20.8" font-size="19">Proton, Pγ=1.30e-04</text>
</g>
<g transform="translate(0 314)">
<g clip-path="url(#pc)"><g filter="url(#jet)"><rect width="312" height="312" fill="#000"/><ellipse cx="130" cy="200" rx="110" ry="120" fill="url(#rf)" opacity="0.12"/><ellipse cx="130" cy="185" rx="72" ry="38" fill="url(#rf)" opacity="0.24"/><ellipse cx="130" cy="160" rx="40" ry="25" fill="url(#rf)" opacity="0.15"/><ellipse cx="98" cy="187" rx="40" ry="36" fill="url(#rg)" opacity="0.86"/><ellipse cx="162" cy="180" rx="44" ry="42" fill="url(#rg)" opacity="1.00"/></g><g style="mix-blend-mode:difference" shape-rendering="crispEdges"><rect x="121.76" y="60.88" width="7.61" height="7.61" fill="rgb(156,0,0)"/><rect x="76.10" y="68.49" width="7.61" height="7.61" fill="rgb(115,0,0)"/><rect x="136.98" y="68.49" width="7.61" height="7.61" fill="rgb(125,0,0)"/><rect x="114.15" y="76.10" width="7.61" height="7.61" fill="rgb(135,0,0)"/><rect x="121.76" y="76.10" width="7.61" height="7.61" fill="rgb(130,0,0)"/><rect x="167.41" y="76.10" width="7.61" height="7.61" fill="rgb(125,0,0)"/><rect x="53.27" y="83.71" width="7.61" height="7.61" fill="rgb(145,0,0)"/><rect x="83.71" y="83.71" width="7.61" height="7.61" fill="rgb(138,0,0)"/><rect x="152.20" y="91.32" width="7.61" height="7.61" fill="rgb(117,0,0)"/><rect x="53.27" y="98.93" width="7.61" height="7.61" fill="rgb(148,0,0)"/><rect x="98.93" y="98.93" width="7.61" height="7.61" fill="rgb(130,0,0)"/><rect x="129.37" y="98.93" width="7.61" height="7.61" fill="rgb(138,0,0)"/><rect x="38.05" y="106.54" width="7.61" height="7.61" fill="rgb(161,0,0)"/><rect x="83.71" y="106.54" width="7.61" height="7.61" fill="rgb(140,0,0)"/><rect x="144.59" y="106.54" width="7.61" height="7.61" fill="rgb(158,0,0)"/><rect x="152.20" y="106.54" width="7.61" height="7.61" fill="rgb(148,0,0)"/><rect x="197.85" y="106.54" width="7.61" height="7.61" fill="rgb(166,0,0)"/><rect x="53.27" y="114.15" width="7.61" height="7.61" fill="rgb(153,0,0)"/><rect x="114.15" y="114.15" width="7.61" height="7.61" fill="rgb(133,0,0)"/><rect x="121.76" y="114.15" width="7.61" height="7.61" fill="rgb(130,0,0)"/><rect x="136.98" y="114.15" width="7.61" height="7.61" fill="rgb(120,0,0)"/><rect x="152.20" y="114.15" width="7.61" height="7.61" fill="rgb(158,0,0)"/><rect x="76.10" y="121.76" width="7.61" height="7.61" fill="rgb(145,0,0)"/><rect x="83.71" y="121.76" width="7.61" height="7.61" fill="rgb(161,0,0)"/><rect x="91.32" y="121.76" width="7.61" height="7.61" fill="rgb(130,0,0)"/><rect x="98.93" y="121.76" width="7.61" height="7.61" fill="rgb(163,0,0)"/><rect x="106.54" y="121.76" width="7.61" height="7.61" fill="rgb(173,0,0)"/><rect x="121.76" y="121.76" width="7.61" height="7.61" fill="rgb(138,0,0)"/><rect x="136.98" y="121.76" width="7.61" height="7.61" fill="rgb(130,0,0)"/><rect x="152.20" y="121.76" width="7.61" height="7.61" fill="rgb(163,0,0)"/><rect x="159.80" y="121.76" width="7.61" height="7.61" fill="rgb(148,0,0)"/><rect x="167.41" y="121.76" width="7.61" height="7.61" fill="rgb(158,0,0)"/><rect x="15.22" y="129.37" width="7.61" height="7.61" fill="rgb(156,0,0)"/><rect x="76.10" y="129.37" width="7.61" height="7.61" fill="rgb(138,0,0)"/><rect x="83.71" y="129.37" width="7.61" height="7.61" fill="rgb(138,0,0)"/><rect x="106.54" y="129.37" width="7.61" height="7.61" fill="rgb(133,0,0)"/><rect x="114.15" y="129.37" width="7.61" height="7.61" fill="rgb(178,0,0)"/><rect x="136.98" y="129.37" width="7.61" height="7.61" fill="rgb(163,0,0)"/><rect x="152.20" y="129.37" width="7.61" height="7.61" fill="rgb(181,0,0)"/><rect x="167.41" y="129.37" width="7.61" height="7.61" fill="rgb(133,0,0)"/><rect x="175.02" y="129.37" width="7.61" height="7.61" fill="rgb(161,0,0)"/><rect x="220.68" y="129.37" width="7.61" height="7.61" fill="rgb(143,0,0)"/><rect x="22.83" y="136.98" width="7.61" height="7.61" fill="rgb(163,0,0)"/><rect x="68.49" y="136.98" width="7.61" height="7.61" fill="rgb(138,0,0)"/><rect x="91.32" y="136.98" width="7.61" height="7.61" fill="rgb(143,0,0)"/><rect x="98.93" y="136.98" width="7.61" height="7.61" fill="rgb(140,0,0)"/><rect x="106.54" y="136.98" width="7.61" height="7.61" fill="rgb(181,0,0)"/><rect x="114.15" y="136.98" width="7.61" height="7.61" fill="rgb(178,0,0)"/><rect x="129.37" y="136.98" width="7.61" height="7.61" fill="rgb(158,0,0)"/><rect x="136.98" y="136.98" width="7.61" height="7.61" fill="rgb(150,0,0)"/><rect x="167.41" y="136.98" width="7.61" height="7.61" fill="rgb(148,0,0)"/><rect x="182.63" y="136.98" width="7.61" height="7.61" fill="rgb(148,0,0)"/><rect x="7.61" y="144.59" width="7.61" height="7.61" fill="rgb(120,0,0)"/><rect x="60.88" y="144.59" width="7.61" height="7.61" fill="rgb(120,0,0)"/><rect x="91.32" y="144.59" width="7.61" height="7.61" fill="rgb(166,0,0)"/><rect x="114.15" y="144.59" width="7.61" height="7.61" fill="rgb(171,0,0)"/><rect x="129.37" y="144.59" width="7.61" height="7.61" fill="rgb(186,0,0)"/><rect x="136.98" y="144.59" width="7.61" height="7.61" fill="rgb(196,0,0)"/><rect x="144.59" y="144.59" width="7.61" height="7.61" fill="rgb(168,0,0)"/><rect x="182.63" y="144.59" width="7.61" height="7.61" fill="rgb(125,0,0)"/><rect x="38.05" y="152.20" width="7.61" height="7.61" fill="rgb(150,0,0)"/><rect x="53.27" y="152.20" width="7.61" height="7.61" fill="rgb(161,0,0)"/><rect x="91.32" y="152.20" width="7.61" height="7.61" fill="rgb(191,0,0)"/><rect x="114.15" y="152.20" width="7.61" height="7.61" fill="rgb(194,0,0)"/><rect x="121.76" y="152.20" width="7.61" height="7.61" fill="rgb(173,0,0)"/><rect x="136.98" y="152.20" width="7.61" height="7.61" fill="rgb(194,0,0)"/><rect x="144.59" y="152.20" width="7.61" height="7.61" fill="rgb(209,0,0)"/><rect x="182.63" y="152.20" width="7.61" height="7.61" fill="rgb(153,0,0)"/><rect x="190.24" y="152.20" width="7.61" height="7.61" fill="rgb(148,0,0)"/><rect x="68.49" y="159.80" width="7.61" height="7.61" fill="rgb(143,0,0)"/><rect x="76.10" y="159.80" width="7.61" height="7.61" fill="rgb(156,0,0)"/><rect x="91.32" y="159.80" width="7.61" height="7.61" fill="rgb(148,0,0)"/><rect x="98.93" y="159.80" width="7.61" height="7.61" fill="rgb(173,0,0)"/><rect x="114.15" y="159.80" width="7.61" height="7.61" fill="rgb(196,0,0)"/><rect x="121.76" y="159.80" width="7.61" height="7.61" fill="rgb(191,0,0)"/><rect x="129.37" y="159.80" width="7.61" height="7.61" fill="rgb(196,0,0)"/><rect x="136.98" y="159.80" width="7.61" height="7.61" fill="rgb(219,0,0)"/><rect x="159.80" y="159.80" width="7.61" height="7.61" fill="rgb(168,0,0)"/><rect x="167.41" y="159.80" width="7.61" height="7.61" fill="rgb(173,0,0)"/><rect x="175.02" y="159.80" width="7.61" height="7.61" fill="rgb(168,0,0)"/><rect x="190.24" y="159.80" width="7.61" height="7.61" fill="rgb(138,0,0)"/><rect x="7.61" y="167.41" width="7.61" height="7.61" fill="rgb(122,0,0)"/><rect x="76.10" y="167.41" width="7.61" height="7.61" fill="rgb(189,0,0)"/><rect x="106.54" y="167.41" width="7.61" height="7.61" fill="rgb(184,0,0)"/><rect x="121.76" y="167.41" width="7.61" height="7.61" fill="rgb(217,0,0)"/><rect x="175.02" y="167.41" width="7.61" height="7.61" fill="rgb(189,0,0)"/><rect x="182.63" y="167.41" width="7.61" height="7.61" fill="rgb(130,0,0)"/><rect x="205.46" y="167.41" width="7.61" height="7.61" fill="rgb(143,0,0)"/><rect x="228.29" y="167.41" width="7.61" height="7.61" fill="rgb(117,0,0)"/><rect x="53.27" y="175.02" width="7.61" height="7.61" fill="rgb(158,0,0)"/><rect x="68.49" y="175.02" width="7.61" height="7.61" fill="rgb(138,0,0)"/><rect x="136.98" y="175.02" width="7.61" height="7.61" fill="rgb(201,0,0)"/><rect x="182.63" y="175.02" width="7.61" height="7.61" fill="rgb(153,0,0)"/><rect x="197.85" y="175.02" width="7.61" height="7.61" fill="rgb(148,0,0)"/><rect x="68.49" y="182.63" width="7.61" height="7.61" fill="rgb(150,0,0)"/><rect x="76.10" y="182.63" width="7.61" height="7.61" fill="rgb(173,0,0)"/><rect x="98.93" y="182.63" width="7.61" height="7.61" fill="rgb(201,0,0)"/><rect x="114.15" y="182.63" width="7.61" height="7.61" fill="rgb(171,0,0)"/><rect x="121.76" y="182.63" width="7.61" height="7.61" fill="rgb(178,0,0)"/><rect x="136.98" y="182.63" width="7.61" height="7.61" fill="rgb(171,0,0)"/><rect x="152.20" y="182.63" width="7.61" height="7.61" fill="rgb(181,0,0)"/><rect x="182.63" y="182.63" width="7.61" height="7.61" fill="rgb(173,0,0)"/><rect x="190.24" y="182.63" width="7.61" height="7.61" fill="rgb(163,0,0)"/><rect x="220.68" y="182.63" width="7.61" height="7.61" fill="rgb(140,0,0)"/><rect x="45.66" y="190.24" width="7.61" height="7.61" fill="rgb(122,0,0)"/><rect x="60.88" y="190.24" width="7.61" height="7.61" fill="rgb(135,0,0)"/><rect x="68.49" y="190.24" width="7.61" height="7.61" fill="rgb(125,0,0)"/><rect x="76.10" y="190.24" width="7.61" height="7.61" fill="rgb(176,0,0)"/><rect x="114.15" y="190.24" width="7.61" height="7.61" fill="rgb(186,0,0)"/><rect x="129.37" y="190.24" width="7.61" height="7.61" fill="rgb(222,0,0)"/><rect x="144.59" y="190.24" width="7.61" height="7.61" fill="rgb(191,0,0)"/><rect x="152.20" y="190.24" width="7.61" height="7.61" fill="rgb(191,0,0)"/><rect x="190.24" y="190.24" width="7.61" height="7.61" fill="rgb(145,0,0)"/><rect x="83.71" y="197.85" width="7.61" height="7.61" fill="rgb(173,0,0)"/><rect x="106.54" y="197.85" width="7.61" height="7.61" fill="rgb(171,0,0)"/><rect x="121.76" y="197.85" width="7.61" height="7.61" fill="rgb(194,0,0)"/><rect x="144.59" y="197.85" width="7.61" height="7.61" fill="rgb(196,0,0)"/><rect x="159.80" y="197.85" width="7.61" height="7.61" fill="rgb(194,0,0)"/><rect x="167.41" y="197.85" width="7.61" height="7.61" fill="rgb(184,0,0)"/><rect x="182.63" y="197.85" width="7.61" height="7.61" fill="rgb(166,0,0)"/><rect x="190.24" y="197.85" width="7.61" height="7.61" fill="rgb(115,0,0)"/><rect x="7.61" y="205.46" width="7.61" height="7.61" fill="rgb(135,0,0)"/><rect x="60.88" y="205.46" width="7.61" height="7.61" fill="rgb(150,0,0)"/><rect x="68.49" y="205.46" width="7.61" height="7.61" fill="rgb(163,0,0)"/><rect x="76.10" y="205.46" width="7.61" height="7.61" fill="rgb(148,0,0)"/><rect x="91.32" y="205.46" width="7.61" height="7.61" fill="rgb(168,0,0)"/><rect x="106.54" y="205.46" width="7.61" height="7.61" fill="rgb(186,0,0)"/><rect x="136.98" y="205.46" width="7.61" height="7.61" fill="rgb(168,0,0)"/><rect x="144.59" y="205.46" width="7.61" height="7.61" fill="rgb(184,0,0)"/><rect x="152.20" y="205.46" width="7.61" height="7.61" fill="rgb(156,0,0)"/><rect x="159.80" y="205.46" width="7.61" height="7.61" fill="rgb(156,0,0)"/><rect x="167.41" y="205.46" width="7.61" height="7.61" fill="rgb(156,0,0)"/><rect x="205.46" y="205.46" width="7.61" height="7.61" fill="rgb(138,0,0)"/><rect x="60.88" y="213.07" width="7.61" height="7.61" fill="rgb(163,0,0)"/><rect x="76.10" y="213.07" width="7.61" height="7.61" fill="rgb(150,0,0)"/><rect x="106.54" y="213.07" width="7.61" height="7.61" fill="rgb(189,0,0)"/><rect x="121.76" y="213.07" width="7.61" height="7.61" fill="rgb(178,0,0)"/><rect x="129.37" y="213.07" width="7.61" height="7.61" fill="rgb(150,0,0)"/><rect x="159.80" y="213.07" width="7.61" height="7.61" fill="rgb(184,0,0)"/><rect x="175.02" y="213.07" width="7.61" height="7.61" fill="rgb(148,0,0)"/><rect x="182.63" y="213.07" width="7.61" height="7.61" fill="rgb(125,0,0)"/><rect x="205.46" y="213.07" width="7.61" height="7.61" fill="rgb(163,0,0)"/><rect x="91.32" y="220.68" width="7.61" height="7.61" fill="rgb(130,0,0)"/><rect x="98.93" y="220.68" width="7.61" height="7.61" fill="rgb(130,0,0)"/><rect x="121.76" y="220.68" width="7.61" height="7.61" fill="rgb(191,0,0)"/><rect x="129.37" y="220.68" width="7.61" height="7.61" fill="rgb(186,0,0)"/><rect x="144.59" y="220.68" width="7.61" height="7.61" fill="rgb(143,0,0)"/><rect x="167.41" y="220.68" width="7.61" height="7.61" fill="rgb(161,0,0)"/><rect x="175.02" y="220.68" width="7.61" height="7.61" fill="rgb(148,0,0)"/><rect x="228.29" y="220.68" width="7.61" height="7.61" fill="rgb(138,0,0)"/><rect x="68.49" y="228.29" width="7.61" height="7.61" fill="rgb(161,0,0)"/><rect x="91.32" y="228.29" width="7.61" height="7.61" fill="rgb(140,0,0)"/><rect x="98.93" y="228.29" width="7.61" height="7.61" fill="rgb(168,0,0)"/><rect x="106.54" y="228.29" width="7.61" height="7.61" fill="rgb(133,0,0)"/><rect x="114.15" y="228.29" width="7.61" height="7.61" fill="rgb(161,0,0)"/><rect x="144.59" y="228.29" width="7.61" height="7.61" fill="rgb(161,0,0)"/><rect x="152.20" y="228.29" width="7.61" height="7.61" fill="rgb(153,0,0)"/><rect x="60.88" y="235.90" width="7.61" height="7.61" fill="rgb(138,0,0)"/><rect x="68.49" y="235.90" width="7.61" height="7.61" fill="rgb(128,0,0)"/><rect x="106.54" y="235.90" width="7.61" height="7.61" fill="rgb(133,0,0)"/><rect x="121.76" y="235.90" width="7.61" height="7.61" fill="rgb(168,0,0)"/><rect x="129.37" y="235.90" width="7.61" height="7.61" fill="rgb(158,0,0)"/><rect x="175.02" y="235.90" width="7.61" height="7.61" fill="rgb(158,0,0)"/><rect x="205.46" y="235.90" width="7.61" height="7.61" fill="rgb(143,0,0)"/><rect x="114.15" y="243.51" width="7.61" height="7.61" fill="rgb(128,0,0)"/><rect x="121.76" y="243.51" width="7.61" height="7.61" fill="rgb(150,0,0)"/><rect x="220.68" y="243.51" width="7.61" height="7.61" fill="rgb(161,0,0)"/><rect x="53.27" y="251.12" width="7.61" height="7.61" fill="rgb(158,0,0)"/><rect x="129.37" y="251.12" width="7.61" height="7.61" fill="rgb(163,0,0)"/><rect x="53.27" y="258.73" width="7.61" height="7.61" fill="rgb(140,0,0)"/><rect x="175.02" y="258.73" width="7.61" height="7.61" fill="rgb(148,0,0)"/><rect x="121.76" y="266.34" width="7.61" height="7.61" fill="rgb(166,0,0)"/><rect x="129.37" y="266.34" width="7.61" height="7.61" fill="rgb(143,0,0)"/><rect x="167.41" y="266.34" width="7.61" height="7.61" fill="rgb(140,0,0)"/><rect x="98.93" y="273.95" width="7.61" height="7.61" fill="rgb(156,0,0)"/><rect x="106.54" y="273.95" width="7.61" height="7.61" fill="rgb(138,0,0)"/><rect x="175.02" y="273.95" width="7.61" height="7.61" fill="rgb(138,0,0)"/><rect x="182.63" y="273.95" width="7.61" height="7.61" fill="rgb(153,0,0)"/><rect x="76.10" y="281.56" width="7.61" height="7.61" fill="rgb(115,0,0)"/><rect x="152.20" y="281.56" width="7.61" height="7.61" fill="rgb(140,0,0)"/><rect x="167.41" y="281.56" width="7.61" height="7.61" fill="rgb(135,0,0)"/><rect x="175.02" y="281.56" width="7.61" height="7.61" fill="rgb(140,0,0)"/></g></g><path d="M126.4 185.4l9.2 9.2m0 -9.2l-9.2 9.2" stroke="#fff" stroke-width="2.1" stroke-linecap="round" fill="none"/><text class="tt" x="32" y="20.8" font-size="19">Proton, Pγ=1.05e-04</text>
</g>
<g transform="translate(314 314)">
<g clip-path="url(#pc)"><g filter="url(#jet)"><rect width="312" height="312" fill="#000"/><ellipse cx="160" cy="190" rx="110" ry="130" fill="url(#rf)" opacity="0.12"/><ellipse cx="160" cy="150" rx="62" ry="48" fill="url(#rf)" opacity="0.20"/><ellipse cx="110" cy="212" rx="22" ry="26" fill="url(#rf)" opacity="0.25"/><ellipse cx="105" cy="148" rx="26" ry="20" fill="url(#rf)" opacity="0.30"/><ellipse cx="105" cy="148" rx="16" ry="12" fill="url(#rf)" opacity="0.45"/><ellipse cx="165" cy="225" rx="68" ry="34" fill="url(#rf)" opacity="0.42" transform="rotate(-12 165 225)"/><ellipse cx="162" cy="228" rx="58" ry="28" fill="url(#rg)" opacity="1.00" transform="rotate(-15 162 228)"/><ellipse cx="205" cy="212" rx="16" ry="18" fill="url(#rf)" opacity="0.50"/></g><g style="mix-blend-mode:difference" shape-rendering="crispEdges"><rect x="114.15" y="45.66" width="7.61" height="7.61" fill="rgb(140,0,0)"/><rect x="152.20" y="53.27" width="7.61" height="7.61" fill="rgb(138,0,0)"/><rect x="197.85" y="53.27" width="7.61" height="7.61" fill="rgb(125,0,0)"/><rect x="76.10" y="60.88" width="7.61" height="7.61" fill="rgb(122,0,0)"/><rect x="121.76" y="60.88" width="7.61" height="7.61" fill="rgb(161,0,0)"/><rect x="136.98" y="60.88" width="7.61" height="7.61" fill="rgb(163,0,0)"/><rect x="159.80" y="60.88" width="7.61" height="7.61" fill="rgb(153,0,0)"/><rect x="175.02" y="68.49" width="7.61" height="7.61" fill="rgb(128,0,0)"/><rect x="220.68" y="68.49" width="7.61" height="7.61" fill="rgb(135,0,0)"/><rect x="83.71" y="76.10" width="7.61" height="7.61" fill="rgb(158,0,0)"/><rect x="106.54" y="76.10" width="7.61" height="7.61" fill="rgb(163,0,0)"/><rect x="136.98" y="76.10" width="7.61" height="7.61" fill="rgb(148,0,0)"/><rect x="45.66" y="83.71" width="7.61" height="7.61" fill="rgb(153,0,0)"/><rect x="182.63" y="83.71" width="7.61" height="7.61" fill="rgb(133,0,0)"/><rect x="213.07" y="83.71" width="7.61" height="7.61" fill="rgb(130,0,0)"/><rect x="235.90" y="83.71" width="7.61" height="7.61" fill="rgb(133,0,0)"/><rect x="45.66" y="91.32" width="7.61" height="7.61" fill="rgb(148,0,0)"/><rect x="91.32" y="91.32" width="7.61" height="7.61" fill="rgb(158,0,0)"/><rect x="98.93" y="91.32" width="7.61" height="7.61" fill="rgb(122,0,0)"/><rect x="114.15" y="91.32" width="7.61" height="7.61" fill="rgb(150,0,0)"/><rect x="136.98" y="91.32" width="7.61" height="7.61" fill="rgb(163,0,0)"/><rect x="152.20" y="91.32" width="7.61" height="7.61" fill="rgb(135,0,0)"/><rect x="205.46" y="91.32" width="7.61" height="7.61" fill="rgb(156,0,0)"/><rect x="60.88" y="98.93" width="7.61" height="7.61" fill="rgb(158,0,0)"/><rect x="98.93" y="98.93" width="7.61" height="7.61" fill="rgb(125,0,0)"/><rect x="136.98" y="98.93" width="7.61" height="7.61" fill="rgb(148,0,0)"/><rect x="152.20" y="98.93" width="7.61" height="7.61" fill="rgb(168,0,0)"/><rect x="159.80" y="98.93" width="7.61" height="7.61" fill="rgb(138,0,0)"/><rect x="167.41" y="98.93" width="7.61" height="7.61" fill="rgb(140,0,0)"/><rect x="175.02" y="98.93" width="7.61" height="7.61" fill="rgb(153,0,0)"/><rect x="205.46" y="98.93" width="7.61" height="7.61" fill="rgb(158,0,0)"/><rect x="220.68" y="98.93" width="7.61" height="7.61" fill="rgb(128,0,0)"/><rect x="228.29" y="98.93" width="7.61" height="7.61" fill="rgb(115,0,0)"/><rect x="53.27" y="106.54" width="7.61" height="7.61" fill="rgb(166,0,0)"/><rect x="60.88" y="106.54" width="7.61" height="7.61" fill="rgb(161,0,0)"/><rect x="91.32" y="106.54" width="7.61" height="7.61" fill="rgb(168,0,0)"/><rect x="98.93" y="106.54" width="7.61" height="7.61" fill="rgb(168,0,0)"/><rect x="121.76" y="106.54" width="7.61" height="7.61" fill="rgb(171,0,0)"/><rect x="129.37" y="106.54" width="7.61" height="7.61" fill="rgb(171,0,0)"/><rect x="136.98" y="106.54" width="7.61" height="7.61" fill="rgb(145,0,0)"/><rect x="152.20" y="106.54" width="7.61" height="7.61" fill="rgb(145,0,0)"/><rect x="175.02" y="106.54" width="7.61" height="7.61" fill="rgb(128,0,0)"/><rect x="213.07" y="106.54" width="7.61" height="7.61" fill="rgb(122,0,0)"/><rect x="60.88" y="114.15" width="7.61" height="7.61" fill="rgb(138,0,0)"/><rect x="98.93" y="114.15" width="7.61" height="7.61" fill="rgb(163,0,0)"/><rect x="106.54" y="114.15" width="7.61" height="7.61" fill="rgb(171,0,0)"/><rect x="121.76" y="114.15" width="7.61" height="7.61" fill="rgb(173,0,0)"/><rect x="129.37" y="114.15" width="7.61" height="7.61" fill="rgb(176,0,0)"/><rect x="136.98" y="114.15" width="7.61" height="7.61" fill="rgb(163,0,0)"/><rect x="144.59" y="114.15" width="7.61" height="7.61" fill="rgb(173,0,0)"/><rect x="152.20" y="114.15" width="7.61" height="7.61" fill="rgb(171,0,0)"/><rect x="159.80" y="114.15" width="7.61" height="7.61" fill="rgb(150,0,0)"/><rect x="167.41" y="114.15" width="7.61" height="7.61" fill="rgb(163,0,0)"/><rect x="175.02" y="114.15" width="7.61" height="7.61" fill="rgb(143,0,0)"/><rect x="190.24" y="114.15" width="7.61" height="7.61" fill="rgb(156,0,0)"/><rect x="213.07" y="114.15" width="7.61" height="7.61" fill="rgb(130,0,0)"/><rect x="220.68" y="114.15" width="7.61" height="7.61" fill="rgb(163,0,0)"/><rect x="243.51" y="114.15" width="7.61" height="7.61" fill="rgb(133,0,0)"/><rect x="258.73" y="114.15" width="7.61" height="7.61" fill="rgb(156,0,0)"/><rect x="53.27" y="121.76" width="7.61" height="7.61" fill="rgb(133,0,0)"/><rect x="76.10" y="121.76" width="7.61" height="7.61" fill="rgb(117,0,0)"/><rect x="91.32" y="121.76" width="7.61" height="7.61" fill="rgb(173,0,0)"/><rect x="98.93" y="121.76" width="7.61" height="7.61" fill="rgb(168,0,0)"/><rect x="121.76" y="121.76" width="7.61" height="7.61" fill="rgb(153,0,0)"/><rect x="129.37" y="121.76" width="7.61" height="7.61" fill="rgb(184,0,0)"/><rect x="144.59" y="121.76" width="7.61" height="7.61" fill="rgb(199,0,0)"/><rect x="152.20" y="121.76" width="7.61" height="7.61" fill="rgb(189,0,0)"/><rect x="159.80" y="121.76" width="7.61" height="7.61" fill="rgb(161,0,0)"/><rect x="167.41" y="121.76" width="7.61" height="7.61" fill="rgb(168,0,0)"/><rect x="175.02" y="121.76" width="7.61" height="7.61" fill="rgb(173,0,0)"/><rect x="190.24" y="121.76" width="7.61" height="7.61" fill="rgb(140,0,0)"/><rect x="243.51" y="121.76" width="7.61" height="7.61" fill="rgb(120,0,0)"/><rect x="68.49" y="129.37" width="7.61" height="7.61" fill="rgb(133,0,0)"/><rect x="76.10" y="129.37" width="7.61" height="7.61" fill="rgb(125,0,0)"/><rect x="83.71" y="129.37" width="7.61" height="7.61" fill="rgb(166,0,0)"/><rect x="144.59" y="129.37" width="7.61" height="7.61" fill="rgb(181,0,0)"/><rect x="159.80" y="129.37" width="7.61" height="7.61" fill="rgb(153,0,0)"/><rect x="167.41" y="129.37" width="7.61" height="7.61" fill="rgb(150,0,0)"/><rect x="182.63" y="129.37" width="7.61" height="7.61" fill="rgb(150,0,0)"/><rect x="197.85" y="129.37" width="7.61" height="7.61" fill="rgb(128,0,0)"/><rect x="205.46" y="129.37" width="7.61" height="7.61" fill="rgb(133,0,0)"/><rect x="68.49" y="136.98" width="7.61" height="7.61" fill="rgb(156,0,0)"/><rect x="76.10" y="136.98" width="7.61" height="7.61" fill="rgb(158,0,0)"/><rect x="83.71" y="136.98" width="7.61" height="7.61" fill="rgb(166,0,0)"/><rect x="98.93" y="136.98" width="7.61" height="7.61" fill="rgb(171,0,0)"/><rect x="129.37" y="136.98" width="7.61" height="7.61" fill="rgb(186,0,0)"/><rect x="144.59" y="136.98" width="7.61" height="7.61" fill="rgb(176,0,0)"/><rect x="152.20" y="136.98" width="7.61" height="7.61" fill="rgb(194,0,0)"/><rect x="159.80" y="136.98" width="7.61" height="7.61" fill="rgb(186,0,0)"/><rect x="167.41" y="136.98" width="7.61" height="7.61" fill="rgb(204,0,0)"/><rect x="175.02" y="136.98" width="7.61" height="7.61" fill="rgb(194,0,0)"/><rect x="182.63" y="136.98" width="7.61" height="7.61" fill="rgb(189,0,0)"/><rect x="197.85" y="136.98" width="7.61" height="7.61" fill="rgb(153,0,0)"/><rect x="213.07" y="136.98" width="7.61" height="7.61" fill="rgb(148,0,0)"/><rect x="235.90" y="136.98" width="7.61" height="7.61" fill="rgb(138,0,0)"/><rect x="30.44" y="144.59" width="7.61" height="7.61" fill="rgb(166,0,0)"/><rect x="68.49" y="144.59" width="7.61" height="7.61" fill="rgb(128,0,0)"/><rect x="83.71" y="144.59" width="7.61" height="7.61" fill="rgb(140,0,0)"/><rect x="121.76" y="144.59" width="7.61" height="7.61" fill="rgb(173,0,0)"/><rect x="129.37" y="144.59" width="7.61" height="7.61" fill="rgb(219,0,0)"/><rect x="144.59" y="144.59" width="7.61" height="7.61" fill="rgb(214,0,0)"/><rect x="190.24" y="144.59" width="7.61" height="7.61" fill="rgb(171,0,0)"/><rect x="197.85" y="144.59" width="7.61" height="7.61" fill="rgb(143,0,0)"/><rect x="213.07" y="144.59" width="7.61" height="7.61" fill="rgb(156,0,0)"/><rect x="243.51" y="144.59" width="7.61" height="7.61" fill="rgb(115,0,0)"/><rect x="266.34" y="144.59" width="7.61" height="7.61" fill="rgb(145,0,0)"/><rect x="60.88" y="152.20" width="7.61" height="7.61" fill="rgb(128,0,0)"/><rect x="76.10" y="152.20" width="7.61" height="7.61" fill="rgb(133,0,0)"/><rect x="83.71" y="152.20" width="7.61" height="7.61" fill="rgb(191,0,0)"/><rect x="121.76" y="152.20" width="7.61" height="7.61" fill="rgb(194,0,0)"/><rect x="144.59" y="152.20" width="7.61" height="7.61" fill="rgb(212,0,0)"/><rect x="167.41" y="152.20" width="7.61" height="7.61" fill="rgb(194,0,0)"/><rect x="175.02" y="152.20" width="7.61" height="7.61" fill="rgb(199,0,0)"/><rect x="182.63" y="152.20" width="7.61" height="7.61" fill="rgb(153,0,0)"/><rect x="213.07" y="152.20" width="7.61" height="7.61" fill="rgb(156,0,0)"/><rect x="7.61" y="159.80" width="7.61" height="7.61" fill="rgb(140,0,0)"/><rect x="60.88" y="159.80" width="7.61" height="7.61" fill="rgb(158,0,0)"/><rect x="68.49" y="159.80" width="7.61" height="7.61" fill="rgb(140,0,0)"/><rect x="98.93" y="159.80" width="7.61" height="7.61" fill="rgb(161,0,0)"/><rect x="106.54" y="159.80" width="7.61" height="7.61" fill="rgb(178,0,0)"/><rect x="136.98" y="159.80" width="7.61" height="7.61" fill="rgb(230,0,0)"/><rect x="152.20" y="159.80" width="7.61" height="7.61" fill="rgb(186,0,0)"/><rect x="159.80" y="159.80" width="7.61" height="7.61" fill="rgb(204,0,0)"/><rect x="182.63" y="159.80" width="7.61" height="7.61" fill="rgb(199,0,0)"/><rect x="190.24" y="159.80" width="7.61" height="7.61" fill="rgb(161,0,0)"/><rect x="197.85" y="159.80" width="7.61" height="7.61" fill="rgb(163,0,0)"/><rect x="205.46" y="159.80" width="7.61" height="7.61" fill="rgb(148,0,0)"/><rect x="228.29" y="159.80" width="7.61" height="7.61" fill="rgb(138,0,0)"/><rect x="60.88" y="167.41" width="7.61" height="7.61" fill="rgb(135,0,0)"/><rect x="68.49" y="167.41" width="7.61" height="7.61" fill="rgb(143,0,0)"/><rect x="76.10" y="167.41" width="7.61" height="7.61" fill="rgb(135,0,0)"/><rect x="91.32" y="167.41" width="7.61" height="7.61" fill="rgb(184,0,0)"/><rect x="98.93" y="167.41" width="7.61" height="7.61" fill="rgb(176,0,0)"/><rect x="106.54" y="167.41" width="7.61" height="7.61" fill="rgb(186,0,0)"/><rect x="121.76" y="167.41" width="7.61" height="7.61" fill="rgb(237,0,0)"/><rect x="129.37" y="167.41" width="7.61" height="7.61" fill="rgb(219,0,0)"/><rect x="136.98" y="167.41" width="7.61" height="7.61" fill="rgb(204,0,0)"/><rect x="144.59" y="167.41" width="7.61" height="7.61" fill="rgb(209,0,0)"/><rect x="159.80" y="167.41" width="7.61" height="7.61" fill="rgb(222,0,0)"/><rect x="167.41" y="167.41" width="7.61" height="7.61" fill="rgb(194,0,0)"/><rect x="175.02" y="167.41" width="7.61" height="7.61" fill="rgb(199,0,0)"/><rect x="182.63" y="167.41" width="7.61" height="7.61" fill="rgb(168,0,0)"/><rect x="197.85" y="167.41" width="7.61" height="7.61" fill="rgb(150,0,0)"/><rect x="205.46" y="167.41" width="7.61" height="7.61" fill="rgb(143,0,0)"/><rect x="22.83" y="175.02" width="7.61" height="7.61" fill="rgb(122,0,0)"/><rect x="68.49" y="175.02" width="7.61" height="7.61" fill="rgb(153,0,0)"/><rect x="83.71" y="175.02" width="7.61" height="7.61" fill="rgb(189,0,0)"/><rect x="98.93" y="175.02" width="7.61" height="7.61" fill="rgb(189,0,0)"/><rect x="106.54" y="175.02" width="7.61" height="7.61" fill="rgb(181,0,0)"/><rect x="129.37" y="175.02" width="7.61" height="7.61" fill="rgb(191,0,0)"/><rect x="136.98" y="175.02" width="7.61" height="7.61" fill="rgb(219,0,0)"/><rect x="159.80" y="175.02" width="7.61" height="7.61" fill="rgb(189,0,0)"/><rect x="167.41" y="175.02" width="7.61" height="7.61" fill="rgb(181,0,0)"/><rect x="175.02" y="175.02" width="7.61" height="7.61" fill="rgb(194,0,0)"/><rect x="182.63" y="175.02" width="7.61" height="7.61" fill="rgb(153,0,0)"/><rect x="197.85" y="175.02" width="7.61" height="7.61" fill="rgb(184,0,0)"/><rect x="205.46" y="175.02" width="7.61" height="7.61" fill="rgb(133,0,0)"/><rect x="220.68" y="175.02" width="7.61" height="7.61" fill="rgb(143,0,0)"/><rect x="98.93" y="182.63" width="7.61" height="7.61" fill="rgb(178,0,0)"/><rect x="106.54" y="182.63" width="7.61" height="7.61" fill="rgb(186,0,0)"/><rect x="114.15" y="182.63" width="7.61" height="7.61" fill="rgb(214,0,0)"/><rect x="121.76" y="182.63" width="7.61" height="7.61" fill="rgb(224,0,0)"/><rect x="136.98" y="182.63" width="7.61" height="7.61" fill="rgb(230,0,0)"/><rect x="144.59" y="182.63" width="7.61" height="7.61" fill="rgb(191,0,0)"/><rect x="159.80" y="182.63" width="7.61" height="7.61" fill="rgb(196,0,0)"/><rect x="167.41" y="182.63" width="7.61" height="7.61" fill="rgb(191,0,0)"/><rect x="190.24" y="182.63" width="7.61" height="7.61" fill="rgb(143,0,0)"/><rect x="197.85" y="182.63" width="7.61" height="7.61" fill="rgb(130,0,0)"/><rect x="205.46" y="182.63" width="7.61" height="7.61" fill="rgb(153,0,0)"/><rect x="243.51" y="182.63" width="7.61" height="7.61" fill="rgb(145,0,0)"/><rect x="83.71" y="190.24" width="7.61" height="7.61" fill="rgb(181,0,0)"/><rect x="91.32" y="190.24" width="7.61" height="7.61" fill="rgb(156,0,0)"/><rect x="114.15" y="190.24" width="7.61" height="7.61" fill="rgb(194,0,0)"/><rect x="129.37" y="190.24" width="7.61" height="7.61" fill="rgb(173,0,0)"/><rect x="136.98" y="190.24" width="7.61" height="7.61" fill="rgb(209,0,0)"/><rect x="144.59" y="190.24" width="7.61" height="7.61" fill="rgb(176,0,0)"/><rect x="152.20" y="190.24" width="7.61" height="7.61" fill="rgb(184,0,0)"/><rect x="159.80" y="190.24" width="7.61" height="7.61" fill="rgb(168,0,0)"/><rect x="167.41" y="190.24" width="7.61" height="7.61" fill="rgb(191,0,0)"/><rect x="182.63" y="190.24" width="7.61" height="7.61" fill="rgb(166,0,0)"/><rect x="190.24" y="190.24" width="7.61" height="7.61" fill="rgb(156,0,0)"/><rect x="197.85" y="190.24" width="7.61" height="7.61" fill="rgb(148,0,0)"/><rect x="205.46" y="190.24" width="7.61" height="7.61" fill="rgb(166,0,0)"/><rect x="228.29" y="190.24" width="7.61" height="7.61" fill="rgb(140,0,0)"/><rect x="258.73" y="190.24" width="7.61" height="7.61" fill="rgb(153,0,0)"/><rect x="68.49" y="197.85" width="7.61" height="7.61" fill="rgb(112,0,0)"/><rect x="83.71" y="197.85" width="7.61" height="7.61" fill="rgb(133,0,0)"/><rect x="91.32" y="197.85" width="7.61" height="7.61" fill="rgb(178,0,0)"/><rect x="98.93" y="197.85" width="7.61" height="7.61" fill="rgb(168,0,0)"/><rect x="106.54" y="197.85" width="7.61" height="7.61" fill="rgb(189,0,0)"/><rect x="114.15" y="197.85" width="7.61" height="7.61" fill="rgb(176,0,0)"/><rect x="129.37" y="197.85" width="7.61" height="7.61" fill="rgb(158,0,0)"/><rect x="136.98" y="197.85" width="7.61" height="7.61" fill="rgb(209,0,0)"/><rect x="152.20" y="197.85" width="7.61" height="7.61" fill="rgb(204,0,0)"/><rect x="159.80" y="197.85" width="7.61" height="7.61" fill="rgb(176,0,0)"/><rect x="175.02" y="197.85" width="7.61" height="7.61" fill="rgb(189,0,0)"/><rect x="190.24" y="197.85" width="7.61" height="7.61" fill="rgb(140,0,0)"/><rect x="30.44" y="205.46" width="7.61" height="7.61" fill="rgb(161,0,0)"/><rect x="76.10" y="205.46" width="7.61" height="7.61" fill="rgb(158,0,0)"/><rect x="83.71" y="205.46" width="7.61" height="7.61" fill="rgb(143,0,0)"/><rect x="98.93" y="205.46" width="7.61" height="7.61" fill="rgb(176,0,0)"/><rect x="106.54" y="205.46" width="7.61" height="7.61" fill="rgb(171,0,0)"/><rect x="121.76" y="205.46" width="7.61" height="7.61" fill="rgb(181,0,0)"/><rect x="144.59" y="205.46" width="7.61" height="7.61" fill="rgb(194,0,0)"/><rect x="167.41" y="205.46" width="7.61" height="7.61" fill="rgb(173,0,0)"/><rect x="175.02" y="205.46" width="7.61" height="7.61" fill="rgb(161,0,0)"/><rect x="258.73" y="205.46" width="7.61" height="7.61" fill="rgb(158,0,0)"/><rect x="22.83" y="213.07" width="7.61" height="7.61" fill="rgb(133,0,0)"/><rect x="30.44" y="213.07" width="7.61" height="7.61" fill="rgb(156,0,0)"/><rect x="76.10" y="213.07" width="7.61" height="7.61" fill="rgb(138,0,0)"/><rect x="83.71" y="213.07" width="7.61" height="7.61" fill="rgb(153,0,0)"/><rect x="98.93" y="213.07" width="7.61" height="7.61" fill="rgb(176,0,0)"/><rect x="106.54" y="213.07" width="7.61" height="7.61" fill="rgb(138,0,0)"/><rect x="159.80" y="213.07" width="7.61" height="7.61" fill="rgb(184,0,0)"/><rect x="197.85" y="213.07" width="7.61" height="7.61" fill="rgb(166,0,0)"/><rect x="15.22" y="220.68" width="7.61" height="7.61" fill="rgb(140,0,0)"/><rect x="38.05" y="220.68" width="7.61" height="7.61" fill="rgb(153,0,0)"/><rect x="60.88" y="220.68" width="7.61" height="7.61" fill="rgb(158,0,0)"/><rect x="91.32" y="220.68" width="7.61" height="7.61" fill="rgb(148,0,0)"/><rect x="98.93" y="220.68" width="7.61" height="7.61" fill="rgb(128,0,0)"/><rect x="106.54" y="220.68" width="7.61" height="7.61" fill="rgb(178,0,0)"/><rect x="114.15" y="220.68" width="7.61" height="7.61" fill="rgb(158,0,0)"/><rect x="121.76" y="220.68" width="7.61" height="7.61" fill="rgb(153,0,0)"/><rect x="129.37" y="220.68" width="7.61" height="7.61" fill="rgb(166,0,0)"/><rect x="144.59" y="220.68" width="7.61" height="7.61" fill="rgb(158,0,0)"/><rect x="152.20" y="220.68" width="7.61" height="7.61" fill="rgb(158,0,0)"/><rect x="167.41" y="220.68" width="7.61" height="7.61" fill="rgb(153,0,0)"/><rect x="190.24" y="220.68" width="7.61" height="7.61" fill="rgb(158,0,0)"/><rect x="228.29" y="220.68" width="7.61" height="7.61" fill="rgb(143,0,0)"/><rect x="22.83" y="228.29" width="7.61" height="7.61" fill="rgb(150,0,0)"/><rect x="76.10" y="228.29" width="7.61" height="7.61" fill="rgb(163,0,0)"/><rect x="98.93" y="228.29" width="7.61" height="7.61" fill="rgb(128,0,0)"/><rect x="106.54" y="228.29" width="7.61" height="7.61" fill="rgb(163,0,0)"/><rect x="114.15" y="228.29" width="7.61" height="7.61" fill="rgb(138,0,0)"/><rect x="121.76" y="228.29" width="7.61" height="7.61" fill="rgb(161,0,0)"/><rect x="129.37" y="228.29" width="7.61" height="7.61" fill="rgb(168,0,0)"/><rect x="167.41" y="228.29" width="7.61" height="7.61" fill="rgb(156,0,0)"/><rect x="251.12" y="228.29" width="7.61" height="7.61" fill="rgb(161,0,0)"/><rect x="76.10" y="235.90" width="7.61" height="7.61" fill="rgb(138,0,0)"/><rect x="114.15" y="235.90" width="7.61" height="7.61" fill="rgb(166,0,0)"/><rect x="121.76" y="235.90" width="7.61" height="7.61" fill="rgb(163,0,0)"/><rect x="136.98" y="235.90" width="7.61" height="7.61" fill="rgb(150,0,0)"/><rect x="197.85" y="235.90" width="7.61" height="7.61" fill="rgb(156,0,0)"/><rect x="213.07" y="235.90" width="7.61" height="7.61" fill="rgb(158,0,0)"/><rect x="243.51" y="235.90" width="7.61" height="7.61" fill="rgb(135,0,0)"/><rect x="190.24" y="243.51" width="7.61" height="7.61" fill="rgb(125,0,0)"/><rect x="197.85" y="243.51" width="7.61" height="7.61" fill="rgb(133,0,0)"/><rect x="60.88" y="251.12" width="7.61" height="7.61" fill="rgb(161,0,0)"/><rect x="190.24" y="251.12" width="7.61" height="7.61" fill="rgb(143,0,0)"/><rect x="91.32" y="258.73" width="7.61" height="7.61" fill="rgb(163,0,0)"/><rect x="114.15" y="258.73" width="7.61" height="7.61" fill="rgb(145,0,0)"/><rect x="136.98" y="266.34" width="7.61" height="7.61" fill="rgb(140,0,0)"/><rect x="76.10" y="273.95" width="7.61" height="7.61" fill="rgb(145,0,0)"/><rect x="106.54" y="273.95" width="7.61" height="7.61" fill="rgb(122,0,0)"/><rect x="144.59" y="273.95" width="7.61" height="7.61" fill="rgb(115,0,0)"/><rect x="182.63" y="281.56" width="7.61" height="7.61" fill="rgb(135,0,0)"/><rect x="136.98" y="289.17" width="7.61" height="7.61" fill="rgb(150,0,0)"/><rect x="144.59" y="289.17" width="7.61" height="7.61" fill="rgb(156,0,0)"/></g></g><path d="M153.4 184.4l9.2 9.2m0 -9.2l-9.2 9.2" stroke="#fff" stroke-width="2.1" stroke-linecap="round" fill="none"/><text class="tt" x="32" y="20.8" font-size="19">Proton, Pγ=1.28e-04</text>
</g>
<rect x="2.9" y="2.9" width="306.2" height="306.2" fill="none" stroke="#f00" stroke-width="5.8"/>
<rect x="632" y="34" width="38" height="51.1" fill="rgb(128,0,0)"/>
<rect x="632" y="84.7" width="38" height="51.1" fill="rgb(229,0,0)"/>
<rect x="632" y="135.5" width="38" height="51.1" fill="rgb(255,76,0)"/>
<rect x="632" y="186.2" width="38" height="51.1" fill="rgb(255,179,0)"/>
<rect x="632" y="236.9" width="38" height="51.1" fill="rgb(229,255,26)"/>
<rect x="632" y="287.6" width="38" height="51.1" fill="rgb(128,255,128)"/>
<rect x="632" y="338.4" width="38" height="51.1" fill="rgb(26,255,229)"/>
<rect x="632" y="389.1" width="38" height="51.1" fill="rgb(0,178,255)"/>
<rect x="632" y="439.8" width="38" height="51.1" fill="rgb(0,77,255)"/>
<rect x="632" y="490.5" width="38" height="51.1" fill="rgb(0,0,230)"/>
<rect x="632" y="541.3" width="38" height="51.1" fill="rgb(0,0,128)"/>
<text class="cb" x="671.2" y="85.8" font-size="30.6">1.0</text>
<text class="cb" x="671.2" y="136.6" font-size="30.6">0.9</text>
<text class="cb" x="671.2" y="187.3" font-size="30.6">0.8</text>
<text class="cb" x="671.2" y="238" font-size="30.6">0.7</text>
<text class="cb" x="671.2" y="288.7" font-size="30.6">0.6</text>
<text class="cb" x="671.2" y="339.5" font-size="30.6">0.5</text>
<text class="cb" x="671.2" y="390.2" font-size="30.6">0.4</text>
<text class="cb" x="671.2" y="440.9" font-size="30.6">0.3</text>
<text class="cb" x="671.2" y="491.6" font-size="30.6">0.2</text>
<text class="cb" x="671.2" y="542.4" font-size="30.6">0.1</text>
<text class="cb" x="671.2" y="593.1" font-size="30.6">0.0</text>
</g>
<text class="cap" font-size="56" transform="translate(1104.64 1527.10) scale(0.9857 1.12)">(</text>
<text class="cap" font-size="56" transform="translate(1123.60 1527.10) scale(1.1520 1.00)">d</text>
<text class="cap" font-size="56" transform="translate(1157.23 1527.10) scale(0.9857 1.12)">)</text>
<text class="cap" font-size="56" transform="translate(1195.98 1527.10) scale(1.0039 1.00)">165</text>
<text class="cap" font-size="56" transform="translate(1291.64 1527.10) scale(1.0649 1.00)">TeV</text>
<text class="cap" font-size="56" transform="translate(1412.70 1527.10) scale(1.1024 1.00)">protons</text>
</svg></body></html>
